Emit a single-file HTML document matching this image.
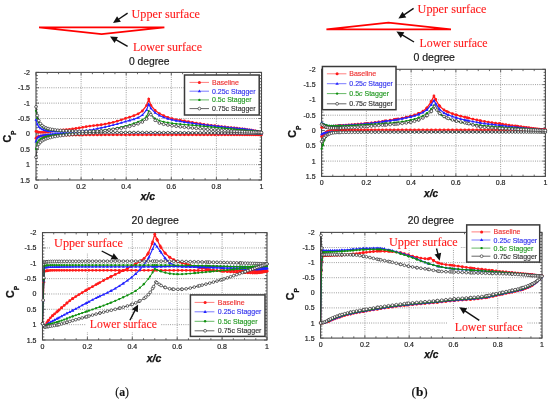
<!DOCTYPE html><html><head><meta charset="utf-8"><title>Cp distributions</title><style>
*{margin:0;padding:0}
html,body{width:550px;height:401px;background:#fff;overflow:hidden}
svg{display:block}
.tl{font-family:"Liberation Sans",Arial,sans-serif;font-size:7px;fill:#222;stroke:#222;stroke-width:0.18px}
.lg{font-family:"Liberation Sans",Arial,sans-serif;font-size:7px;stroke-width:0.15px}
.an{font-family:"Liberation Serif","Times New Roman",serif;font-size:12.6px;fill:#ff1a1a;stroke:#ff1a1a;stroke-width:0.1px}
.ti{font-family:"Liberation Sans",Arial,sans-serif;font-size:10.3px;fill:#1a1a1a;stroke:#1a1a1a;stroke-width:0.2px}
.xl{font-family:"Liberation Sans",Arial,sans-serif;font-size:10px;font-weight:bold;font-style:italic;fill:#111;stroke:#111;stroke-width:0.25px}
.cp{font-family:"Liberation Sans",Arial,sans-serif;font-size:10.6px;font-weight:bold;fill:#111;stroke:#111;stroke-width:0.3px}
.cap{font-family:"Liberation Serif","Times New Roman",serif;font-size:12.2px;fill:#111;stroke:#111;stroke-width:0.15px}
</style></head><body><svg width="550" height="401" viewBox="0 0 550 401"><path d="M39 27.4H164.4M39 27.4L101.6 34.1L164.4 27.4" stroke="#ff0000" stroke-width="1.6" fill="none" stroke-linejoin="miter"/>
<path d="M326.4 29.4H451M326.4 29.4L388.4 22.6L451 29.4" stroke="#ff0000" stroke-width="1.6" fill="none"/>
<path d="M127.6 13.2L118.56 19.27" stroke="#111" stroke-width="1.4"/><path d="M113 23L117.08 16.16L120.87 21.81z" fill="#111"/>
<path d="M127.6 46.4L115.83 39.71" stroke="#111" stroke-width="1.4"/><path d="M110 36.4L117.94 37L114.58 42.91z" fill="#111"/>
<path d="M413.6 8.4L403.96 14.87" stroke="#111" stroke-width="1.4"/><path d="M398.4 18.6L402.48 11.76L406.27 17.41z" fill="#111"/>
<path d="M414 42L402.14 34.86" stroke="#111" stroke-width="1.4"/><path d="M396.4 31.4L404.32 32.2L400.81 38.03z" fill="#111"/>
<text x="131.6" y="17.5" class="an" textLength="68.4" lengthAdjust="spacingAndGlyphs">Upper surface</text>
<text x="133" y="50.5" class="an" textLength="69" lengthAdjust="spacingAndGlyphs">Lower surface</text>
<text x="417.6" y="12.9" class="an" textLength="68.8" lengthAdjust="spacingAndGlyphs">Upper surface</text>
<text x="419.6" y="46.9" class="an" textLength="68" lengthAdjust="spacingAndGlyphs">Lower surface</text>
<text x="128.9" y="64.9" class="ti" textLength="40.7" lengthAdjust="spacingAndGlyphs">0 degree</text>
<text x="413.4" y="61.2" class="ti" textLength="41.6" lengthAdjust="spacingAndGlyphs">0 degree</text>
<text x="131.6" y="224.2" class="ti" textLength="47.3" lengthAdjust="spacingAndGlyphs">20 degree</text>
<text x="407.7" y="223.9" class="ti" textLength="46.3" lengthAdjust="spacingAndGlyphs">20 degree</text>
<text x="140.5" y="200.2" class="xl" textLength="14.6" lengthAdjust="spacingAndGlyphs">x/c</text>
<text x="424" y="197" class="xl" textLength="14.1" lengthAdjust="spacingAndGlyphs">x/c</text>
<text x="146.7" y="361.7" class="xl" textLength="14.7" lengthAdjust="spacingAndGlyphs">x/c</text>
<text x="424.2" y="357.9" class="xl" textLength="14.2" lengthAdjust="spacingAndGlyphs">x/c</text>
<text transform="translate(11.2 142.6) rotate(-90)" class="cp">C<tspan font-size="6.6" dy="5.2">P</tspan></text>
<text transform="translate(295.5 137.7) rotate(-90)" class="cp">C<tspan font-size="6.6" dy="5.2">P</tspan></text>
<text transform="translate(14 298) rotate(-90)" class="cp">C<tspan font-size="6.6" dy="5.2">P</tspan></text>
<text transform="translate(294.2 300.2) rotate(-90)" class="cp">C<tspan font-size="6.6" dy="5.2">P</tspan></text>
<path d="M81.1 72.4V180M126.2 72.4V180M171.3 72.4V180M216.4 72.4V180M36 87.77H261.5M36 103.14H261.5M36 118.51H261.5M36 133.89H261.5M36 149.26H261.5M36 164.63H261.5" stroke="#7a7a7a" stroke-width="0.8" stroke-dasharray="0.9 1.3" fill="none"/>
<path d="M36 180v-3M36 72.4v3M47.27 180v-1.8M47.27 72.4v1.8M58.55 180v-1.8M58.55 72.4v1.8M69.83 180v-1.8M69.83 72.4v1.8M81.1 180v-3M81.1 72.4v3M92.38 180v-1.8M92.38 72.4v1.8M103.65 180v-1.8M103.65 72.4v1.8M114.93 180v-1.8M114.93 72.4v1.8M126.2 180v-3M126.2 72.4v3M137.48 180v-1.8M137.48 72.4v1.8M148.75 180v-1.8M148.75 72.4v1.8M160.03 180v-1.8M160.03 72.4v1.8M171.3 180v-3M171.3 72.4v3M182.58 180v-1.8M182.58 72.4v1.8M193.85 180v-1.8M193.85 72.4v1.8M205.12 180v-1.8M205.12 72.4v1.8M216.4 180v-3M216.4 72.4v3M227.68 180v-1.8M227.68 72.4v1.8M238.95 180v-1.8M238.95 72.4v1.8M250.23 180v-1.8M250.23 72.4v1.8M261.5 180v-3M261.5 72.4v3M36 72.4h3M261.5 72.4h-3M36 75.47h1.8M261.5 75.47h-1.8M36 78.55h1.8M261.5 78.55h-1.8M36 81.62h1.8M261.5 81.62h-1.8M36 84.7h1.8M261.5 84.7h-1.8M36 87.77h3M261.5 87.77h-3M36 90.85h1.8M261.5 90.85h-1.8M36 93.92h1.8M261.5 93.92h-1.8M36 96.99h1.8M261.5 96.99h-1.8M36 100.07h1.8M261.5 100.07h-1.8M36 103.14h3M261.5 103.14h-3M36 106.22h1.8M261.5 106.22h-1.8M36 109.29h1.8M261.5 109.29h-1.8M36 112.37h1.8M261.5 112.37h-1.8M36 115.44h1.8M261.5 115.44h-1.8M36 118.51h3M261.5 118.51h-3M36 121.59h1.8M261.5 121.59h-1.8M36 124.66h1.8M261.5 124.66h-1.8M36 127.74h1.8M261.5 127.74h-1.8M36 130.81h1.8M261.5 130.81h-1.8M36 133.89h3M261.5 133.89h-3M36 136.96h1.8M261.5 136.96h-1.8M36 140.03h1.8M261.5 140.03h-1.8M36 143.11h1.8M261.5 143.11h-1.8M36 146.18h1.8M261.5 146.18h-1.8M36 149.26h3M261.5 149.26h-3M36 152.33h1.8M261.5 152.33h-1.8M36 155.41h1.8M261.5 155.41h-1.8M36 158.48h1.8M261.5 158.48h-1.8M36 161.55h1.8M261.5 161.55h-1.8M36 164.63h3M261.5 164.63h-3M36 167.7h1.8M261.5 167.7h-1.8M36 170.78h1.8M261.5 170.78h-1.8M36 173.85h1.8M261.5 173.85h-1.8M36 176.93h1.8M261.5 176.93h-1.8M36 180h3M261.5 180h-3" stroke="#444" stroke-width="0.8" fill="none"/>
<rect x="36" y="72.4" width="225.5" height="107.6" fill="none" stroke="#4a4a4a" stroke-width="1.1"/>
<text x="30" y="74.9" class="tl" text-anchor="end">-2</text>
<text x="30" y="90.27" class="tl" text-anchor="end">-1.5</text>
<text x="30" y="105.64" class="tl" text-anchor="end">-1</text>
<text x="30" y="121.01" class="tl" text-anchor="end">-0.5</text>
<text x="30" y="136.39" class="tl" text-anchor="end">0</text>
<text x="30" y="151.76" class="tl" text-anchor="end">0.5</text>
<text x="30" y="167.13" class="tl" text-anchor="end">1</text>
<text x="30" y="182.5" class="tl" text-anchor="end">1.5</text>
<text x="36" y="188.8" class="tl" text-anchor="middle">0</text>
<text x="81.1" y="188.8" class="tl" text-anchor="middle">0.2</text>
<text x="126.2" y="188.8" class="tl" text-anchor="middle">0.4</text>
<text x="171.3" y="188.8" class="tl" text-anchor="middle">0.6</text>
<text x="216.4" y="188.8" class="tl" text-anchor="middle">0.8</text>
<text x="261.5" y="188.8" class="tl" text-anchor="middle">1</text>
<g>
<path d="M36 138.19 L37.34 136.86 L38.81 136.42 L40.41 136.16 L42.14 135.97 L44 135.82 L45.99 135.71 L48.11 135.61 L50.36 135.53 L52.73 135.45 L55.22 135.39 L57.83 135.33 L60.56 135.28 L63.4 135.23 L66.36 135.18 L69.42 135.14 L72.58 135.1 L75.85 135.06 L79.21 135.03 L82.67 135 L86.21 134.97 L89.84 134.95 L93.55 134.93 L97.33 134.91 L101.18 134.89 L105.1 134.87 L109.07 134.86 L113.1 134.85 L117.18 134.84 L121.3 134.83 L125.46 134.83 L129.65 134.82 L133.87 134.82 L138.11 134.82 L142.36 134.81 L146.62 134.81 L150.88 134.81 L155.14 134.81 L159.39 134.81 L163.63 134.81 L167.85 134.81 L172.04 134.81 L176.2 134.81 L180.32 134.81 L184.4 134.81 L188.43 134.81 L192.4 134.81 L196.32 134.81 L200.17 134.81 L203.95 134.81 L207.66 134.81 L211.29 134.81 L214.83 134.81 L218.29 134.81 L221.65 134.81 L224.92 134.81 L228.08 134.81 L231.14 134.81 L234.1 134.81 L236.94 134.81 L239.67 134.81 L242.28 134.81 L244.77 134.81 L247.14 134.81 L249.39 134.81 L251.51 134.81 L253.5 134.81 L255.36 134.81 L257.09 134.81 L258.69 134.81 L260.16 134.81 L261.5 134.81" stroke="#ff1a1a" stroke-width="1.3" fill="none"/>
<g fill="#ff1a1a"><circle cx="36" cy="138.19" r="1.4"/><circle cx="37.34" cy="136.86" r="1.4"/><circle cx="38.81" cy="136.42" r="1.4"/><circle cx="40.41" cy="136.16" r="1.4"/><circle cx="42.14" cy="135.97" r="1.4"/><circle cx="44" cy="135.82" r="1.4"/><circle cx="45.99" cy="135.71" r="1.4"/><circle cx="48.11" cy="135.61" r="1.4"/><circle cx="50.36" cy="135.53" r="1.4"/><circle cx="52.73" cy="135.45" r="1.4"/><circle cx="55.22" cy="135.39" r="1.4"/><circle cx="57.83" cy="135.33" r="1.4"/><circle cx="60.56" cy="135.28" r="1.4"/><circle cx="63.4" cy="135.23" r="1.4"/><circle cx="66.36" cy="135.18" r="1.4"/><circle cx="69.42" cy="135.14" r="1.4"/><circle cx="72.58" cy="135.1" r="1.4"/><circle cx="75.85" cy="135.06" r="1.4"/><circle cx="79.21" cy="135.03" r="1.4"/><circle cx="82.67" cy="135" r="1.4"/><circle cx="86.21" cy="134.97" r="1.4"/><circle cx="89.84" cy="134.95" r="1.4"/><circle cx="93.55" cy="134.93" r="1.4"/><circle cx="97.33" cy="134.91" r="1.4"/><circle cx="101.18" cy="134.89" r="1.4"/><circle cx="105.1" cy="134.87" r="1.4"/><circle cx="109.07" cy="134.86" r="1.4"/><circle cx="113.1" cy="134.85" r="1.4"/><circle cx="117.18" cy="134.84" r="1.4"/><circle cx="121.3" cy="134.83" r="1.4"/><circle cx="125.46" cy="134.83" r="1.4"/><circle cx="129.65" cy="134.82" r="1.4"/><circle cx="133.87" cy="134.82" r="1.4"/><circle cx="138.11" cy="134.82" r="1.4"/><circle cx="142.36" cy="134.81" r="1.4"/><circle cx="146.62" cy="134.81" r="1.4"/><circle cx="150.88" cy="134.81" r="1.4"/><circle cx="155.14" cy="134.81" r="1.4"/><circle cx="159.39" cy="134.81" r="1.4"/><circle cx="163.63" cy="134.81" r="1.4"/><circle cx="167.85" cy="134.81" r="1.4"/><circle cx="172.04" cy="134.81" r="1.4"/><circle cx="176.2" cy="134.81" r="1.4"/><circle cx="180.32" cy="134.81" r="1.4"/><circle cx="184.4" cy="134.81" r="1.4"/><circle cx="188.43" cy="134.81" r="1.4"/><circle cx="192.4" cy="134.81" r="1.4"/><circle cx="196.32" cy="134.81" r="1.4"/><circle cx="200.17" cy="134.81" r="1.4"/><circle cx="203.95" cy="134.81" r="1.4"/><circle cx="207.66" cy="134.81" r="1.4"/><circle cx="211.29" cy="134.81" r="1.4"/><circle cx="214.83" cy="134.81" r="1.4"/><circle cx="218.29" cy="134.81" r="1.4"/><circle cx="221.65" cy="134.81" r="1.4"/><circle cx="224.92" cy="134.81" r="1.4"/><circle cx="228.08" cy="134.81" r="1.4"/><circle cx="231.14" cy="134.81" r="1.4"/><circle cx="234.1" cy="134.81" r="1.4"/><circle cx="236.94" cy="134.81" r="1.4"/><circle cx="239.67" cy="134.81" r="1.4"/><circle cx="242.28" cy="134.81" r="1.4"/><circle cx="244.77" cy="134.81" r="1.4"/><circle cx="247.14" cy="134.81" r="1.4"/><circle cx="249.39" cy="134.81" r="1.4"/><circle cx="251.51" cy="134.81" r="1.4"/><circle cx="253.5" cy="134.81" r="1.4"/><circle cx="255.36" cy="134.81" r="1.4"/><circle cx="257.09" cy="134.81" r="1.4"/><circle cx="258.69" cy="134.81" r="1.4"/><circle cx="260.16" cy="134.81" r="1.4"/><circle cx="261.5" cy="134.81" r="1.4"/></g>
<path d="M36 131.43 L37.34 131.93 L38.81 132.2 L40.41 132.31 L42.14 132.34 L44 132.29 L45.99 132.19 L48.11 132.02 L50.36 131.61 L52.73 131.06 L55.22 130.63 L57.83 130.35 L60.56 130.11 L63.4 129.86 L66.36 129.59 L69.42 129.31 L72.58 128.97 L75.85 128.49 L79.21 127.89 L82.67 127.29 L86.21 126.66 L89.84 126.07 L93.55 125.61 L97.33 125.24 L101.18 124.76 L105.1 124.08 L109.07 123.25 L113.1 122.28 L117.18 121.13 L121.3 119.82 L125.46 118.43 L129.65 117.09 L133.87 115.71 L138.11 113.9 L142.36 111.01 L146.62 105.4 L148.75 99.12 L150.88 105.36 L155.14 110.49 L159.39 113.54 L163.63 115.68 L167.85 117.42 L172.04 118.68 L176.2 119.55 L180.32 120.25 L184.4 120.99 L188.43 121.74 L192.4 122.47 L196.32 123.15 L200.17 123.76 L203.95 124.31 L207.66 124.81 L211.29 125.28 L214.83 125.73 L218.29 126.15 L221.65 126.56 L224.92 126.96 L228.08 127.32 L231.14 127.65 L234.1 127.96 L236.94 128.27 L239.67 128.58 L242.28 128.89 L244.77 129.21 L247.14 129.55 L249.39 129.9 L251.51 130.27 L253.5 130.64 L255.36 131.02 L257.09 131.38 L258.69 131.72 L260.16 132.04 L261.5 132.34" stroke="#ff1a1a" stroke-width="1.3" fill="none"/>
<g fill="#ff1a1a"><circle cx="36" cy="131.43" r="1.4"/><circle cx="37.34" cy="131.93" r="1.4"/><circle cx="38.81" cy="132.2" r="1.4"/><circle cx="40.41" cy="132.31" r="1.4"/><circle cx="42.14" cy="132.34" r="1.4"/><circle cx="44" cy="132.29" r="1.4"/><circle cx="45.99" cy="132.19" r="1.4"/><circle cx="48.11" cy="132.02" r="1.4"/><circle cx="50.36" cy="131.61" r="1.4"/><circle cx="52.73" cy="131.06" r="1.4"/><circle cx="55.22" cy="130.63" r="1.4"/><circle cx="57.83" cy="130.35" r="1.4"/><circle cx="60.56" cy="130.11" r="1.4"/><circle cx="63.4" cy="129.86" r="1.4"/><circle cx="66.36" cy="129.59" r="1.4"/><circle cx="69.42" cy="129.31" r="1.4"/><circle cx="72.58" cy="128.97" r="1.4"/><circle cx="75.85" cy="128.49" r="1.4"/><circle cx="79.21" cy="127.89" r="1.4"/><circle cx="82.67" cy="127.29" r="1.4"/><circle cx="86.21" cy="126.66" r="1.4"/><circle cx="89.84" cy="126.07" r="1.4"/><circle cx="93.55" cy="125.61" r="1.4"/><circle cx="97.33" cy="125.24" r="1.4"/><circle cx="101.18" cy="124.76" r="1.4"/><circle cx="105.1" cy="124.08" r="1.4"/><circle cx="109.07" cy="123.25" r="1.4"/><circle cx="113.1" cy="122.28" r="1.4"/><circle cx="117.18" cy="121.13" r="1.4"/><circle cx="121.3" cy="119.82" r="1.4"/><circle cx="125.46" cy="118.43" r="1.4"/><circle cx="129.65" cy="117.09" r="1.4"/><circle cx="133.87" cy="115.71" r="1.4"/><circle cx="138.11" cy="113.9" r="1.4"/><circle cx="142.36" cy="111.01" r="1.4"/><circle cx="146.62" cy="105.4" r="1.4"/><circle cx="148.75" cy="99.12" r="1.4"/><circle cx="150.88" cy="105.36" r="1.4"/><circle cx="155.14" cy="110.49" r="1.4"/><circle cx="159.39" cy="113.54" r="1.4"/><circle cx="163.63" cy="115.68" r="1.4"/><circle cx="167.85" cy="117.42" r="1.4"/><circle cx="172.04" cy="118.68" r="1.4"/><circle cx="176.2" cy="119.55" r="1.4"/><circle cx="180.32" cy="120.25" r="1.4"/><circle cx="184.4" cy="120.99" r="1.4"/><circle cx="188.43" cy="121.74" r="1.4"/><circle cx="192.4" cy="122.47" r="1.4"/><circle cx="196.32" cy="123.15" r="1.4"/><circle cx="200.17" cy="123.76" r="1.4"/><circle cx="203.95" cy="124.31" r="1.4"/><circle cx="207.66" cy="124.81" r="1.4"/><circle cx="211.29" cy="125.28" r="1.4"/><circle cx="214.83" cy="125.73" r="1.4"/><circle cx="218.29" cy="126.15" r="1.4"/><circle cx="221.65" cy="126.56" r="1.4"/><circle cx="224.92" cy="126.96" r="1.4"/><circle cx="228.08" cy="127.32" r="1.4"/><circle cx="231.14" cy="127.65" r="1.4"/><circle cx="234.1" cy="127.96" r="1.4"/><circle cx="236.94" cy="128.27" r="1.4"/><circle cx="239.67" cy="128.58" r="1.4"/><circle cx="242.28" cy="128.89" r="1.4"/><circle cx="244.77" cy="129.21" r="1.4"/><circle cx="247.14" cy="129.55" r="1.4"/><circle cx="249.39" cy="129.9" r="1.4"/><circle cx="251.51" cy="130.27" r="1.4"/><circle cx="253.5" cy="130.64" r="1.4"/><circle cx="255.36" cy="131.02" r="1.4"/><circle cx="257.09" cy="131.38" r="1.4"/><circle cx="258.69" cy="131.72" r="1.4"/><circle cx="260.16" cy="132.04" r="1.4"/><circle cx="261.5" cy="132.34" r="1.4"/></g>
<path d="M36 141.42 L37.34 137.85 L38.81 136.68 L40.41 135.96 L42.14 135.45 L44 135.07 L45.99 134.75 L48.11 134.5 L50.36 134.27 L52.73 134.08 L55.22 133.9 L57.83 133.75 L60.56 133.6 L63.4 133.47 L66.36 133.35 L69.42 133.24 L72.58 133.13 L75.85 133.04 L79.21 132.95 L82.67 132.87 L86.21 132.79 L89.84 132.73 L93.55 132.67 L97.33 132.61 L101.18 132.57 L105.1 132.54 L109.07 132.53 L113.1 132.53 L117.18 132.53 L121.3 132.54 L125.46 132.55 L129.65 132.57 L133.87 132.59 L138.11 132.61 L142.36 132.63 L146.62 132.65 L150.88 132.68 L155.14 132.71 L159.39 132.73 L163.63 132.76 L167.85 132.79 L172.04 132.82 L176.2 132.84 L180.32 132.87 L184.4 132.9 L188.43 132.93 L192.4 132.95 L196.32 132.98 L200.17 133.01 L203.95 133.03 L207.66 133.06 L211.29 133.08 L214.83 133.11 L218.29 133.13 L221.65 133.15 L224.92 133.18 L228.08 133.2 L231.14 133.22 L234.1 133.24 L236.94 133.26 L239.67 133.28 L242.28 133.29 L244.77 133.31 L247.14 133.33 L249.39 133.34 L251.51 133.36 L253.5 133.37 L255.36 133.38 L257.09 133.39 L258.69 133.41 L260.16 133.42 L261.5 133.42" stroke="#2323ff" stroke-width="1.1" fill="none"/>
<g fill="#2323ff"><path d="M36 139.82l1.55 2.6h-3.1z"/><path d="M37.34 136.25l1.55 2.6h-3.1z"/><path d="M38.81 135.08l1.55 2.6h-3.1z"/><path d="M40.41 134.36l1.55 2.6h-3.1z"/><path d="M42.14 133.85l1.55 2.6h-3.1z"/><path d="M44 133.47l1.55 2.6h-3.1z"/><path d="M45.99 133.15l1.55 2.6h-3.1z"/><path d="M48.11 132.9l1.55 2.6h-3.1z"/><path d="M50.36 132.67l1.55 2.6h-3.1z"/><path d="M52.73 132.48l1.55 2.6h-3.1z"/><path d="M55.22 132.3l1.55 2.6h-3.1z"/><path d="M57.83 132.15l1.55 2.6h-3.1z"/><path d="M60.56 132l1.55 2.6h-3.1z"/><path d="M63.4 131.87l1.55 2.6h-3.1z"/><path d="M66.36 131.75l1.55 2.6h-3.1z"/><path d="M69.42 131.64l1.55 2.6h-3.1z"/><path d="M72.58 131.53l1.55 2.6h-3.1z"/><path d="M75.85 131.44l1.55 2.6h-3.1z"/><path d="M79.21 131.35l1.55 2.6h-3.1z"/><path d="M82.67 131.27l1.55 2.6h-3.1z"/><path d="M86.21 131.19l1.55 2.6h-3.1z"/><path d="M89.84 131.13l1.55 2.6h-3.1z"/><path d="M93.55 131.07l1.55 2.6h-3.1z"/><path d="M97.33 131.01l1.55 2.6h-3.1z"/><path d="M101.18 130.97l1.55 2.6h-3.1z"/><path d="M105.1 130.94l1.55 2.6h-3.1z"/><path d="M109.07 130.93l1.55 2.6h-3.1z"/><path d="M113.1 130.93l1.55 2.6h-3.1z"/><path d="M117.18 130.93l1.55 2.6h-3.1z"/><path d="M121.3 130.94l1.55 2.6h-3.1z"/><path d="M125.46 130.95l1.55 2.6h-3.1z"/><path d="M129.65 130.97l1.55 2.6h-3.1z"/><path d="M133.87 130.99l1.55 2.6h-3.1z"/><path d="M138.11 131.01l1.55 2.6h-3.1z"/><path d="M142.36 131.03l1.55 2.6h-3.1z"/><path d="M146.62 131.05l1.55 2.6h-3.1z"/><path d="M150.88 131.08l1.55 2.6h-3.1z"/><path d="M155.14 131.11l1.55 2.6h-3.1z"/><path d="M159.39 131.13l1.55 2.6h-3.1z"/><path d="M163.63 131.16l1.55 2.6h-3.1z"/><path d="M167.85 131.19l1.55 2.6h-3.1z"/><path d="M172.04 131.22l1.55 2.6h-3.1z"/><path d="M176.2 131.24l1.55 2.6h-3.1z"/><path d="M180.32 131.27l1.55 2.6h-3.1z"/><path d="M184.4 131.3l1.55 2.6h-3.1z"/><path d="M188.43 131.33l1.55 2.6h-3.1z"/><path d="M192.4 131.35l1.55 2.6h-3.1z"/><path d="M196.32 131.38l1.55 2.6h-3.1z"/><path d="M200.17 131.41l1.55 2.6h-3.1z"/><path d="M203.95 131.43l1.55 2.6h-3.1z"/><path d="M207.66 131.46l1.55 2.6h-3.1z"/><path d="M211.29 131.48l1.55 2.6h-3.1z"/><path d="M214.83 131.51l1.55 2.6h-3.1z"/><path d="M218.29 131.53l1.55 2.6h-3.1z"/><path d="M221.65 131.55l1.55 2.6h-3.1z"/><path d="M224.92 131.58l1.55 2.6h-3.1z"/><path d="M228.08 131.6l1.55 2.6h-3.1z"/><path d="M231.14 131.62l1.55 2.6h-3.1z"/><path d="M234.1 131.64l1.55 2.6h-3.1z"/><path d="M236.94 131.66l1.55 2.6h-3.1z"/><path d="M239.67 131.68l1.55 2.6h-3.1z"/><path d="M242.28 131.69l1.55 2.6h-3.1z"/><path d="M244.77 131.71l1.55 2.6h-3.1z"/><path d="M247.14 131.73l1.55 2.6h-3.1z"/><path d="M249.39 131.74l1.55 2.6h-3.1z"/><path d="M251.51 131.76l1.55 2.6h-3.1z"/><path d="M253.5 131.77l1.55 2.6h-3.1z"/><path d="M255.36 131.78l1.55 2.6h-3.1z"/><path d="M257.09 131.79l1.55 2.6h-3.1z"/><path d="M258.69 131.81l1.55 2.6h-3.1z"/><path d="M260.16 131.82l1.55 2.6h-3.1z"/><path d="M261.5 131.82l1.55 2.6h-3.1z"/></g>
<path d="M36 119.74 L37.34 124.19 L38.81 126.79 L40.41 128.36 L42.14 129.37 L44 130.06 L45.99 130.54 L48.11 130.89 L50.36 131.15 L52.73 131.33 L55.22 131.47 L57.83 131.56 L60.56 131.62 L63.4 131.63 L66.36 131.6 L69.42 131.53 L72.58 131.42 L75.85 131.27 L79.21 131.05 L82.67 130.77 L86.21 130.43 L89.84 130 L93.55 129.42 L97.33 128.6 L101.18 127.75 L105.1 126.93 L109.07 126.07 L113.1 125.08 L117.18 123.99 L121.3 122.81 L125.46 121.56 L129.65 120.38 L133.87 119.2 L138.11 117.63 L142.36 115.04 L146.62 109.93 L148.75 104.18 L150.88 108.32 L155.14 112.86 L159.39 115.49 L163.63 117.3 L167.85 118.68 L172.04 119.76 L176.2 120.63 L180.32 121.34 L184.4 121.99 L188.43 122.62 L192.4 123.2 L196.32 123.75 L200.17 124.26 L203.95 124.74 L207.66 125.19 L211.29 125.62 L214.83 126.03 L218.29 126.42 L221.65 126.79 L224.92 127.15 L228.08 127.47 L231.14 127.76 L234.1 128.03 L236.94 128.3 L239.67 128.57 L242.28 128.86 L244.77 129.15 L247.14 129.46 L249.39 129.8 L251.51 130.16 L253.5 130.53 L255.36 130.91 L257.09 131.27 L258.69 131.62 L260.16 131.95 L261.5 132.26" stroke="#2323ff" stroke-width="1.1" fill="none"/>
<g fill="#2323ff"><path d="M36 118.14l1.55 2.6h-3.1z"/><path d="M37.34 122.59l1.55 2.6h-3.1z"/><path d="M38.81 125.19l1.55 2.6h-3.1z"/><path d="M40.41 126.76l1.55 2.6h-3.1z"/><path d="M42.14 127.77l1.55 2.6h-3.1z"/><path d="M44 128.46l1.55 2.6h-3.1z"/><path d="M45.99 128.94l1.55 2.6h-3.1z"/><path d="M48.11 129.29l1.55 2.6h-3.1z"/><path d="M50.36 129.55l1.55 2.6h-3.1z"/><path d="M52.73 129.73l1.55 2.6h-3.1z"/><path d="M55.22 129.87l1.55 2.6h-3.1z"/><path d="M57.83 129.96l1.55 2.6h-3.1z"/><path d="M60.56 130.02l1.55 2.6h-3.1z"/><path d="M63.4 130.03l1.55 2.6h-3.1z"/><path d="M66.36 130l1.55 2.6h-3.1z"/><path d="M69.42 129.93l1.55 2.6h-3.1z"/><path d="M72.58 129.82l1.55 2.6h-3.1z"/><path d="M75.85 129.67l1.55 2.6h-3.1z"/><path d="M79.21 129.45l1.55 2.6h-3.1z"/><path d="M82.67 129.17l1.55 2.6h-3.1z"/><path d="M86.21 128.83l1.55 2.6h-3.1z"/><path d="M89.84 128.4l1.55 2.6h-3.1z"/><path d="M93.55 127.82l1.55 2.6h-3.1z"/><path d="M97.33 127l1.55 2.6h-3.1z"/><path d="M101.18 126.15l1.55 2.6h-3.1z"/><path d="M105.1 125.33l1.55 2.6h-3.1z"/><path d="M109.07 124.47l1.55 2.6h-3.1z"/><path d="M113.1 123.48l1.55 2.6h-3.1z"/><path d="M117.18 122.39l1.55 2.6h-3.1z"/><path d="M121.3 121.21l1.55 2.6h-3.1z"/><path d="M125.46 119.96l1.55 2.6h-3.1z"/><path d="M129.65 118.78l1.55 2.6h-3.1z"/><path d="M133.87 117.6l1.55 2.6h-3.1z"/><path d="M138.11 116.03l1.55 2.6h-3.1z"/><path d="M142.36 113.44l1.55 2.6h-3.1z"/><path d="M146.62 108.33l1.55 2.6h-3.1z"/><path d="M148.75 102.58l1.55 2.6h-3.1z"/><path d="M150.88 106.72l1.55 2.6h-3.1z"/><path d="M155.14 111.26l1.55 2.6h-3.1z"/><path d="M159.39 113.89l1.55 2.6h-3.1z"/><path d="M163.63 115.7l1.55 2.6h-3.1z"/><path d="M167.85 117.08l1.55 2.6h-3.1z"/><path d="M172.04 118.16l1.55 2.6h-3.1z"/><path d="M176.2 119.03l1.55 2.6h-3.1z"/><path d="M180.32 119.74l1.55 2.6h-3.1z"/><path d="M184.4 120.39l1.55 2.6h-3.1z"/><path d="M188.43 121.02l1.55 2.6h-3.1z"/><path d="M192.4 121.6l1.55 2.6h-3.1z"/><path d="M196.32 122.15l1.55 2.6h-3.1z"/><path d="M200.17 122.66l1.55 2.6h-3.1z"/><path d="M203.95 123.14l1.55 2.6h-3.1z"/><path d="M207.66 123.59l1.55 2.6h-3.1z"/><path d="M211.29 124.02l1.55 2.6h-3.1z"/><path d="M214.83 124.43l1.55 2.6h-3.1z"/><path d="M218.29 124.82l1.55 2.6h-3.1z"/><path d="M221.65 125.19l1.55 2.6h-3.1z"/><path d="M224.92 125.55l1.55 2.6h-3.1z"/><path d="M228.08 125.87l1.55 2.6h-3.1z"/><path d="M231.14 126.16l1.55 2.6h-3.1z"/><path d="M234.1 126.43l1.55 2.6h-3.1z"/><path d="M236.94 126.7l1.55 2.6h-3.1z"/><path d="M239.67 126.97l1.55 2.6h-3.1z"/><path d="M242.28 127.26l1.55 2.6h-3.1z"/><path d="M244.77 127.55l1.55 2.6h-3.1z"/><path d="M247.14 127.86l1.55 2.6h-3.1z"/><path d="M249.39 128.2l1.55 2.6h-3.1z"/><path d="M251.51 128.56l1.55 2.6h-3.1z"/><path d="M253.5 128.93l1.55 2.6h-3.1z"/><path d="M255.36 129.31l1.55 2.6h-3.1z"/><path d="M257.09 129.67l1.55 2.6h-3.1z"/><path d="M258.69 130.02l1.55 2.6h-3.1z"/><path d="M260.16 130.35l1.55 2.6h-3.1z"/><path d="M261.5 130.66l1.55 2.6h-3.1z"/></g>
<path d="M36 149.1 L37.34 142.44 L38.81 140.26 L40.41 138.93 L42.14 137.99 L44 137.26 L45.99 136.68 L48.11 136.2 L50.36 135.78 L52.73 135.42 L55.22 135.09 L57.83 134.8 L60.56 134.53 L63.4 134.29 L66.36 134.06 L69.42 133.85 L72.58 133.66 L75.85 133.48 L79.21 133.31 L82.67 133.16 L86.21 133.03 L89.84 132.9 L93.55 132.79 L97.33 132.69 L101.18 132.6 L105.1 132.54 L109.07 132.5 L113.1 132.47 L117.18 132.46 L121.3 132.45 L125.46 132.45 L129.65 132.45 L133.87 132.46 L138.11 132.47 L142.36 132.49 L146.62 132.51 L150.88 132.53 L155.14 132.56 L159.39 132.58 L163.63 132.61 L167.85 132.64 L172.04 132.66 L176.2 132.69 L180.32 132.72 L184.4 132.75 L188.43 132.77 L192.4 132.8 L196.32 132.83 L200.17 132.85 L203.95 132.88 L207.66 132.9 L211.29 132.93 L214.83 132.95 L218.29 132.98 L221.65 133 L224.92 133.02 L228.08 133.04 L231.14 133.06 L234.1 133.08 L236.94 133.1 L239.67 133.12 L242.28 133.14 L244.77 133.16 L247.14 133.17 L249.39 133.19 L251.51 133.2 L253.5 133.22 L255.36 133.23 L257.09 133.24 L258.69 133.25 L260.16 133.26 L261.5 133.27" stroke="#109010" stroke-width="1.0" fill="none"/>
<g fill="#109010"><circle cx="36" cy="149.1" r="1.1"/><circle cx="37.34" cy="142.44" r="1.1"/><circle cx="38.81" cy="140.26" r="1.1"/><circle cx="40.41" cy="138.93" r="1.1"/><circle cx="42.14" cy="137.99" r="1.1"/><circle cx="44" cy="137.26" r="1.1"/><circle cx="45.99" cy="136.68" r="1.1"/><circle cx="48.11" cy="136.2" r="1.1"/><circle cx="50.36" cy="135.78" r="1.1"/><circle cx="52.73" cy="135.42" r="1.1"/><circle cx="55.22" cy="135.09" r="1.1"/><circle cx="57.83" cy="134.8" r="1.1"/><circle cx="60.56" cy="134.53" r="1.1"/><circle cx="63.4" cy="134.29" r="1.1"/><circle cx="66.36" cy="134.06" r="1.1"/><circle cx="69.42" cy="133.85" r="1.1"/><circle cx="72.58" cy="133.66" r="1.1"/><circle cx="75.85" cy="133.48" r="1.1"/><circle cx="79.21" cy="133.31" r="1.1"/><circle cx="82.67" cy="133.16" r="1.1"/><circle cx="86.21" cy="133.03" r="1.1"/><circle cx="89.84" cy="132.9" r="1.1"/><circle cx="93.55" cy="132.79" r="1.1"/><circle cx="97.33" cy="132.69" r="1.1"/><circle cx="101.18" cy="132.6" r="1.1"/><circle cx="105.1" cy="132.54" r="1.1"/><circle cx="109.07" cy="132.5" r="1.1"/><circle cx="113.1" cy="132.47" r="1.1"/><circle cx="117.18" cy="132.46" r="1.1"/><circle cx="121.3" cy="132.45" r="1.1"/><circle cx="125.46" cy="132.45" r="1.1"/><circle cx="129.65" cy="132.45" r="1.1"/><circle cx="133.87" cy="132.46" r="1.1"/><circle cx="138.11" cy="132.47" r="1.1"/><circle cx="142.36" cy="132.49" r="1.1"/><circle cx="146.62" cy="132.51" r="1.1"/><circle cx="150.88" cy="132.53" r="1.1"/><circle cx="155.14" cy="132.56" r="1.1"/><circle cx="159.39" cy="132.58" r="1.1"/><circle cx="163.63" cy="132.61" r="1.1"/><circle cx="167.85" cy="132.64" r="1.1"/><circle cx="172.04" cy="132.66" r="1.1"/><circle cx="176.2" cy="132.69" r="1.1"/><circle cx="180.32" cy="132.72" r="1.1"/><circle cx="184.4" cy="132.75" r="1.1"/><circle cx="188.43" cy="132.77" r="1.1"/><circle cx="192.4" cy="132.8" r="1.1"/><circle cx="196.32" cy="132.83" r="1.1"/><circle cx="200.17" cy="132.85" r="1.1"/><circle cx="203.95" cy="132.88" r="1.1"/><circle cx="207.66" cy="132.9" r="1.1"/><circle cx="211.29" cy="132.93" r="1.1"/><circle cx="214.83" cy="132.95" r="1.1"/><circle cx="218.29" cy="132.98" r="1.1"/><circle cx="221.65" cy="133" r="1.1"/><circle cx="224.92" cy="133.02" r="1.1"/><circle cx="228.08" cy="133.04" r="1.1"/><circle cx="231.14" cy="133.06" r="1.1"/><circle cx="234.1" cy="133.08" r="1.1"/><circle cx="236.94" cy="133.1" r="1.1"/><circle cx="239.67" cy="133.12" r="1.1"/><circle cx="242.28" cy="133.14" r="1.1"/><circle cx="244.77" cy="133.16" r="1.1"/><circle cx="247.14" cy="133.17" r="1.1"/><circle cx="249.39" cy="133.19" r="1.1"/><circle cx="251.51" cy="133.2" r="1.1"/><circle cx="253.5" cy="133.22" r="1.1"/><circle cx="255.36" cy="133.23" r="1.1"/><circle cx="257.09" cy="133.24" r="1.1"/><circle cx="258.69" cy="133.25" r="1.1"/><circle cx="260.16" cy="133.26" r="1.1"/><circle cx="261.5" cy="133.27" r="1.1"/></g>
<path d="M36 110.83 L37.34 118.17 L38.81 122.48 L40.41 125.08 L42.14 126.77 L44 127.94 L45.99 128.78 L48.11 129.41 L50.36 129.89 L52.73 130.27 L55.22 130.58 L57.83 130.83 L60.56 131.03 L63.4 131.19 L66.36 131.31 L69.42 131.39 L72.58 131.45 L75.85 131.48 L79.21 131.49 L82.67 131.47 L86.21 131.39 L89.84 131.23 L93.55 131.01 L97.33 130.74 L101.18 130.42 L105.1 129.98 L109.07 129.4 L113.1 128.74 L117.18 127.95 L121.3 127.03 L125.46 125.99 L129.65 124.8 L133.87 123.41 L138.11 121.75 L142.36 119.88 L146.62 116.45 L148.75 111.12 L150.88 114.37 L155.14 118.52 L159.39 120.64 L163.63 121.82 L167.85 122.64 L172.04 123.27 L176.2 123.78 L180.32 124.19 L184.4 124.54 L188.43 124.88 L192.4 125.22 L196.32 125.6 L200.17 125.97 L203.95 126.34 L207.66 126.7 L211.29 127.05 L214.83 127.39 L218.29 127.73 L221.65 128.05 L224.92 128.37 L228.08 128.67 L231.14 128.97 L234.1 129.25 L236.94 129.53 L239.67 129.79 L242.28 130.04 L244.77 130.28 L247.14 130.51 L249.39 130.72 L251.51 130.93 L253.5 131.12 L255.36 131.3 L257.09 131.47 L258.69 131.62 L260.16 131.76 L261.5 131.89" stroke="#109010" stroke-width="1.0" fill="none"/>
<g fill="#109010"><circle cx="36" cy="110.83" r="1.1"/><circle cx="37.34" cy="118.17" r="1.1"/><circle cx="38.81" cy="122.48" r="1.1"/><circle cx="40.41" cy="125.08" r="1.1"/><circle cx="42.14" cy="126.77" r="1.1"/><circle cx="44" cy="127.94" r="1.1"/><circle cx="45.99" cy="128.78" r="1.1"/><circle cx="48.11" cy="129.41" r="1.1"/><circle cx="50.36" cy="129.89" r="1.1"/><circle cx="52.73" cy="130.27" r="1.1"/><circle cx="55.22" cy="130.58" r="1.1"/><circle cx="57.83" cy="130.83" r="1.1"/><circle cx="60.56" cy="131.03" r="1.1"/><circle cx="63.4" cy="131.19" r="1.1"/><circle cx="66.36" cy="131.31" r="1.1"/><circle cx="69.42" cy="131.39" r="1.1"/><circle cx="72.58" cy="131.45" r="1.1"/><circle cx="75.85" cy="131.48" r="1.1"/><circle cx="79.21" cy="131.49" r="1.1"/><circle cx="82.67" cy="131.47" r="1.1"/><circle cx="86.21" cy="131.39" r="1.1"/><circle cx="89.84" cy="131.23" r="1.1"/><circle cx="93.55" cy="131.01" r="1.1"/><circle cx="97.33" cy="130.74" r="1.1"/><circle cx="101.18" cy="130.42" r="1.1"/><circle cx="105.1" cy="129.98" r="1.1"/><circle cx="109.07" cy="129.4" r="1.1"/><circle cx="113.1" cy="128.74" r="1.1"/><circle cx="117.18" cy="127.95" r="1.1"/><circle cx="121.3" cy="127.03" r="1.1"/><circle cx="125.46" cy="125.99" r="1.1"/><circle cx="129.65" cy="124.8" r="1.1"/><circle cx="133.87" cy="123.41" r="1.1"/><circle cx="138.11" cy="121.75" r="1.1"/><circle cx="142.36" cy="119.88" r="1.1"/><circle cx="146.62" cy="116.45" r="1.1"/><circle cx="148.75" cy="111.12" r="1.1"/><circle cx="150.88" cy="114.37" r="1.1"/><circle cx="155.14" cy="118.52" r="1.1"/><circle cx="159.39" cy="120.64" r="1.1"/><circle cx="163.63" cy="121.82" r="1.1"/><circle cx="167.85" cy="122.64" r="1.1"/><circle cx="172.04" cy="123.27" r="1.1"/><circle cx="176.2" cy="123.78" r="1.1"/><circle cx="180.32" cy="124.19" r="1.1"/><circle cx="184.4" cy="124.54" r="1.1"/><circle cx="188.43" cy="124.88" r="1.1"/><circle cx="192.4" cy="125.22" r="1.1"/><circle cx="196.32" cy="125.6" r="1.1"/><circle cx="200.17" cy="125.97" r="1.1"/><circle cx="203.95" cy="126.34" r="1.1"/><circle cx="207.66" cy="126.7" r="1.1"/><circle cx="211.29" cy="127.05" r="1.1"/><circle cx="214.83" cy="127.39" r="1.1"/><circle cx="218.29" cy="127.73" r="1.1"/><circle cx="221.65" cy="128.05" r="1.1"/><circle cx="224.92" cy="128.37" r="1.1"/><circle cx="228.08" cy="128.67" r="1.1"/><circle cx="231.14" cy="128.97" r="1.1"/><circle cx="234.1" cy="129.25" r="1.1"/><circle cx="236.94" cy="129.53" r="1.1"/><circle cx="239.67" cy="129.79" r="1.1"/><circle cx="242.28" cy="130.04" r="1.1"/><circle cx="244.77" cy="130.28" r="1.1"/><circle cx="247.14" cy="130.51" r="1.1"/><circle cx="249.39" cy="130.72" r="1.1"/><circle cx="251.51" cy="130.93" r="1.1"/><circle cx="253.5" cy="131.12" r="1.1"/><circle cx="255.36" cy="131.3" r="1.1"/><circle cx="257.09" cy="131.47" r="1.1"/><circle cx="258.69" cy="131.62" r="1.1"/><circle cx="260.16" cy="131.76" r="1.1"/><circle cx="261.5" cy="131.89" r="1.1"/></g>
<path d="M36 157.25 L37.34 147.38 L38.81 144.15 L40.41 142.18 L42.14 140.78 L44 139.7 L45.99 138.84 L48.11 138.13 L50.36 137.51 L52.73 136.97 L55.22 136.49 L57.83 136.06 L60.56 135.66 L63.4 135.3 L66.36 134.96 L69.42 134.65 L72.58 134.36 L75.85 134.1 L79.21 133.85 L82.67 133.63 L86.21 133.43 L89.84 133.24 L93.55 133.08 L97.33 132.93 L101.18 132.8 L105.1 132.7 L109.07 132.63 L113.1 132.58 L117.18 132.54 L121.3 132.51 L125.46 132.5 L129.65 132.49 L133.87 132.49 L138.11 132.49 L142.36 132.51 L146.62 132.52 L150.88 132.54 L155.14 132.56 L159.39 132.59 L163.63 132.61 L167.85 132.64 L172.04 132.67 L176.2 132.69 L180.32 132.72 L184.4 132.75 L188.43 132.77 L192.4 132.8 L196.32 132.83 L200.17 132.85 L203.95 132.88 L207.66 132.9 L211.29 132.93 L214.83 132.95 L218.29 132.98 L221.65 133 L224.92 133.02 L228.08 133.04 L231.14 133.06 L234.1 133.08 L236.94 133.1 L239.67 133.12 L242.28 133.14 L244.77 133.16 L247.14 133.17 L249.39 133.19 L251.51 133.2 L253.5 133.22 L255.36 133.23 L257.09 133.24 L258.69 133.25 L260.16 133.26 L261.5 133.27" stroke="#333333" stroke-width="0.8" fill="none"/>
<g fill="#fff" stroke="#2a2a2a" stroke-width="0.7"><circle cx="36" cy="157.25" r="1.35"/><circle cx="37.34" cy="147.38" r="1.35"/><circle cx="38.81" cy="144.15" r="1.35"/><circle cx="40.41" cy="142.18" r="1.35"/><circle cx="42.14" cy="140.78" r="1.35"/><circle cx="44" cy="139.7" r="1.35"/><circle cx="45.99" cy="138.84" r="1.35"/><circle cx="48.11" cy="138.13" r="1.35"/><circle cx="50.36" cy="137.51" r="1.35"/><circle cx="52.73" cy="136.97" r="1.35"/><circle cx="55.22" cy="136.49" r="1.35"/><circle cx="57.83" cy="136.06" r="1.35"/><circle cx="60.56" cy="135.66" r="1.35"/><circle cx="63.4" cy="135.3" r="1.35"/><circle cx="66.36" cy="134.96" r="1.35"/><circle cx="69.42" cy="134.65" r="1.35"/><circle cx="72.58" cy="134.36" r="1.35"/><circle cx="75.85" cy="134.1" r="1.35"/><circle cx="79.21" cy="133.85" r="1.35"/><circle cx="82.67" cy="133.63" r="1.35"/><circle cx="86.21" cy="133.43" r="1.35"/><circle cx="89.84" cy="133.24" r="1.35"/><circle cx="93.55" cy="133.08" r="1.35"/><circle cx="97.33" cy="132.93" r="1.35"/><circle cx="101.18" cy="132.8" r="1.35"/><circle cx="105.1" cy="132.7" r="1.35"/><circle cx="109.07" cy="132.63" r="1.35"/><circle cx="113.1" cy="132.58" r="1.35"/><circle cx="117.18" cy="132.54" r="1.35"/><circle cx="121.3" cy="132.51" r="1.35"/><circle cx="125.46" cy="132.5" r="1.35"/><circle cx="129.65" cy="132.49" r="1.35"/><circle cx="133.87" cy="132.49" r="1.35"/><circle cx="138.11" cy="132.49" r="1.35"/><circle cx="142.36" cy="132.51" r="1.35"/><circle cx="146.62" cy="132.52" r="1.35"/><circle cx="150.88" cy="132.54" r="1.35"/><circle cx="155.14" cy="132.56" r="1.35"/><circle cx="159.39" cy="132.59" r="1.35"/><circle cx="163.63" cy="132.61" r="1.35"/><circle cx="167.85" cy="132.64" r="1.35"/><circle cx="172.04" cy="132.67" r="1.35"/><circle cx="176.2" cy="132.69" r="1.35"/><circle cx="180.32" cy="132.72" r="1.35"/><circle cx="184.4" cy="132.75" r="1.35"/><circle cx="188.43" cy="132.77" r="1.35"/><circle cx="192.4" cy="132.8" r="1.35"/><circle cx="196.32" cy="132.83" r="1.35"/><circle cx="200.17" cy="132.85" r="1.35"/><circle cx="203.95" cy="132.88" r="1.35"/><circle cx="207.66" cy="132.9" r="1.35"/><circle cx="211.29" cy="132.93" r="1.35"/><circle cx="214.83" cy="132.95" r="1.35"/><circle cx="218.29" cy="132.98" r="1.35"/><circle cx="221.65" cy="133" r="1.35"/><circle cx="224.92" cy="133.02" r="1.35"/><circle cx="228.08" cy="133.04" r="1.35"/><circle cx="231.14" cy="133.06" r="1.35"/><circle cx="234.1" cy="133.08" r="1.35"/><circle cx="236.94" cy="133.1" r="1.35"/><circle cx="239.67" cy="133.12" r="1.35"/><circle cx="242.28" cy="133.14" r="1.35"/><circle cx="244.77" cy="133.16" r="1.35"/><circle cx="247.14" cy="133.17" r="1.35"/><circle cx="249.39" cy="133.19" r="1.35"/><circle cx="251.51" cy="133.2" r="1.35"/><circle cx="253.5" cy="133.22" r="1.35"/><circle cx="255.36" cy="133.23" r="1.35"/><circle cx="257.09" cy="133.24" r="1.35"/><circle cx="258.69" cy="133.25" r="1.35"/><circle cx="260.16" cy="133.26" r="1.35"/><circle cx="261.5" cy="133.27" r="1.35"/></g>
<path d="M36 106.83 L37.34 115.49 L38.81 120.56 L40.41 123.6 L42.14 125.57 L44 126.92 L45.99 127.88 L48.11 128.59 L50.36 129.13 L52.73 129.56 L55.22 129.9 L57.83 130.19 L60.56 130.43 L63.4 130.63 L66.36 130.8 L69.42 130.95 L72.58 131.08 L75.85 131.19 L79.21 131.28 L82.67 131.36 L86.21 131.38 L89.84 131.35 L93.55 131.27 L97.33 131.14 L101.18 130.96 L105.1 130.52 L109.07 129.91 L113.1 129.33 L117.18 128.76 L121.3 128.15 L125.46 127.4 L129.65 126.45 L133.87 125.25 L138.11 123.78 L142.36 122.04 L146.62 119.05 L149.88 112.91 L150.88 114.66 L155.14 120.35 L159.39 123.08 L163.63 124.27 L167.85 125.05 L172.04 125.69 L176.2 126.28 L180.32 126.79 L184.4 127.25 L188.43 127.65 L192.4 128.03 L196.32 128.38 L200.17 128.73 L203.95 129.07 L207.66 129.39 L211.29 129.7 L214.83 129.97 L218.29 130.23 L221.65 130.46 L224.92 130.67 L228.08 130.86 L231.14 131.04 L234.1 131.2 L236.94 131.34 L239.67 131.48 L242.28 131.61 L244.77 131.73 L247.14 131.84 L249.39 131.95 L251.51 132.05 L253.5 132.13 L255.36 132.22 L257.09 132.29 L258.69 132.36 L260.16 132.42 L261.5 132.48" stroke="#333333" stroke-width="0.8" fill="none"/>
<g fill="#fff" stroke="#2a2a2a" stroke-width="0.7"><circle cx="36" cy="106.83" r="1.35"/><circle cx="37.34" cy="115.49" r="1.35"/><circle cx="38.81" cy="120.56" r="1.35"/><circle cx="40.41" cy="123.6" r="1.35"/><circle cx="42.14" cy="125.57" r="1.35"/><circle cx="44" cy="126.92" r="1.35"/><circle cx="45.99" cy="127.88" r="1.35"/><circle cx="48.11" cy="128.59" r="1.35"/><circle cx="50.36" cy="129.13" r="1.35"/><circle cx="52.73" cy="129.56" r="1.35"/><circle cx="55.22" cy="129.9" r="1.35"/><circle cx="57.83" cy="130.19" r="1.35"/><circle cx="60.56" cy="130.43" r="1.35"/><circle cx="63.4" cy="130.63" r="1.35"/><circle cx="66.36" cy="130.8" r="1.35"/><circle cx="69.42" cy="130.95" r="1.35"/><circle cx="72.58" cy="131.08" r="1.35"/><circle cx="75.85" cy="131.19" r="1.35"/><circle cx="79.21" cy="131.28" r="1.35"/><circle cx="82.67" cy="131.36" r="1.35"/><circle cx="86.21" cy="131.38" r="1.35"/><circle cx="89.84" cy="131.35" r="1.35"/><circle cx="93.55" cy="131.27" r="1.35"/><circle cx="97.33" cy="131.14" r="1.35"/><circle cx="101.18" cy="130.96" r="1.35"/><circle cx="105.1" cy="130.52" r="1.35"/><circle cx="109.07" cy="129.91" r="1.35"/><circle cx="113.1" cy="129.33" r="1.35"/><circle cx="117.18" cy="128.76" r="1.35"/><circle cx="121.3" cy="128.15" r="1.35"/><circle cx="125.46" cy="127.4" r="1.35"/><circle cx="129.65" cy="126.45" r="1.35"/><circle cx="133.87" cy="125.25" r="1.35"/><circle cx="138.11" cy="123.78" r="1.35"/><circle cx="142.36" cy="122.04" r="1.35"/><circle cx="146.62" cy="119.05" r="1.35"/><circle cx="149.88" cy="112.91" r="1.35"/><circle cx="150.88" cy="114.66" r="1.35"/><circle cx="155.14" cy="120.35" r="1.35"/><circle cx="159.39" cy="123.08" r="1.35"/><circle cx="163.63" cy="124.27" r="1.35"/><circle cx="167.85" cy="125.05" r="1.35"/><circle cx="172.04" cy="125.69" r="1.35"/><circle cx="176.2" cy="126.28" r="1.35"/><circle cx="180.32" cy="126.79" r="1.35"/><circle cx="184.4" cy="127.25" r="1.35"/><circle cx="188.43" cy="127.65" r="1.35"/><circle cx="192.4" cy="128.03" r="1.35"/><circle cx="196.32" cy="128.38" r="1.35"/><circle cx="200.17" cy="128.73" r="1.35"/><circle cx="203.95" cy="129.07" r="1.35"/><circle cx="207.66" cy="129.39" r="1.35"/><circle cx="211.29" cy="129.7" r="1.35"/><circle cx="214.83" cy="129.97" r="1.35"/><circle cx="218.29" cy="130.23" r="1.35"/><circle cx="221.65" cy="130.46" r="1.35"/><circle cx="224.92" cy="130.67" r="1.35"/><circle cx="228.08" cy="130.86" r="1.35"/><circle cx="231.14" cy="131.04" r="1.35"/><circle cx="234.1" cy="131.2" r="1.35"/><circle cx="236.94" cy="131.34" r="1.35"/><circle cx="239.67" cy="131.48" r="1.35"/><circle cx="242.28" cy="131.61" r="1.35"/><circle cx="244.77" cy="131.73" r="1.35"/><circle cx="247.14" cy="131.84" r="1.35"/><circle cx="249.39" cy="131.95" r="1.35"/><circle cx="251.51" cy="132.05" r="1.35"/><circle cx="253.5" cy="132.13" r="1.35"/><circle cx="255.36" cy="132.22" r="1.35"/><circle cx="257.09" cy="132.29" r="1.35"/><circle cx="258.69" cy="132.36" r="1.35"/><circle cx="260.16" cy="132.42" r="1.35"/><circle cx="261.5" cy="132.48" r="1.35"/></g>
</g>
<path d="M366.36 69.3V176.4M411.12 69.3V176.4M455.88 69.3V176.4M500.64 69.3V176.4M321.6 84.6H545.4M321.6 99.9H545.4M321.6 115.2H545.4M321.6 130.5H545.4M321.6 145.8H545.4M321.6 161.1H545.4" stroke="#7a7a7a" stroke-width="0.8" stroke-dasharray="0.9 1.3" fill="none"/>
<path d="M321.6 176.4v-3M321.6 69.3v3M332.79 176.4v-1.8M332.79 69.3v1.8M343.98 176.4v-1.8M343.98 69.3v1.8M355.17 176.4v-1.8M355.17 69.3v1.8M366.36 176.4v-3M366.36 69.3v3M377.55 176.4v-1.8M377.55 69.3v1.8M388.74 176.4v-1.8M388.74 69.3v1.8M399.93 176.4v-1.8M399.93 69.3v1.8M411.12 176.4v-3M411.12 69.3v3M422.31 176.4v-1.8M422.31 69.3v1.8M433.5 176.4v-1.8M433.5 69.3v1.8M444.69 176.4v-1.8M444.69 69.3v1.8M455.88 176.4v-3M455.88 69.3v3M467.07 176.4v-1.8M467.07 69.3v1.8M478.26 176.4v-1.8M478.26 69.3v1.8M489.45 176.4v-1.8M489.45 69.3v1.8M500.64 176.4v-3M500.64 69.3v3M511.83 176.4v-1.8M511.83 69.3v1.8M523.02 176.4v-1.8M523.02 69.3v1.8M534.21 176.4v-1.8M534.21 69.3v1.8M545.4 176.4v-3M545.4 69.3v3M321.6 69.3h3M545.4 69.3h-3M321.6 72.36h1.8M545.4 72.36h-1.8M321.6 75.42h1.8M545.4 75.42h-1.8M321.6 78.48h1.8M545.4 78.48h-1.8M321.6 81.54h1.8M545.4 81.54h-1.8M321.6 84.6h3M545.4 84.6h-3M321.6 87.66h1.8M545.4 87.66h-1.8M321.6 90.72h1.8M545.4 90.72h-1.8M321.6 93.78h1.8M545.4 93.78h-1.8M321.6 96.84h1.8M545.4 96.84h-1.8M321.6 99.9h3M545.4 99.9h-3M321.6 102.96h1.8M545.4 102.96h-1.8M321.6 106.02h1.8M545.4 106.02h-1.8M321.6 109.08h1.8M545.4 109.08h-1.8M321.6 112.14h1.8M545.4 112.14h-1.8M321.6 115.2h3M545.4 115.2h-3M321.6 118.26h1.8M545.4 118.26h-1.8M321.6 121.32h1.8M545.4 121.32h-1.8M321.6 124.38h1.8M545.4 124.38h-1.8M321.6 127.44h1.8M545.4 127.44h-1.8M321.6 130.5h3M545.4 130.5h-3M321.6 133.56h1.8M545.4 133.56h-1.8M321.6 136.62h1.8M545.4 136.62h-1.8M321.6 139.68h1.8M545.4 139.68h-1.8M321.6 142.74h1.8M545.4 142.74h-1.8M321.6 145.8h3M545.4 145.8h-3M321.6 148.86h1.8M545.4 148.86h-1.8M321.6 151.92h1.8M545.4 151.92h-1.8M321.6 154.98h1.8M545.4 154.98h-1.8M321.6 158.04h1.8M545.4 158.04h-1.8M321.6 161.1h3M545.4 161.1h-3M321.6 164.16h1.8M545.4 164.16h-1.8M321.6 167.22h1.8M545.4 167.22h-1.8M321.6 170.28h1.8M545.4 170.28h-1.8M321.6 173.34h1.8M545.4 173.34h-1.8M321.6 176.4h3M545.4 176.4h-3" stroke="#444" stroke-width="0.8" fill="none"/>
<rect x="321.6" y="69.3" width="223.8" height="107.1" fill="none" stroke="#4a4a4a" stroke-width="1.1"/>
<text x="315.6" y="71.8" class="tl" text-anchor="end">-2</text>
<text x="315.6" y="87.1" class="tl" text-anchor="end">-1.5</text>
<text x="315.6" y="102.4" class="tl" text-anchor="end">-1</text>
<text x="315.6" y="117.7" class="tl" text-anchor="end">-0.5</text>
<text x="315.6" y="133" class="tl" text-anchor="end">0</text>
<text x="315.6" y="148.3" class="tl" text-anchor="end">0.5</text>
<text x="315.6" y="163.6" class="tl" text-anchor="end">1</text>
<text x="315.6" y="178.9" class="tl" text-anchor="end">1.5</text>
<text x="321.6" y="185.2" class="tl" text-anchor="middle">0</text>
<text x="366.36" y="185.2" class="tl" text-anchor="middle">0.2</text>
<text x="411.12" y="185.2" class="tl" text-anchor="middle">0.4</text>
<text x="455.88" y="185.2" class="tl" text-anchor="middle">0.6</text>
<text x="500.64" y="185.2" class="tl" text-anchor="middle">0.8</text>
<text x="545.4" y="185.2" class="tl" text-anchor="middle">1</text>
<g>
<path d="M321.6 136.62 L322.93 135.06 L323.84 134.07 L324.38 133.53 L325.97 132.23 L327.69 131.28 L328.31 131.05 L329.54 130.7 L331.52 130.37 L333.62 130.19 L335.85 130.07 L338.2 129.99 L340.67 129.94 L343.27 129.91 L343.98 129.9 L345.97 129.89 L348.8 129.89 L351.73 129.89 L354.77 129.89 L357.91 129.89 L361.15 129.89 L364.49 129.89 L367.92 129.89 L371.44 129.89 L375.04 129.89 L378.72 129.89 L382.47 129.89 L386.29 129.89 L390.18 129.89 L394.12 129.89 L398.12 129.89 L402.17 129.89 L406.26 129.89 L410.39 129.89 L414.55 129.89 L418.73 129.89 L422.94 129.89 L427.16 129.89 L431.38 129.89 L435.62 129.89 L439.84 129.89 L444.06 129.89 L448.27 129.89 L452.45 129.89 L456.61 129.89 L460.74 129.89 L464.83 129.89 L468.88 129.89 L472.88 129.89 L476.82 129.89 L480.71 129.89 L484.53 129.89 L488.28 129.89 L491.96 129.89 L495.56 129.89 L499.08 129.89 L502.51 129.89 L505.85 129.89 L509.09 129.89 L512.23 129.89 L515.27 129.89 L518.2 129.89 L521.03 129.89 L523.73 129.89 L526.33 129.89 L528.8 129.89 L531.15 129.89 L533.38 129.89 L535.48 129.89 L537.46 129.89 L539.31 129.89 L541.03 129.89 L542.62 129.89 L544.07 129.89 L545.4 129.89" stroke="#ff1a1a" stroke-width="1.3" fill="none"/>
<g fill="#ff1a1a"><circle cx="321.6" cy="136.62" r="1.4"/><circle cx="322.93" cy="135.06" r="1.4"/><circle cx="323.84" cy="134.07" r="1.4"/><circle cx="324.38" cy="133.53" r="1.4"/><circle cx="325.97" cy="132.23" r="1.4"/><circle cx="327.69" cy="131.28" r="1.4"/><circle cx="328.31" cy="131.05" r="1.4"/><circle cx="329.54" cy="130.7" r="1.4"/><circle cx="331.52" cy="130.37" r="1.4"/><circle cx="333.62" cy="130.19" r="1.4"/><circle cx="335.85" cy="130.07" r="1.4"/><circle cx="338.2" cy="129.99" r="1.4"/><circle cx="340.67" cy="129.94" r="1.4"/><circle cx="343.27" cy="129.91" r="1.4"/><circle cx="343.98" cy="129.9" r="1.4"/><circle cx="345.97" cy="129.89" r="1.4"/><circle cx="348.8" cy="129.89" r="1.4"/><circle cx="351.73" cy="129.89" r="1.4"/><circle cx="354.77" cy="129.89" r="1.4"/><circle cx="357.91" cy="129.89" r="1.4"/><circle cx="361.15" cy="129.89" r="1.4"/><circle cx="364.49" cy="129.89" r="1.4"/><circle cx="367.92" cy="129.89" r="1.4"/><circle cx="371.44" cy="129.89" r="1.4"/><circle cx="375.04" cy="129.89" r="1.4"/><circle cx="378.72" cy="129.89" r="1.4"/><circle cx="382.47" cy="129.89" r="1.4"/><circle cx="386.29" cy="129.89" r="1.4"/><circle cx="390.18" cy="129.89" r="1.4"/><circle cx="394.12" cy="129.89" r="1.4"/><circle cx="398.12" cy="129.89" r="1.4"/><circle cx="402.17" cy="129.89" r="1.4"/><circle cx="406.26" cy="129.89" r="1.4"/><circle cx="410.39" cy="129.89" r="1.4"/><circle cx="414.55" cy="129.89" r="1.4"/><circle cx="418.73" cy="129.89" r="1.4"/><circle cx="422.94" cy="129.89" r="1.4"/><circle cx="427.16" cy="129.89" r="1.4"/><circle cx="431.38" cy="129.89" r="1.4"/><circle cx="435.62" cy="129.89" r="1.4"/><circle cx="439.84" cy="129.89" r="1.4"/><circle cx="444.06" cy="129.89" r="1.4"/><circle cx="448.27" cy="129.89" r="1.4"/><circle cx="452.45" cy="129.89" r="1.4"/><circle cx="456.61" cy="129.89" r="1.4"/><circle cx="460.74" cy="129.89" r="1.4"/><circle cx="464.83" cy="129.89" r="1.4"/><circle cx="468.88" cy="129.89" r="1.4"/><circle cx="472.88" cy="129.89" r="1.4"/><circle cx="476.82" cy="129.89" r="1.4"/><circle cx="480.71" cy="129.89" r="1.4"/><circle cx="484.53" cy="129.89" r="1.4"/><circle cx="488.28" cy="129.89" r="1.4"/><circle cx="491.96" cy="129.89" r="1.4"/><circle cx="495.56" cy="129.89" r="1.4"/><circle cx="499.08" cy="129.89" r="1.4"/><circle cx="502.51" cy="129.89" r="1.4"/><circle cx="505.85" cy="129.89" r="1.4"/><circle cx="509.09" cy="129.89" r="1.4"/><circle cx="512.23" cy="129.89" r="1.4"/><circle cx="515.27" cy="129.89" r="1.4"/><circle cx="518.2" cy="129.89" r="1.4"/><circle cx="521.03" cy="129.89" r="1.4"/><circle cx="523.73" cy="129.89" r="1.4"/><circle cx="526.33" cy="129.89" r="1.4"/><circle cx="528.8" cy="129.89" r="1.4"/><circle cx="531.15" cy="129.89" r="1.4"/><circle cx="533.38" cy="129.89" r="1.4"/><circle cx="535.48" cy="129.89" r="1.4"/><circle cx="537.46" cy="129.89" r="1.4"/><circle cx="539.31" cy="129.89" r="1.4"/><circle cx="541.03" cy="129.89" r="1.4"/><circle cx="542.62" cy="129.89" r="1.4"/><circle cx="544.07" cy="129.89" r="1.4"/><circle cx="545.4" cy="129.89" r="1.4"/></g>
<path d="M321.6 127.44 L322.93 127.26 L324.38 127.08 L325.97 126.88 L326.08 126.87 L327.69 126.68 L329.54 126.49 L331.52 126.3 L333.62 126.11 L335.85 125.91 L338.2 125.72 L339.5 125.61 L340.67 125.51 L343.27 125.3 L345.97 125.1 L348.8 124.89 L351.73 124.67 L354.77 124.44 L357.91 124.2 L361.15 123.93 L364.49 123.63 L366.36 123.44 L367.92 123.28 L371.44 122.87 L375.04 122.41 L378.72 121.91 L382.47 121.37 L384.94 121 L386.29 120.8 L390.18 120.19 L394.12 119.52 L396.13 119.17 L398.12 118.8 L402.17 118.03 L406.26 117.17 L410.39 116.19 L410.9 116.05 L414.55 114.98 L418.51 113.51 L418.73 113.41 L422.94 111.21 L426.56 108.3 L427.16 107.66 L431.04 101.89 L431.38 101.24 L433.95 95.92 L435.62 99.48 L435.74 99.73 L439.1 105.47 L439.84 106.41 L444.06 109.99 L446.7 111.4 L448.27 112.1 L452.45 113.72 L455.88 114.82 L456.61 115.03 L460.74 116.14 L464.83 117.13 L467.07 117.67 L468.88 118.1 L472.88 119.08 L476.82 119.99 L480.05 120.66 L480.71 120.79 L484.53 121.48 L488.28 122.08 L491.96 122.64 L495.56 123.16 L499.08 123.67 L499.74 123.77 L502.51 124.17 L505.85 124.64 L509.09 125.1 L512.23 125.54 L515.27 125.95 L517.2 126.21 L518.2 126.35 L521.03 126.73 L523.73 127.09 L526.33 127.44 L528.8 127.76 L531.15 128.07 L533.38 128.36 L535.48 128.63 L537.46 128.89 L539.31 129.12 L541.03 129.34 L542.62 129.54 L544.07 129.72 L545.4 129.89" stroke="#ff1a1a" stroke-width="1.3" fill="none"/>
<g fill="#ff1a1a"><circle cx="321.6" cy="127.44" r="1.4"/><circle cx="322.93" cy="127.26" r="1.4"/><circle cx="324.38" cy="127.08" r="1.4"/><circle cx="325.97" cy="126.88" r="1.4"/><circle cx="326.08" cy="126.87" r="1.4"/><circle cx="327.69" cy="126.68" r="1.4"/><circle cx="329.54" cy="126.49" r="1.4"/><circle cx="331.52" cy="126.3" r="1.4"/><circle cx="333.62" cy="126.11" r="1.4"/><circle cx="335.85" cy="125.91" r="1.4"/><circle cx="338.2" cy="125.72" r="1.4"/><circle cx="339.5" cy="125.61" r="1.4"/><circle cx="340.67" cy="125.51" r="1.4"/><circle cx="343.27" cy="125.3" r="1.4"/><circle cx="345.97" cy="125.1" r="1.4"/><circle cx="348.8" cy="124.89" r="1.4"/><circle cx="351.73" cy="124.67" r="1.4"/><circle cx="354.77" cy="124.44" r="1.4"/><circle cx="357.91" cy="124.2" r="1.4"/><circle cx="361.15" cy="123.93" r="1.4"/><circle cx="364.49" cy="123.63" r="1.4"/><circle cx="366.36" cy="123.44" r="1.4"/><circle cx="367.92" cy="123.28" r="1.4"/><circle cx="371.44" cy="122.87" r="1.4"/><circle cx="375.04" cy="122.41" r="1.4"/><circle cx="378.72" cy="121.91" r="1.4"/><circle cx="382.47" cy="121.37" r="1.4"/><circle cx="384.94" cy="121" r="1.4"/><circle cx="386.29" cy="120.8" r="1.4"/><circle cx="390.18" cy="120.19" r="1.4"/><circle cx="394.12" cy="119.52" r="1.4"/><circle cx="396.13" cy="119.17" r="1.4"/><circle cx="398.12" cy="118.8" r="1.4"/><circle cx="402.17" cy="118.03" r="1.4"/><circle cx="406.26" cy="117.17" r="1.4"/><circle cx="410.39" cy="116.19" r="1.4"/><circle cx="410.9" cy="116.05" r="1.4"/><circle cx="414.55" cy="114.98" r="1.4"/><circle cx="418.51" cy="113.51" r="1.4"/><circle cx="418.73" cy="113.41" r="1.4"/><circle cx="422.94" cy="111.21" r="1.4"/><circle cx="426.56" cy="108.3" r="1.4"/><circle cx="427.16" cy="107.66" r="1.4"/><circle cx="431.04" cy="101.89" r="1.4"/><circle cx="431.38" cy="101.24" r="1.4"/><circle cx="433.95" cy="95.92" r="1.4"/><circle cx="435.62" cy="99.48" r="1.4"/><circle cx="435.74" cy="99.73" r="1.4"/><circle cx="439.1" cy="105.47" r="1.4"/><circle cx="439.84" cy="106.41" r="1.4"/><circle cx="444.06" cy="109.99" r="1.4"/><circle cx="446.7" cy="111.4" r="1.4"/><circle cx="448.27" cy="112.1" r="1.4"/><circle cx="452.45" cy="113.72" r="1.4"/><circle cx="455.88" cy="114.82" r="1.4"/><circle cx="456.61" cy="115.03" r="1.4"/><circle cx="460.74" cy="116.14" r="1.4"/><circle cx="464.83" cy="117.13" r="1.4"/><circle cx="467.07" cy="117.67" r="1.4"/><circle cx="468.88" cy="118.1" r="1.4"/><circle cx="472.88" cy="119.08" r="1.4"/><circle cx="476.82" cy="119.99" r="1.4"/><circle cx="480.05" cy="120.66" r="1.4"/><circle cx="480.71" cy="120.79" r="1.4"/><circle cx="484.53" cy="121.48" r="1.4"/><circle cx="488.28" cy="122.08" r="1.4"/><circle cx="491.96" cy="122.64" r="1.4"/><circle cx="495.56" cy="123.16" r="1.4"/><circle cx="499.08" cy="123.67" r="1.4"/><circle cx="499.74" cy="123.77" r="1.4"/><circle cx="502.51" cy="124.17" r="1.4"/><circle cx="505.85" cy="124.64" r="1.4"/><circle cx="509.09" cy="125.1" r="1.4"/><circle cx="512.23" cy="125.54" r="1.4"/><circle cx="515.27" cy="125.95" r="1.4"/><circle cx="517.2" cy="126.21" r="1.4"/><circle cx="518.2" cy="126.35" r="1.4"/><circle cx="521.03" cy="126.73" r="1.4"/><circle cx="523.73" cy="127.09" r="1.4"/><circle cx="526.33" cy="127.44" r="1.4"/><circle cx="528.8" cy="127.76" r="1.4"/><circle cx="531.15" cy="128.07" r="1.4"/><circle cx="533.38" cy="128.36" r="1.4"/><circle cx="535.48" cy="128.63" r="1.4"/><circle cx="537.46" cy="128.89" r="1.4"/><circle cx="539.31" cy="129.12" r="1.4"/><circle cx="541.03" cy="129.34" r="1.4"/><circle cx="542.62" cy="129.54" r="1.4"/><circle cx="544.07" cy="129.72" r="1.4"/><circle cx="545.4" cy="129.89" r="1.4"/></g>
<path d="M321.6 134.17 L322.93 133.6 L323.84 133.23 L324.38 133.04 L325.97 132.6 L327.69 132.3 L329.54 132.14 L331.52 132.07 L332.79 132.05 L333.62 132.04 L335.85 132.03 L338.2 132.03 L340.67 132.03 L343.27 132.03 L345.97 132.03 L348.8 132.03 L351.73 132.03 L354.77 132.03 L357.91 132.03 L361.15 132.03 L364.49 132.03 L367.92 132.03 L371.44 132.03 L375.04 132.03 L378.72 132.03 L382.47 132.03 L386.29 132.03 L390.18 132.03 L394.12 132.03 L398.12 132.03 L402.17 132.03 L406.26 132.03 L410.39 132.03 L414.55 132.03 L418.73 132.03 L422.94 132.03 L427.16 132.03 L431.38 132.03 L435.62 132.03 L439.84 132.03 L444.06 132.03 L448.27 132.03 L452.45 132.03 L456.61 132.03 L460.74 132.03 L464.83 132.03 L468.88 132.03 L472.88 132.03 L476.82 132.03 L480.71 132.03 L484.53 132.03 L488.28 132.03 L491.96 132.03 L495.56 132.03 L499.08 132.03 L502.51 132.03 L505.85 132.03 L509.09 132.03 L512.23 132.03 L515.27 132.03 L518.2 132.03 L521.03 132.03 L523.73 132.03 L526.33 132.03 L528.8 132.03 L531.15 132.03 L533.38 132.03 L535.48 132.03 L537.46 132.03 L539.31 132.03 L541.03 132.03 L542.62 132.03 L544.07 132.03 L545.4 132.03" stroke="#2323ff" stroke-width="1.1" fill="none"/>
<g fill="#2323ff"><path d="M321.6 132.57l1.55 2.6h-3.1z"/><path d="M322.93 132l1.55 2.6h-3.1z"/><path d="M323.84 131.63l1.55 2.6h-3.1z"/><path d="M324.38 131.44l1.55 2.6h-3.1z"/><path d="M325.97 131l1.55 2.6h-3.1z"/><path d="M327.69 130.7l1.55 2.6h-3.1z"/><path d="M329.54 130.54l1.55 2.6h-3.1z"/><path d="M331.52 130.47l1.55 2.6h-3.1z"/><path d="M332.79 130.45l1.55 2.6h-3.1z"/><path d="M333.62 130.44l1.55 2.6h-3.1z"/><path d="M335.85 130.43l1.55 2.6h-3.1z"/><path d="M338.2 130.43l1.55 2.6h-3.1z"/><path d="M340.67 130.43l1.55 2.6h-3.1z"/><path d="M343.27 130.43l1.55 2.6h-3.1z"/><path d="M345.97 130.43l1.55 2.6h-3.1z"/><path d="M348.8 130.43l1.55 2.6h-3.1z"/><path d="M351.73 130.43l1.55 2.6h-3.1z"/><path d="M354.77 130.43l1.55 2.6h-3.1z"/><path d="M357.91 130.43l1.55 2.6h-3.1z"/><path d="M361.15 130.43l1.55 2.6h-3.1z"/><path d="M364.49 130.43l1.55 2.6h-3.1z"/><path d="M367.92 130.43l1.55 2.6h-3.1z"/><path d="M371.44 130.43l1.55 2.6h-3.1z"/><path d="M375.04 130.43l1.55 2.6h-3.1z"/><path d="M378.72 130.43l1.55 2.6h-3.1z"/><path d="M382.47 130.43l1.55 2.6h-3.1z"/><path d="M386.29 130.43l1.55 2.6h-3.1z"/><path d="M390.18 130.43l1.55 2.6h-3.1z"/><path d="M394.12 130.43l1.55 2.6h-3.1z"/><path d="M398.12 130.43l1.55 2.6h-3.1z"/><path d="M402.17 130.43l1.55 2.6h-3.1z"/><path d="M406.26 130.43l1.55 2.6h-3.1z"/><path d="M410.39 130.43l1.55 2.6h-3.1z"/><path d="M414.55 130.43l1.55 2.6h-3.1z"/><path d="M418.73 130.43l1.55 2.6h-3.1z"/><path d="M422.94 130.43l1.55 2.6h-3.1z"/><path d="M427.16 130.43l1.55 2.6h-3.1z"/><path d="M431.38 130.43l1.55 2.6h-3.1z"/><path d="M435.62 130.43l1.55 2.6h-3.1z"/><path d="M439.84 130.43l1.55 2.6h-3.1z"/><path d="M444.06 130.43l1.55 2.6h-3.1z"/><path d="M448.27 130.43l1.55 2.6h-3.1z"/><path d="M452.45 130.43l1.55 2.6h-3.1z"/><path d="M456.61 130.43l1.55 2.6h-3.1z"/><path d="M460.74 130.43l1.55 2.6h-3.1z"/><path d="M464.83 130.43l1.55 2.6h-3.1z"/><path d="M468.88 130.43l1.55 2.6h-3.1z"/><path d="M472.88 130.43l1.55 2.6h-3.1z"/><path d="M476.82 130.43l1.55 2.6h-3.1z"/><path d="M480.71 130.43l1.55 2.6h-3.1z"/><path d="M484.53 130.43l1.55 2.6h-3.1z"/><path d="M488.28 130.43l1.55 2.6h-3.1z"/><path d="M491.96 130.43l1.55 2.6h-3.1z"/><path d="M495.56 130.43l1.55 2.6h-3.1z"/><path d="M499.08 130.43l1.55 2.6h-3.1z"/><path d="M502.51 130.43l1.55 2.6h-3.1z"/><path d="M505.85 130.43l1.55 2.6h-3.1z"/><path d="M509.09 130.43l1.55 2.6h-3.1z"/><path d="M512.23 130.43l1.55 2.6h-3.1z"/><path d="M515.27 130.43l1.55 2.6h-3.1z"/><path d="M518.2 130.43l1.55 2.6h-3.1z"/><path d="M521.03 130.43l1.55 2.6h-3.1z"/><path d="M523.73 130.43l1.55 2.6h-3.1z"/><path d="M526.33 130.43l1.55 2.6h-3.1z"/><path d="M528.8 130.43l1.55 2.6h-3.1z"/><path d="M531.15 130.43l1.55 2.6h-3.1z"/><path d="M533.38 130.43l1.55 2.6h-3.1z"/><path d="M535.48 130.43l1.55 2.6h-3.1z"/><path d="M537.46 130.43l1.55 2.6h-3.1z"/><path d="M539.31 130.43l1.55 2.6h-3.1z"/><path d="M541.03 130.43l1.55 2.6h-3.1z"/><path d="M542.62 130.43l1.55 2.6h-3.1z"/><path d="M544.07 130.43l1.55 2.6h-3.1z"/><path d="M545.4 130.43l1.55 2.6h-3.1z"/></g>
<path d="M321.6 122.85 L322.93 123.72 L324.38 124.57 L325.97 125.28 L326.08 125.31 L327.69 125.74 L329.54 125.96 L331.52 126 L333.62 125.93 L335.85 125.82 L338.2 125.68 L339.5 125.61 L340.67 125.54 L343.27 125.4 L345.97 125.24 L348.8 125.07 L351.73 124.89 L354.77 124.68 L357.91 124.46 L361.15 124.2 L364.49 123.92 L366.36 123.74 L367.92 123.58 L371.44 123.18 L375.04 122.71 L378.72 122.2 L382.47 121.67 L384.94 121.33 L386.29 121.15 L390.18 120.63 L394.12 120.07 L396.13 119.75 L398.12 119.41 L402.17 118.65 L406.26 117.78 L410.39 116.82 L410.9 116.7 L414.55 115.73 L418.51 114.44 L418.73 114.36 L422.94 112.46 L426.56 110 L427.16 109.49 L431.04 104.98 L431.38 104.48 L433.95 100.51 L435.62 103.54 L436.19 104.53 L439.1 108.81 L439.84 109.67 L444.06 112.95 L446.7 114.23 L448.27 114.88 L452.45 116.46 L455.88 117.57 L456.61 117.79 L460.74 118.92 L464.83 119.89 L467.07 120.38 L468.88 120.77 L472.88 121.57 L476.82 122.29 L480.05 122.82 L480.71 122.92 L484.53 123.46 L488.28 123.94 L491.96 124.38 L495.56 124.8 L499.08 125.23 L499.74 125.31 L502.51 125.65 L505.85 126.07 L509.09 126.47 L512.23 126.86 L515.27 127.21 L517.2 127.43 L518.2 127.54 L521.03 127.85 L523.73 128.14 L526.33 128.41 L528.8 128.66 L531.15 128.89 L533.38 129.11 L535.48 129.31 L537.46 129.49 L539.31 129.66 L541.03 129.82 L542.62 129.95 L544.07 130.08 L545.4 130.19" stroke="#2323ff" stroke-width="1.1" fill="none"/>
<g fill="#2323ff"><path d="M321.6 121.25l1.55 2.6h-3.1z"/><path d="M322.93 122.12l1.55 2.6h-3.1z"/><path d="M324.38 122.97l1.55 2.6h-3.1z"/><path d="M325.97 123.68l1.55 2.6h-3.1z"/><path d="M326.08 123.71l1.55 2.6h-3.1z"/><path d="M327.69 124.14l1.55 2.6h-3.1z"/><path d="M329.54 124.36l1.55 2.6h-3.1z"/><path d="M331.52 124.4l1.55 2.6h-3.1z"/><path d="M333.62 124.33l1.55 2.6h-3.1z"/><path d="M335.85 124.22l1.55 2.6h-3.1z"/><path d="M338.2 124.08l1.55 2.6h-3.1z"/><path d="M339.5 124.01l1.55 2.6h-3.1z"/><path d="M340.67 123.94l1.55 2.6h-3.1z"/><path d="M343.27 123.8l1.55 2.6h-3.1z"/><path d="M345.97 123.64l1.55 2.6h-3.1z"/><path d="M348.8 123.47l1.55 2.6h-3.1z"/><path d="M351.73 123.29l1.55 2.6h-3.1z"/><path d="M354.77 123.08l1.55 2.6h-3.1z"/><path d="M357.91 122.86l1.55 2.6h-3.1z"/><path d="M361.15 122.6l1.55 2.6h-3.1z"/><path d="M364.49 122.32l1.55 2.6h-3.1z"/><path d="M366.36 122.14l1.55 2.6h-3.1z"/><path d="M367.92 121.98l1.55 2.6h-3.1z"/><path d="M371.44 121.58l1.55 2.6h-3.1z"/><path d="M375.04 121.11l1.55 2.6h-3.1z"/><path d="M378.72 120.6l1.55 2.6h-3.1z"/><path d="M382.47 120.07l1.55 2.6h-3.1z"/><path d="M384.94 119.73l1.55 2.6h-3.1z"/><path d="M386.29 119.55l1.55 2.6h-3.1z"/><path d="M390.18 119.03l1.55 2.6h-3.1z"/><path d="M394.12 118.47l1.55 2.6h-3.1z"/><path d="M396.13 118.15l1.55 2.6h-3.1z"/><path d="M398.12 117.81l1.55 2.6h-3.1z"/><path d="M402.17 117.05l1.55 2.6h-3.1z"/><path d="M406.26 116.18l1.55 2.6h-3.1z"/><path d="M410.39 115.22l1.55 2.6h-3.1z"/><path d="M410.9 115.1l1.55 2.6h-3.1z"/><path d="M414.55 114.13l1.55 2.6h-3.1z"/><path d="M418.51 112.84l1.55 2.6h-3.1z"/><path d="M418.73 112.76l1.55 2.6h-3.1z"/><path d="M422.94 110.86l1.55 2.6h-3.1z"/><path d="M426.56 108.4l1.55 2.6h-3.1z"/><path d="M427.16 107.89l1.55 2.6h-3.1z"/><path d="M431.04 103.38l1.55 2.6h-3.1z"/><path d="M431.38 102.88l1.55 2.6h-3.1z"/><path d="M433.95 98.91l1.55 2.6h-3.1z"/><path d="M435.62 101.94l1.55 2.6h-3.1z"/><path d="M436.19 102.93l1.55 2.6h-3.1z"/><path d="M439.1 107.21l1.55 2.6h-3.1z"/><path d="M439.84 108.07l1.55 2.6h-3.1z"/><path d="M444.06 111.35l1.55 2.6h-3.1z"/><path d="M446.7 112.63l1.55 2.6h-3.1z"/><path d="M448.27 113.28l1.55 2.6h-3.1z"/><path d="M452.45 114.86l1.55 2.6h-3.1z"/><path d="M455.88 115.97l1.55 2.6h-3.1z"/><path d="M456.61 116.19l1.55 2.6h-3.1z"/><path d="M460.74 117.32l1.55 2.6h-3.1z"/><path d="M464.83 118.29l1.55 2.6h-3.1z"/><path d="M467.07 118.78l1.55 2.6h-3.1z"/><path d="M468.88 119.17l1.55 2.6h-3.1z"/><path d="M472.88 119.97l1.55 2.6h-3.1z"/><path d="M476.82 120.69l1.55 2.6h-3.1z"/><path d="M480.05 121.22l1.55 2.6h-3.1z"/><path d="M480.71 121.32l1.55 2.6h-3.1z"/><path d="M484.53 121.86l1.55 2.6h-3.1z"/><path d="M488.28 122.34l1.55 2.6h-3.1z"/><path d="M491.96 122.78l1.55 2.6h-3.1z"/><path d="M495.56 123.2l1.55 2.6h-3.1z"/><path d="M499.08 123.63l1.55 2.6h-3.1z"/><path d="M499.74 123.71l1.55 2.6h-3.1z"/><path d="M502.51 124.05l1.55 2.6h-3.1z"/><path d="M505.85 124.47l1.55 2.6h-3.1z"/><path d="M509.09 124.87l1.55 2.6h-3.1z"/><path d="M512.23 125.26l1.55 2.6h-3.1z"/><path d="M515.27 125.61l1.55 2.6h-3.1z"/><path d="M517.2 125.83l1.55 2.6h-3.1z"/><path d="M518.2 125.94l1.55 2.6h-3.1z"/><path d="M521.03 126.25l1.55 2.6h-3.1z"/><path d="M523.73 126.54l1.55 2.6h-3.1z"/><path d="M526.33 126.81l1.55 2.6h-3.1z"/><path d="M528.8 127.06l1.55 2.6h-3.1z"/><path d="M531.15 127.29l1.55 2.6h-3.1z"/><path d="M533.38 127.51l1.55 2.6h-3.1z"/><path d="M535.48 127.71l1.55 2.6h-3.1z"/><path d="M537.46 127.89l1.55 2.6h-3.1z"/><path d="M539.31 128.06l1.55 2.6h-3.1z"/><path d="M541.03 128.22l1.55 2.6h-3.1z"/><path d="M542.62 128.35l1.55 2.6h-3.1z"/><path d="M544.07 128.48l1.55 2.6h-3.1z"/><path d="M545.4 128.59l1.55 2.6h-3.1z"/></g>
<path d="M321.6 148.86 L322.72 145.19 L322.93 144.53 L324.38 140.35 L325.97 136.91 L326.08 136.73 L327.69 134.56 L329.54 133.22 L331.52 132.55 L333.62 132.24 L335.03 132.14 L335.85 132.1 L338.2 132.05 L340.67 132.03 L343.27 132.03 L345.97 132.03 L348.8 132.03 L351.73 132.03 L354.77 132.03 L357.91 132.03 L361.15 132.03 L364.49 132.03 L367.92 132.03 L371.44 132.03 L375.04 132.03 L378.72 132.03 L382.47 132.03 L386.29 132.03 L390.18 132.03 L394.12 132.03 L398.12 132.03 L402.17 132.03 L406.26 132.03 L410.39 132.03 L414.55 132.03 L418.73 132.03 L422.94 132.03 L427.16 132.03 L431.38 132.03 L435.62 132.03 L439.84 132.03 L444.06 132.03 L448.27 132.03 L452.45 132.03 L456.61 132.03 L460.74 132.03 L464.83 132.03 L468.88 132.03 L472.88 132.03 L476.82 132.03 L480.71 132.03 L484.53 132.03 L488.28 132.03 L491.96 132.03 L495.56 132.03 L499.08 132.03 L502.51 132.03 L505.85 132.03 L509.09 132.03 L512.23 132.03 L515.27 132.03 L518.2 132.03 L521.03 132.03 L523.73 132.03 L526.33 132.03 L528.8 132.03 L531.15 132.03 L533.38 132.03 L535.48 132.03 L537.46 132.03 L539.31 132.03 L541.03 132.03 L542.62 132.03 L544.07 132.03 L545.4 132.03" stroke="#109010" stroke-width="1.0" fill="none"/>
<g fill="#109010"><circle cx="321.6" cy="148.86" r="1.1"/><circle cx="322.72" cy="145.19" r="1.1"/><circle cx="322.93" cy="144.53" r="1.1"/><circle cx="324.38" cy="140.35" r="1.1"/><circle cx="325.97" cy="136.91" r="1.1"/><circle cx="326.08" cy="136.73" r="1.1"/><circle cx="327.69" cy="134.56" r="1.1"/><circle cx="329.54" cy="133.22" r="1.1"/><circle cx="331.52" cy="132.55" r="1.1"/><circle cx="333.62" cy="132.24" r="1.1"/><circle cx="335.03" cy="132.14" r="1.1"/><circle cx="335.85" cy="132.1" r="1.1"/><circle cx="338.2" cy="132.05" r="1.1"/><circle cx="340.67" cy="132.03" r="1.1"/><circle cx="343.27" cy="132.03" r="1.1"/><circle cx="345.97" cy="132.03" r="1.1"/><circle cx="348.8" cy="132.03" r="1.1"/><circle cx="351.73" cy="132.03" r="1.1"/><circle cx="354.77" cy="132.03" r="1.1"/><circle cx="357.91" cy="132.03" r="1.1"/><circle cx="361.15" cy="132.03" r="1.1"/><circle cx="364.49" cy="132.03" r="1.1"/><circle cx="367.92" cy="132.03" r="1.1"/><circle cx="371.44" cy="132.03" r="1.1"/><circle cx="375.04" cy="132.03" r="1.1"/><circle cx="378.72" cy="132.03" r="1.1"/><circle cx="382.47" cy="132.03" r="1.1"/><circle cx="386.29" cy="132.03" r="1.1"/><circle cx="390.18" cy="132.03" r="1.1"/><circle cx="394.12" cy="132.03" r="1.1"/><circle cx="398.12" cy="132.03" r="1.1"/><circle cx="402.17" cy="132.03" r="1.1"/><circle cx="406.26" cy="132.03" r="1.1"/><circle cx="410.39" cy="132.03" r="1.1"/><circle cx="414.55" cy="132.03" r="1.1"/><circle cx="418.73" cy="132.03" r="1.1"/><circle cx="422.94" cy="132.03" r="1.1"/><circle cx="427.16" cy="132.03" r="1.1"/><circle cx="431.38" cy="132.03" r="1.1"/><circle cx="435.62" cy="132.03" r="1.1"/><circle cx="439.84" cy="132.03" r="1.1"/><circle cx="444.06" cy="132.03" r="1.1"/><circle cx="448.27" cy="132.03" r="1.1"/><circle cx="452.45" cy="132.03" r="1.1"/><circle cx="456.61" cy="132.03" r="1.1"/><circle cx="460.74" cy="132.03" r="1.1"/><circle cx="464.83" cy="132.03" r="1.1"/><circle cx="468.88" cy="132.03" r="1.1"/><circle cx="472.88" cy="132.03" r="1.1"/><circle cx="476.82" cy="132.03" r="1.1"/><circle cx="480.71" cy="132.03" r="1.1"/><circle cx="484.53" cy="132.03" r="1.1"/><circle cx="488.28" cy="132.03" r="1.1"/><circle cx="491.96" cy="132.03" r="1.1"/><circle cx="495.56" cy="132.03" r="1.1"/><circle cx="499.08" cy="132.03" r="1.1"/><circle cx="502.51" cy="132.03" r="1.1"/><circle cx="505.85" cy="132.03" r="1.1"/><circle cx="509.09" cy="132.03" r="1.1"/><circle cx="512.23" cy="132.03" r="1.1"/><circle cx="515.27" cy="132.03" r="1.1"/><circle cx="518.2" cy="132.03" r="1.1"/><circle cx="521.03" cy="132.03" r="1.1"/><circle cx="523.73" cy="132.03" r="1.1"/><circle cx="526.33" cy="132.03" r="1.1"/><circle cx="528.8" cy="132.03" r="1.1"/><circle cx="531.15" cy="132.03" r="1.1"/><circle cx="533.38" cy="132.03" r="1.1"/><circle cx="535.48" cy="132.03" r="1.1"/><circle cx="537.46" cy="132.03" r="1.1"/><circle cx="539.31" cy="132.03" r="1.1"/><circle cx="541.03" cy="132.03" r="1.1"/><circle cx="542.62" cy="132.03" r="1.1"/><circle cx="544.07" cy="132.03" r="1.1"/><circle cx="545.4" cy="132.03" r="1.1"/></g>
<path d="M321.6 123.46 L322.93 124.1 L324.38 124.72 L325.97 125.25 L326.08 125.27 L327.69 125.61 L329.54 125.8 L331.52 125.88 L333.62 125.91 L335.85 125.91 L338.2 125.9 L339.5 125.89 L340.67 125.88 L343.27 125.84 L345.97 125.77 L348.8 125.67 L351.73 125.53 L354.77 125.37 L357.91 125.19 L361.15 124.99 L364.49 124.8 L366.36 124.69 L367.92 124.59 L371.44 124.38 L375.04 124.15 L378.72 123.9 L382.47 123.64 L384.94 123.46 L386.29 123.36 L390.18 123.06 L394.12 122.71 L396.13 122.5 L398.12 122.27 L402.17 121.69 L406.26 120.99 L410.39 120.15 L410.9 120.03 L414.55 119.1 L418.51 117.8 L418.73 117.71 L422.94 115.83 L426.56 113.65 L427.16 113.21 L431.04 109.37 L431.38 108.94 L433.95 105.41 L435.62 108.2 L436.86 110.11 L439.84 113.76 L441.56 115.23 L444.06 116.8 L448.27 118.62 L451.63 119.76 L452.45 120.02 L456.61 121.24 L460.74 122.27 L461.7 122.48 L464.83 123.1 L468.88 123.79 L472.88 124.38 L476.82 124.9 L480.05 125.28 L480.71 125.35 L484.53 125.76 L488.28 126.11 L491.96 126.44 L495.56 126.73 L499.08 127.01 L500.64 127.13 L502.51 127.27 L505.85 127.51 L509.09 127.74 L512.23 127.95 L515.27 128.15 L518.2 128.34 L521.03 128.53 L523.02 128.67 L523.73 128.71 L526.33 128.89 L528.8 129.06 L531.15 129.22 L533.38 129.37 L535.48 129.52 L537.46 129.65 L539.31 129.78 L541.03 129.9 L542.62 130 L544.07 130.1 L545.4 130.19" stroke="#109010" stroke-width="1.0" fill="none"/>
<g fill="#109010"><circle cx="321.6" cy="123.46" r="1.1"/><circle cx="322.93" cy="124.1" r="1.1"/><circle cx="324.38" cy="124.72" r="1.1"/><circle cx="325.97" cy="125.25" r="1.1"/><circle cx="326.08" cy="125.27" r="1.1"/><circle cx="327.69" cy="125.61" r="1.1"/><circle cx="329.54" cy="125.8" r="1.1"/><circle cx="331.52" cy="125.88" r="1.1"/><circle cx="333.62" cy="125.91" r="1.1"/><circle cx="335.85" cy="125.91" r="1.1"/><circle cx="338.2" cy="125.9" r="1.1"/><circle cx="339.5" cy="125.89" r="1.1"/><circle cx="340.67" cy="125.88" r="1.1"/><circle cx="343.27" cy="125.84" r="1.1"/><circle cx="345.97" cy="125.77" r="1.1"/><circle cx="348.8" cy="125.67" r="1.1"/><circle cx="351.73" cy="125.53" r="1.1"/><circle cx="354.77" cy="125.37" r="1.1"/><circle cx="357.91" cy="125.19" r="1.1"/><circle cx="361.15" cy="124.99" r="1.1"/><circle cx="364.49" cy="124.8" r="1.1"/><circle cx="366.36" cy="124.69" r="1.1"/><circle cx="367.92" cy="124.59" r="1.1"/><circle cx="371.44" cy="124.38" r="1.1"/><circle cx="375.04" cy="124.15" r="1.1"/><circle cx="378.72" cy="123.9" r="1.1"/><circle cx="382.47" cy="123.64" r="1.1"/><circle cx="384.94" cy="123.46" r="1.1"/><circle cx="386.29" cy="123.36" r="1.1"/><circle cx="390.18" cy="123.06" r="1.1"/><circle cx="394.12" cy="122.71" r="1.1"/><circle cx="396.13" cy="122.5" r="1.1"/><circle cx="398.12" cy="122.27" r="1.1"/><circle cx="402.17" cy="121.69" r="1.1"/><circle cx="406.26" cy="120.99" r="1.1"/><circle cx="410.39" cy="120.15" r="1.1"/><circle cx="410.9" cy="120.03" r="1.1"/><circle cx="414.55" cy="119.1" r="1.1"/><circle cx="418.51" cy="117.8" r="1.1"/><circle cx="418.73" cy="117.71" r="1.1"/><circle cx="422.94" cy="115.83" r="1.1"/><circle cx="426.56" cy="113.65" r="1.1"/><circle cx="427.16" cy="113.21" r="1.1"/><circle cx="431.04" cy="109.37" r="1.1"/><circle cx="431.38" cy="108.94" r="1.1"/><circle cx="433.95" cy="105.41" r="1.1"/><circle cx="435.62" cy="108.2" r="1.1"/><circle cx="436.86" cy="110.11" r="1.1"/><circle cx="439.84" cy="113.76" r="1.1"/><circle cx="441.56" cy="115.23" r="1.1"/><circle cx="444.06" cy="116.8" r="1.1"/><circle cx="448.27" cy="118.62" r="1.1"/><circle cx="451.63" cy="119.76" r="1.1"/><circle cx="452.45" cy="120.02" r="1.1"/><circle cx="456.61" cy="121.24" r="1.1"/><circle cx="460.74" cy="122.27" r="1.1"/><circle cx="461.7" cy="122.48" r="1.1"/><circle cx="464.83" cy="123.1" r="1.1"/><circle cx="468.88" cy="123.79" r="1.1"/><circle cx="472.88" cy="124.38" r="1.1"/><circle cx="476.82" cy="124.9" r="1.1"/><circle cx="480.05" cy="125.28" r="1.1"/><circle cx="480.71" cy="125.35" r="1.1"/><circle cx="484.53" cy="125.76" r="1.1"/><circle cx="488.28" cy="126.11" r="1.1"/><circle cx="491.96" cy="126.44" r="1.1"/><circle cx="495.56" cy="126.73" r="1.1"/><circle cx="499.08" cy="127.01" r="1.1"/><circle cx="500.64" cy="127.13" r="1.1"/><circle cx="502.51" cy="127.27" r="1.1"/><circle cx="505.85" cy="127.51" r="1.1"/><circle cx="509.09" cy="127.74" r="1.1"/><circle cx="512.23" cy="127.95" r="1.1"/><circle cx="515.27" cy="128.15" r="1.1"/><circle cx="518.2" cy="128.34" r="1.1"/><circle cx="521.03" cy="128.53" r="1.1"/><circle cx="523.02" cy="128.67" r="1.1"/><circle cx="523.73" cy="128.71" r="1.1"/><circle cx="526.33" cy="128.89" r="1.1"/><circle cx="528.8" cy="129.06" r="1.1"/><circle cx="531.15" cy="129.22" r="1.1"/><circle cx="533.38" cy="129.37" r="1.1"/><circle cx="535.48" cy="129.52" r="1.1"/><circle cx="537.46" cy="129.65" r="1.1"/><circle cx="539.31" cy="129.78" r="1.1"/><circle cx="541.03" cy="129.9" r="1.1"/><circle cx="542.62" cy="130" r="1.1"/><circle cx="544.07" cy="130.1" r="1.1"/><circle cx="545.4" cy="130.19" r="1.1"/></g>
<path d="M321.6 141.52 L322.93 139.59 L323.84 138.35 L324.38 137.66 L325.97 135.97 L327.69 134.65 L328.31 134.3 L329.54 133.75 L331.52 133.18 L333.62 132.82 L335.85 132.58 L338.2 132.44 L339.5 132.39 L340.67 132.36 L343.27 132.33 L345.97 132.31 L348.8 132.3 L351.73 132.29 L354.77 132.28 L357.91 132.27 L361.15 132.26 L364.49 132.24 L367.92 132.23 L371.44 132.22 L375.04 132.21 L378.72 132.2 L382.47 132.19 L386.29 132.18 L390.18 132.17 L394.12 132.16 L398.12 132.15 L402.17 132.14 L406.26 132.13 L410.39 132.13 L414.55 132.12 L418.73 132.11 L422.94 132.1 L427.16 132.1 L431.38 132.09 L435.62 132.09 L439.84 132.08 L444.06 132.07 L448.27 132.07 L452.45 132.07 L456.61 132.06 L460.74 132.06 L464.83 132.05 L468.88 132.05 L472.88 132.05 L476.82 132.05 L480.71 132.04 L484.53 132.04 L488.28 132.04 L491.96 132.04 L495.56 132.04 L499.08 132.04 L502.51 132.04 L505.85 132.03 L509.09 132.03 L512.23 132.03 L515.27 132.03 L518.2 132.03 L521.03 132.03 L523.73 132.03 L526.33 132.03 L528.8 132.03 L531.15 132.03 L533.38 132.03 L535.48 132.03 L537.46 132.03 L539.31 132.03 L541.03 132.03 L542.62 132.03 L544.07 132.03 L545.4 132.03" stroke="#333333" stroke-width="0.8" fill="none"/>
<g fill="#fff" stroke="#2a2a2a" stroke-width="0.7"><circle cx="321.6" cy="141.52" r="1.35"/><circle cx="322.93" cy="139.59" r="1.35"/><circle cx="323.84" cy="138.35" r="1.35"/><circle cx="324.38" cy="137.66" r="1.35"/><circle cx="325.97" cy="135.97" r="1.35"/><circle cx="327.69" cy="134.65" r="1.35"/><circle cx="328.31" cy="134.3" r="1.35"/><circle cx="329.54" cy="133.75" r="1.35"/><circle cx="331.52" cy="133.18" r="1.35"/><circle cx="333.62" cy="132.82" r="1.35"/><circle cx="335.85" cy="132.58" r="1.35"/><circle cx="338.2" cy="132.44" r="1.35"/><circle cx="339.5" cy="132.39" r="1.35"/><circle cx="340.67" cy="132.36" r="1.35"/><circle cx="343.27" cy="132.33" r="1.35"/><circle cx="345.97" cy="132.31" r="1.35"/><circle cx="348.8" cy="132.3" r="1.35"/><circle cx="351.73" cy="132.29" r="1.35"/><circle cx="354.77" cy="132.28" r="1.35"/><circle cx="357.91" cy="132.27" r="1.35"/><circle cx="361.15" cy="132.26" r="1.35"/><circle cx="364.49" cy="132.24" r="1.35"/><circle cx="367.92" cy="132.23" r="1.35"/><circle cx="371.44" cy="132.22" r="1.35"/><circle cx="375.04" cy="132.21" r="1.35"/><circle cx="378.72" cy="132.2" r="1.35"/><circle cx="382.47" cy="132.19" r="1.35"/><circle cx="386.29" cy="132.18" r="1.35"/><circle cx="390.18" cy="132.17" r="1.35"/><circle cx="394.12" cy="132.16" r="1.35"/><circle cx="398.12" cy="132.15" r="1.35"/><circle cx="402.17" cy="132.14" r="1.35"/><circle cx="406.26" cy="132.13" r="1.35"/><circle cx="410.39" cy="132.13" r="1.35"/><circle cx="414.55" cy="132.12" r="1.35"/><circle cx="418.73" cy="132.11" r="1.35"/><circle cx="422.94" cy="132.1" r="1.35"/><circle cx="427.16" cy="132.1" r="1.35"/><circle cx="431.38" cy="132.09" r="1.35"/><circle cx="435.62" cy="132.09" r="1.35"/><circle cx="439.84" cy="132.08" r="1.35"/><circle cx="444.06" cy="132.07" r="1.35"/><circle cx="448.27" cy="132.07" r="1.35"/><circle cx="452.45" cy="132.07" r="1.35"/><circle cx="456.61" cy="132.06" r="1.35"/><circle cx="460.74" cy="132.06" r="1.35"/><circle cx="464.83" cy="132.05" r="1.35"/><circle cx="468.88" cy="132.05" r="1.35"/><circle cx="472.88" cy="132.05" r="1.35"/><circle cx="476.82" cy="132.05" r="1.35"/><circle cx="480.71" cy="132.04" r="1.35"/><circle cx="484.53" cy="132.04" r="1.35"/><circle cx="488.28" cy="132.04" r="1.35"/><circle cx="491.96" cy="132.04" r="1.35"/><circle cx="495.56" cy="132.04" r="1.35"/><circle cx="499.08" cy="132.04" r="1.35"/><circle cx="502.51" cy="132.04" r="1.35"/><circle cx="505.85" cy="132.03" r="1.35"/><circle cx="509.09" cy="132.03" r="1.35"/><circle cx="512.23" cy="132.03" r="1.35"/><circle cx="515.27" cy="132.03" r="1.35"/><circle cx="518.2" cy="132.03" r="1.35"/><circle cx="521.03" cy="132.03" r="1.35"/><circle cx="523.73" cy="132.03" r="1.35"/><circle cx="526.33" cy="132.03" r="1.35"/><circle cx="528.8" cy="132.03" r="1.35"/><circle cx="531.15" cy="132.03" r="1.35"/><circle cx="533.38" cy="132.03" r="1.35"/><circle cx="535.48" cy="132.03" r="1.35"/><circle cx="537.46" cy="132.03" r="1.35"/><circle cx="539.31" cy="132.03" r="1.35"/><circle cx="541.03" cy="132.03" r="1.35"/><circle cx="542.62" cy="132.03" r="1.35"/><circle cx="544.07" cy="132.03" r="1.35"/><circle cx="545.4" cy="132.03" r="1.35"/></g>
<path d="M321.6 124.38 L322.93 125.33 L324.38 126.27 L325.97 127.06 L326.08 127.1 L327.69 127.6 L329.54 127.89 L331.52 128.01 L333.62 128.04 L335.85 128.05 L338.2 128.04 L339.5 128.03 L340.67 128.02 L343.27 127.97 L345.97 127.88 L348.8 127.75 L351.73 127.58 L354.77 127.38 L357.91 127.15 L361.15 126.91 L364.49 126.66 L366.36 126.52 L367.92 126.4 L371.44 126.13 L375.04 125.84 L378.72 125.52 L382.47 125.2 L384.94 125 L386.29 124.89 L390.18 124.58 L394.12 124.24 L396.13 124.06 L398.12 123.87 L402.17 123.43 L406.26 122.92 L410.39 122.23 L410.9 122.13 L414.55 121.25 L418.51 119.95 L418.73 119.86 L422.94 117.98 L426.56 115.81 L427.16 115.37 L431.04 111.61 L431.38 111.19 L434.62 106.63 L435.62 108.15 L436.86 109.96 L439.1 112.71 L439.84 113.46 L444.06 116.5 L446.7 117.8 L448.27 118.46 L452.45 119.95 L455.88 120.91 L456.61 121.09 L460.74 121.96 L464.83 122.77 L467.07 123.28 L468.88 123.74 L472.88 124.91 L476.82 126.01 L480.05 126.69 L480.71 126.79 L484.53 127.28 L488.28 127.61 L491.96 127.88 L495.56 128.1 L499.08 128.32 L499.74 128.36 L502.51 128.52 L505.85 128.71 L509.09 128.88 L512.23 129.03 L515.27 129.18 L517.2 129.27 L518.2 129.32 L521.03 129.46 L523.73 129.58 L526.33 129.7 L528.8 129.81 L531.15 129.92 L533.38 130.01 L535.48 130.1 L537.46 130.18 L539.31 130.26 L541.03 130.33 L542.62 130.39 L544.07 130.45 L545.4 130.5" stroke="#333333" stroke-width="0.8" fill="none"/>
<g fill="#fff" stroke="#2a2a2a" stroke-width="0.7"><circle cx="321.6" cy="124.38" r="1.35"/><circle cx="322.93" cy="125.33" r="1.35"/><circle cx="324.38" cy="126.27" r="1.35"/><circle cx="325.97" cy="127.06" r="1.35"/><circle cx="326.08" cy="127.1" r="1.35"/><circle cx="327.69" cy="127.6" r="1.35"/><circle cx="329.54" cy="127.89" r="1.35"/><circle cx="331.52" cy="128.01" r="1.35"/><circle cx="333.62" cy="128.04" r="1.35"/><circle cx="335.85" cy="128.05" r="1.35"/><circle cx="338.2" cy="128.04" r="1.35"/><circle cx="339.5" cy="128.03" r="1.35"/><circle cx="340.67" cy="128.02" r="1.35"/><circle cx="343.27" cy="127.97" r="1.35"/><circle cx="345.97" cy="127.88" r="1.35"/><circle cx="348.8" cy="127.75" r="1.35"/><circle cx="351.73" cy="127.58" r="1.35"/><circle cx="354.77" cy="127.38" r="1.35"/><circle cx="357.91" cy="127.15" r="1.35"/><circle cx="361.15" cy="126.91" r="1.35"/><circle cx="364.49" cy="126.66" r="1.35"/><circle cx="366.36" cy="126.52" r="1.35"/><circle cx="367.92" cy="126.4" r="1.35"/><circle cx="371.44" cy="126.13" r="1.35"/><circle cx="375.04" cy="125.84" r="1.35"/><circle cx="378.72" cy="125.52" r="1.35"/><circle cx="382.47" cy="125.2" r="1.35"/><circle cx="384.94" cy="125" r="1.35"/><circle cx="386.29" cy="124.89" r="1.35"/><circle cx="390.18" cy="124.58" r="1.35"/><circle cx="394.12" cy="124.24" r="1.35"/><circle cx="396.13" cy="124.06" r="1.35"/><circle cx="398.12" cy="123.87" r="1.35"/><circle cx="402.17" cy="123.43" r="1.35"/><circle cx="406.26" cy="122.92" r="1.35"/><circle cx="410.39" cy="122.23" r="1.35"/><circle cx="410.9" cy="122.13" r="1.35"/><circle cx="414.55" cy="121.25" r="1.35"/><circle cx="418.51" cy="119.95" r="1.35"/><circle cx="418.73" cy="119.86" r="1.35"/><circle cx="422.94" cy="117.98" r="1.35"/><circle cx="426.56" cy="115.81" r="1.35"/><circle cx="427.16" cy="115.37" r="1.35"/><circle cx="431.04" cy="111.61" r="1.35"/><circle cx="431.38" cy="111.19" r="1.35"/><circle cx="434.62" cy="106.63" r="1.35"/><circle cx="435.62" cy="108.15" r="1.35"/><circle cx="436.86" cy="109.96" r="1.35"/><circle cx="439.1" cy="112.71" r="1.35"/><circle cx="439.84" cy="113.46" r="1.35"/><circle cx="444.06" cy="116.5" r="1.35"/><circle cx="446.7" cy="117.8" r="1.35"/><circle cx="448.27" cy="118.46" r="1.35"/><circle cx="452.45" cy="119.95" r="1.35"/><circle cx="455.88" cy="120.91" r="1.35"/><circle cx="456.61" cy="121.09" r="1.35"/><circle cx="460.74" cy="121.96" r="1.35"/><circle cx="464.83" cy="122.77" r="1.35"/><circle cx="467.07" cy="123.28" r="1.35"/><circle cx="468.88" cy="123.74" r="1.35"/><circle cx="472.88" cy="124.91" r="1.35"/><circle cx="476.82" cy="126.01" r="1.35"/><circle cx="480.05" cy="126.69" r="1.35"/><circle cx="480.71" cy="126.79" r="1.35"/><circle cx="484.53" cy="127.28" r="1.35"/><circle cx="488.28" cy="127.61" r="1.35"/><circle cx="491.96" cy="127.88" r="1.35"/><circle cx="495.56" cy="128.1" r="1.35"/><circle cx="499.08" cy="128.32" r="1.35"/><circle cx="499.74" cy="128.36" r="1.35"/><circle cx="502.51" cy="128.52" r="1.35"/><circle cx="505.85" cy="128.71" r="1.35"/><circle cx="509.09" cy="128.88" r="1.35"/><circle cx="512.23" cy="129.03" r="1.35"/><circle cx="515.27" cy="129.18" r="1.35"/><circle cx="517.2" cy="129.27" r="1.35"/><circle cx="518.2" cy="129.32" r="1.35"/><circle cx="521.03" cy="129.46" r="1.35"/><circle cx="523.73" cy="129.58" r="1.35"/><circle cx="526.33" cy="129.7" r="1.35"/><circle cx="528.8" cy="129.81" r="1.35"/><circle cx="531.15" cy="129.92" r="1.35"/><circle cx="533.38" cy="130.01" r="1.35"/><circle cx="535.48" cy="130.1" r="1.35"/><circle cx="537.46" cy="130.18" r="1.35"/><circle cx="539.31" cy="130.26" r="1.35"/><circle cx="541.03" cy="130.33" r="1.35"/><circle cx="542.62" cy="130.39" r="1.35"/><circle cx="544.07" cy="130.45" r="1.35"/><circle cx="545.4" cy="130.5" r="1.35"/></g>
</g>
<path d="M87.4 232.6V340M132.3 232.6V340M177.2 232.6V340M222.1 232.6V340M42.5 247.94H267M42.5 263.29H267M42.5 278.63H267M42.5 293.97H267M42.5 309.31H267M42.5 324.66H267" stroke="#7a7a7a" stroke-width="0.8" stroke-dasharray="0.9 1.3" fill="none"/>
<path d="M42.5 340v-3M42.5 232.6v3M53.73 340v-1.8M53.73 232.6v1.8M64.95 340v-1.8M64.95 232.6v1.8M76.18 340v-1.8M76.18 232.6v1.8M87.4 340v-3M87.4 232.6v3M98.62 340v-1.8M98.62 232.6v1.8M109.85 340v-1.8M109.85 232.6v1.8M121.08 340v-1.8M121.08 232.6v1.8M132.3 340v-3M132.3 232.6v3M143.53 340v-1.8M143.53 232.6v1.8M154.75 340v-1.8M154.75 232.6v1.8M165.98 340v-1.8M165.98 232.6v1.8M177.2 340v-3M177.2 232.6v3M188.43 340v-1.8M188.43 232.6v1.8M199.65 340v-1.8M199.65 232.6v1.8M210.88 340v-1.8M210.88 232.6v1.8M222.1 340v-3M222.1 232.6v3M233.33 340v-1.8M233.33 232.6v1.8M244.55 340v-1.8M244.55 232.6v1.8M255.78 340v-1.8M255.78 232.6v1.8M267 340v-3M267 232.6v3M42.5 232.6h3M267 232.6h-3M42.5 235.67h1.8M267 235.67h-1.8M42.5 238.74h1.8M267 238.74h-1.8M42.5 241.81h1.8M267 241.81h-1.8M42.5 244.87h1.8M267 244.87h-1.8M42.5 247.94h3M267 247.94h-3M42.5 251.01h1.8M267 251.01h-1.8M42.5 254.08h1.8M267 254.08h-1.8M42.5 257.15h1.8M267 257.15h-1.8M42.5 260.22h1.8M267 260.22h-1.8M42.5 263.29h3M267 263.29h-3M42.5 266.35h1.8M267 266.35h-1.8M42.5 269.42h1.8M267 269.42h-1.8M42.5 272.49h1.8M267 272.49h-1.8M42.5 275.56h1.8M267 275.56h-1.8M42.5 278.63h3M267 278.63h-3M42.5 281.7h1.8M267 281.7h-1.8M42.5 284.77h1.8M267 284.77h-1.8M42.5 287.83h1.8M267 287.83h-1.8M42.5 290.9h1.8M267 290.9h-1.8M42.5 293.97h3M267 293.97h-3M42.5 297.04h1.8M267 297.04h-1.8M42.5 300.11h1.8M267 300.11h-1.8M42.5 303.18h1.8M267 303.18h-1.8M42.5 306.25h1.8M267 306.25h-1.8M42.5 309.31h3M267 309.31h-3M42.5 312.38h1.8M267 312.38h-1.8M42.5 315.45h1.8M267 315.45h-1.8M42.5 318.52h1.8M267 318.52h-1.8M42.5 321.59h1.8M267 321.59h-1.8M42.5 324.66h3M267 324.66h-3M42.5 327.73h1.8M267 327.73h-1.8M42.5 330.79h1.8M267 330.79h-1.8M42.5 333.86h1.8M267 333.86h-1.8M42.5 336.93h1.8M267 336.93h-1.8M42.5 340h3M267 340h-3" stroke="#444" stroke-width="0.8" fill="none"/>
<rect x="42.5" y="232.6" width="224.5" height="107.4" fill="none" stroke="#4a4a4a" stroke-width="1.1"/>
<text x="36.5" y="235.1" class="tl" text-anchor="end">-2</text>
<text x="36.5" y="250.44" class="tl" text-anchor="end">-1.5</text>
<text x="36.5" y="265.79" class="tl" text-anchor="end">-1</text>
<text x="36.5" y="281.13" class="tl" text-anchor="end">-0.5</text>
<text x="36.5" y="296.47" class="tl" text-anchor="end">0</text>
<text x="36.5" y="311.81" class="tl" text-anchor="end">0.5</text>
<text x="36.5" y="327.16" class="tl" text-anchor="end">1</text>
<text x="36.5" y="342.5" class="tl" text-anchor="end">1.5</text>
<text x="42.5" y="348.8" class="tl" text-anchor="middle">0</text>
<text x="87.4" y="348.8" class="tl" text-anchor="middle">0.2</text>
<text x="132.3" y="348.8" class="tl" text-anchor="middle">0.4</text>
<text x="177.2" y="348.8" class="tl" text-anchor="middle">0.6</text>
<text x="222.1" y="348.8" class="tl" text-anchor="middle">0.8</text>
<text x="267" y="348.8" class="tl" text-anchor="middle">1</text>
<g>
<path d="M42.5 323.74 L43.17 300.61 L43.83 282.21 L44.3 271.26 L45.29 271.06 L46.89 270.78 L46.99 270.76 L48.61 270.56 L50.47 270.42 L52.45 270.37 L54.56 270.35 L56.79 270.34 L59.15 270.34 L61.63 270.34 L64.23 270.34 L66.95 270.34 L69.78 270.34 L72.72 270.34 L75.77 270.34 L78.92 270.34 L82.17 270.34 L85.52 270.34 L88.96 270.34 L92.49 270.34 L96.1 270.34 L99.79 270.34 L103.56 270.34 L107.39 270.34 L111.29 270.34 L115.25 270.34 L119.26 270.34 L123.32 270.34 L127.42 270.34 L131.56 270.34 L135.74 270.34 L139.93 270.34 L144.15 270.34 L148.39 270.34 L152.63 270.34 L154.75 270.34 L156.87 270.35 L161.11 270.35 L165.35 270.36 L169.57 270.37 L173.76 270.38 L177.94 270.4 L182.08 270.42 L186.18 270.44 L190.24 270.46 L194.25 270.48 L198.21 270.51 L202.11 270.53 L205.94 270.55 L209.71 270.58 L213.4 270.6 L217.01 270.62 L220.54 270.64 L222.1 270.65 L223.98 270.66 L227.33 270.68 L230.58 270.7 L233.73 270.72 L236.78 270.74 L239.72 270.76 L242.55 270.78 L245.27 270.8 L247.87 270.81 L250.35 270.83 L252.71 270.85 L254.94 270.87 L257.05 270.88 L259.03 270.9 L260.89 270.91 L262.61 270.92 L264.21 270.94 L265.67 270.95 L267 270.96" stroke="#ff1a1a" stroke-width="1.3" fill="none"/>
<g fill="#ff1a1a"><circle cx="42.5" cy="323.74" r="1.4"/><circle cx="43.17" cy="300.61" r="1.4"/><circle cx="43.83" cy="282.21" r="1.4"/><circle cx="44.3" cy="271.26" r="1.4"/><circle cx="45.29" cy="271.06" r="1.4"/><circle cx="46.89" cy="270.78" r="1.4"/><circle cx="46.99" cy="270.76" r="1.4"/><circle cx="48.61" cy="270.56" r="1.4"/><circle cx="50.47" cy="270.42" r="1.4"/><circle cx="52.45" cy="270.37" r="1.4"/><circle cx="54.56" cy="270.35" r="1.4"/><circle cx="56.79" cy="270.34" r="1.4"/><circle cx="59.15" cy="270.34" r="1.4"/><circle cx="61.63" cy="270.34" r="1.4"/><circle cx="64.23" cy="270.34" r="1.4"/><circle cx="66.95" cy="270.34" r="1.4"/><circle cx="69.78" cy="270.34" r="1.4"/><circle cx="72.72" cy="270.34" r="1.4"/><circle cx="75.77" cy="270.34" r="1.4"/><circle cx="78.92" cy="270.34" r="1.4"/><circle cx="82.17" cy="270.34" r="1.4"/><circle cx="85.52" cy="270.34" r="1.4"/><circle cx="88.96" cy="270.34" r="1.4"/><circle cx="92.49" cy="270.34" r="1.4"/><circle cx="96.1" cy="270.34" r="1.4"/><circle cx="99.79" cy="270.34" r="1.4"/><circle cx="103.56" cy="270.34" r="1.4"/><circle cx="107.39" cy="270.34" r="1.4"/><circle cx="111.29" cy="270.34" r="1.4"/><circle cx="115.25" cy="270.34" r="1.4"/><circle cx="119.26" cy="270.34" r="1.4"/><circle cx="123.32" cy="270.34" r="1.4"/><circle cx="127.42" cy="270.34" r="1.4"/><circle cx="131.56" cy="270.34" r="1.4"/><circle cx="135.74" cy="270.34" r="1.4"/><circle cx="139.93" cy="270.34" r="1.4"/><circle cx="144.15" cy="270.34" r="1.4"/><circle cx="148.39" cy="270.34" r="1.4"/><circle cx="152.63" cy="270.34" r="1.4"/><circle cx="154.75" cy="270.34" r="1.4"/><circle cx="156.87" cy="270.35" r="1.4"/><circle cx="161.11" cy="270.35" r="1.4"/><circle cx="165.35" cy="270.36" r="1.4"/><circle cx="169.57" cy="270.37" r="1.4"/><circle cx="173.76" cy="270.38" r="1.4"/><circle cx="177.94" cy="270.4" r="1.4"/><circle cx="182.08" cy="270.42" r="1.4"/><circle cx="186.18" cy="270.44" r="1.4"/><circle cx="190.24" cy="270.46" r="1.4"/><circle cx="194.25" cy="270.48" r="1.4"/><circle cx="198.21" cy="270.51" r="1.4"/><circle cx="202.11" cy="270.53" r="1.4"/><circle cx="205.94" cy="270.55" r="1.4"/><circle cx="209.71" cy="270.58" r="1.4"/><circle cx="213.4" cy="270.6" r="1.4"/><circle cx="217.01" cy="270.62" r="1.4"/><circle cx="220.54" cy="270.64" r="1.4"/><circle cx="222.1" cy="270.65" r="1.4"/><circle cx="223.98" cy="270.66" r="1.4"/><circle cx="227.33" cy="270.68" r="1.4"/><circle cx="230.58" cy="270.7" r="1.4"/><circle cx="233.73" cy="270.72" r="1.4"/><circle cx="236.78" cy="270.74" r="1.4"/><circle cx="239.72" cy="270.76" r="1.4"/><circle cx="242.55" cy="270.78" r="1.4"/><circle cx="245.27" cy="270.8" r="1.4"/><circle cx="247.87" cy="270.81" r="1.4"/><circle cx="250.35" cy="270.83" r="1.4"/><circle cx="252.71" cy="270.85" r="1.4"/><circle cx="254.94" cy="270.87" r="1.4"/><circle cx="257.05" cy="270.88" r="1.4"/><circle cx="259.03" cy="270.9" r="1.4"/><circle cx="260.89" cy="270.91" r="1.4"/><circle cx="262.61" cy="270.92" r="1.4"/><circle cx="264.21" cy="270.94" r="1.4"/><circle cx="265.67" cy="270.95" r="1.4"/><circle cx="267" cy="270.96" r="1.4"/></g>
<path d="M42.5 323.74 L43.83 325.19 L44.74 326.19 L45.29 325.27 L46.89 322.68 L48 321 L48.61 320.15 L50.47 317.86 L52.45 315.82 L52.6 315.67 L54.56 313.93 L56.79 312.02 L57.99 310.98 L59.15 309.96 L61.58 307.78 L61.63 307.74 L64.23 305.39 L66.95 303.04 L66.97 303.02 L69.78 300.76 L72.58 298.7 L72.72 298.6 L75.77 296.56 L78.92 294.59 L82.17 292.64 L85.52 290.68 L86.73 289.98 L88.96 288.68 L92.49 286.64 L96.1 284.59 L97.95 283.55 L99.79 282.53 L103.56 280.48 L107.39 278.44 L110.52 276.82 L111.29 276.43 L115.25 274.47 L119.26 272.52 L123.1 270.63 L123.32 270.52 L127.42 268.43 L131.56 266.27 L135.44 264.17 L135.74 264.01 L139.93 261.51 L141.28 260.61 L144.15 258.34 L147.57 254.35 L148.39 253 L152.06 243.85 L152.63 241.94 L154.75 234.13 L156.87 239.17 L157.44 240.47 L160.14 246.01 L161.11 247.72 L164.85 252.88 L165.35 253.43 L169.57 257.13 L170.02 257.45 L173.76 259.7 L177.2 261.29 L177.94 261.58 L182.08 263.01 L186.18 264.2 L188.43 264.8 L190.24 265.28 L194.25 266.29 L198.21 267.24 L199.65 267.58 L202.11 268.15 L205.94 268.98 L207.96 269.36 L209.71 269.67 L213.4 270.23 L217.01 270.7 L220.54 271.09 L222.1 271.24 L223.98 271.41 L227.33 271.67 L230.58 271.91 L233.73 272.11 L236.78 272.28 L239.72 272.44 L240.73 272.49 L242.55 272.58 L245.27 272.72 L247.87 272.84 L250.35 272.94 L252.71 273 L254.94 273.01 L256.9 272.96 L257.05 272.95 L259.03 272.8 L260.89 272.56 L262.61 272.25 L264.21 271.92 L265.67 271.58 L267 271.26" stroke="#ff1a1a" stroke-width="1.3" fill="none"/>
<g fill="#ff1a1a"><circle cx="42.5" cy="323.74" r="1.4"/><circle cx="43.83" cy="325.19" r="1.4"/><circle cx="44.74" cy="326.19" r="1.4"/><circle cx="45.29" cy="325.27" r="1.4"/><circle cx="46.89" cy="322.68" r="1.4"/><circle cx="48" cy="321" r="1.4"/><circle cx="48.61" cy="320.15" r="1.4"/><circle cx="50.47" cy="317.86" r="1.4"/><circle cx="52.45" cy="315.82" r="1.4"/><circle cx="52.6" cy="315.67" r="1.4"/><circle cx="54.56" cy="313.93" r="1.4"/><circle cx="56.79" cy="312.02" r="1.4"/><circle cx="57.99" cy="310.98" r="1.4"/><circle cx="59.15" cy="309.96" r="1.4"/><circle cx="61.58" cy="307.78" r="1.4"/><circle cx="61.63" cy="307.74" r="1.4"/><circle cx="64.23" cy="305.39" r="1.4"/><circle cx="66.95" cy="303.04" r="1.4"/><circle cx="66.97" cy="303.02" r="1.4"/><circle cx="69.78" cy="300.76" r="1.4"/><circle cx="72.58" cy="298.7" r="1.4"/><circle cx="72.72" cy="298.6" r="1.4"/><circle cx="75.77" cy="296.56" r="1.4"/><circle cx="78.92" cy="294.59" r="1.4"/><circle cx="82.17" cy="292.64" r="1.4"/><circle cx="85.52" cy="290.68" r="1.4"/><circle cx="86.73" cy="289.98" r="1.4"/><circle cx="88.96" cy="288.68" r="1.4"/><circle cx="92.49" cy="286.64" r="1.4"/><circle cx="96.1" cy="284.59" r="1.4"/><circle cx="97.95" cy="283.55" r="1.4"/><circle cx="99.79" cy="282.53" r="1.4"/><circle cx="103.56" cy="280.48" r="1.4"/><circle cx="107.39" cy="278.44" r="1.4"/><circle cx="110.52" cy="276.82" r="1.4"/><circle cx="111.29" cy="276.43" r="1.4"/><circle cx="115.25" cy="274.47" r="1.4"/><circle cx="119.26" cy="272.52" r="1.4"/><circle cx="123.1" cy="270.63" r="1.4"/><circle cx="123.32" cy="270.52" r="1.4"/><circle cx="127.42" cy="268.43" r="1.4"/><circle cx="131.56" cy="266.27" r="1.4"/><circle cx="135.44" cy="264.17" r="1.4"/><circle cx="135.74" cy="264.01" r="1.4"/><circle cx="139.93" cy="261.51" r="1.4"/><circle cx="141.28" cy="260.61" r="1.4"/><circle cx="144.15" cy="258.34" r="1.4"/><circle cx="147.57" cy="254.35" r="1.4"/><circle cx="148.39" cy="253" r="1.4"/><circle cx="152.06" cy="243.85" r="1.4"/><circle cx="152.63" cy="241.94" r="1.4"/><circle cx="154.75" cy="234.13" r="1.4"/><circle cx="156.87" cy="239.17" r="1.4"/><circle cx="157.44" cy="240.47" r="1.4"/><circle cx="160.14" cy="246.01" r="1.4"/><circle cx="161.11" cy="247.72" r="1.4"/><circle cx="164.85" cy="252.88" r="1.4"/><circle cx="165.35" cy="253.43" r="1.4"/><circle cx="169.57" cy="257.13" r="1.4"/><circle cx="170.02" cy="257.45" r="1.4"/><circle cx="173.76" cy="259.7" r="1.4"/><circle cx="177.2" cy="261.29" r="1.4"/><circle cx="177.94" cy="261.58" r="1.4"/><circle cx="182.08" cy="263.01" r="1.4"/><circle cx="186.18" cy="264.2" r="1.4"/><circle cx="188.43" cy="264.8" r="1.4"/><circle cx="190.24" cy="265.28" r="1.4"/><circle cx="194.25" cy="266.29" r="1.4"/><circle cx="198.21" cy="267.24" r="1.4"/><circle cx="199.65" cy="267.58" r="1.4"/><circle cx="202.11" cy="268.15" r="1.4"/><circle cx="205.94" cy="268.98" r="1.4"/><circle cx="207.96" cy="269.36" r="1.4"/><circle cx="209.71" cy="269.67" r="1.4"/><circle cx="213.4" cy="270.23" r="1.4"/><circle cx="217.01" cy="270.7" r="1.4"/><circle cx="220.54" cy="271.09" r="1.4"/><circle cx="222.1" cy="271.24" r="1.4"/><circle cx="223.98" cy="271.41" r="1.4"/><circle cx="227.33" cy="271.67" r="1.4"/><circle cx="230.58" cy="271.91" r="1.4"/><circle cx="233.73" cy="272.11" r="1.4"/><circle cx="236.78" cy="272.28" r="1.4"/><circle cx="239.72" cy="272.44" r="1.4"/><circle cx="240.73" cy="272.49" r="1.4"/><circle cx="242.55" cy="272.58" r="1.4"/><circle cx="245.27" cy="272.72" r="1.4"/><circle cx="247.87" cy="272.84" r="1.4"/><circle cx="250.35" cy="272.94" r="1.4"/><circle cx="252.71" cy="273" r="1.4"/><circle cx="254.94" cy="273.01" r="1.4"/><circle cx="256.9" cy="272.96" r="1.4"/><circle cx="257.05" cy="272.95" r="1.4"/><circle cx="259.03" cy="272.8" r="1.4"/><circle cx="260.89" cy="272.56" r="1.4"/><circle cx="262.61" cy="272.25" r="1.4"/><circle cx="264.21" cy="271.92" r="1.4"/><circle cx="265.67" cy="271.58" r="1.4"/><circle cx="267" cy="271.26" r="1.4"/></g>
<path d="M42.5 323.74 L43.17 300.43 L43.83 280.39 L44.3 267.58 L45.29 267.45 L46.89 267.25 L46.99 267.24 L48.61 267.09 L50.47 266.99 L52.45 266.94 L54.56 266.92 L56.79 266.9 L59.15 266.89 L61.63 266.87 L64.23 266.86 L66.95 266.85 L69.78 266.83 L72.72 266.82 L75.77 266.81 L78.92 266.8 L82.17 266.79 L85.52 266.78 L88.96 266.78 L92.49 266.77 L96.1 266.77 L99.79 266.76 L103.56 266.76 L107.39 266.75 L111.29 266.75 L115.25 266.74 L119.26 266.74 L123.32 266.73 L127.42 266.73 L131.56 266.72 L135.74 266.71 L139.93 266.71 L144.15 266.7 L148.39 266.68 L152.63 266.67 L154.75 266.66 L156.87 266.65 L161.11 266.63 L165.35 266.6 L169.57 266.57 L173.76 266.54 L177.94 266.51 L182.08 266.48 L186.18 266.45 L190.24 266.42 L194.25 266.4 L198.21 266.38 L202.11 266.36 L205.94 266.36 L207.96 266.36 L209.71 266.36 L213.4 266.38 L217.01 266.41 L220.54 266.46 L223.98 266.51 L227.33 266.57 L230.58 266.64 L233.73 266.71 L236.78 266.78 L239.72 266.85 L242.55 266.92 L244.55 266.97 L245.27 266.99 L247.87 267.07 L250.35 267.15 L252.71 267.24 L254.94 267.33 L257.05 267.42 L259.03 267.51 L260.89 267.59 L262.61 267.67 L264.21 267.75 L265.67 267.82 L267 267.89" stroke="#2323ff" stroke-width="1.1" fill="none"/>
<g fill="#2323ff"><path d="M42.5 322.14l1.55 2.6h-3.1z"/><path d="M43.17 298.83l1.55 2.6h-3.1z"/><path d="M43.83 278.79l1.55 2.6h-3.1z"/><path d="M44.3 265.98l1.55 2.6h-3.1z"/><path d="M45.29 265.85l1.55 2.6h-3.1z"/><path d="M46.89 265.65l1.55 2.6h-3.1z"/><path d="M46.99 265.64l1.55 2.6h-3.1z"/><path d="M48.61 265.49l1.55 2.6h-3.1z"/><path d="M50.47 265.39l1.55 2.6h-3.1z"/><path d="M52.45 265.34l1.55 2.6h-3.1z"/><path d="M54.56 265.32l1.55 2.6h-3.1z"/><path d="M56.79 265.3l1.55 2.6h-3.1z"/><path d="M59.15 265.29l1.55 2.6h-3.1z"/><path d="M61.63 265.27l1.55 2.6h-3.1z"/><path d="M64.23 265.26l1.55 2.6h-3.1z"/><path d="M66.95 265.25l1.55 2.6h-3.1z"/><path d="M69.78 265.23l1.55 2.6h-3.1z"/><path d="M72.72 265.22l1.55 2.6h-3.1z"/><path d="M75.77 265.21l1.55 2.6h-3.1z"/><path d="M78.92 265.2l1.55 2.6h-3.1z"/><path d="M82.17 265.19l1.55 2.6h-3.1z"/><path d="M85.52 265.18l1.55 2.6h-3.1z"/><path d="M88.96 265.18l1.55 2.6h-3.1z"/><path d="M92.49 265.17l1.55 2.6h-3.1z"/><path d="M96.1 265.17l1.55 2.6h-3.1z"/><path d="M99.79 265.16l1.55 2.6h-3.1z"/><path d="M103.56 265.16l1.55 2.6h-3.1z"/><path d="M107.39 265.15l1.55 2.6h-3.1z"/><path d="M111.29 265.15l1.55 2.6h-3.1z"/><path d="M115.25 265.14l1.55 2.6h-3.1z"/><path d="M119.26 265.14l1.55 2.6h-3.1z"/><path d="M123.32 265.13l1.55 2.6h-3.1z"/><path d="M127.42 265.13l1.55 2.6h-3.1z"/><path d="M131.56 265.12l1.55 2.6h-3.1z"/><path d="M135.74 265.11l1.55 2.6h-3.1z"/><path d="M139.93 265.11l1.55 2.6h-3.1z"/><path d="M144.15 265.1l1.55 2.6h-3.1z"/><path d="M148.39 265.08l1.55 2.6h-3.1z"/><path d="M152.63 265.07l1.55 2.6h-3.1z"/><path d="M154.75 265.06l1.55 2.6h-3.1z"/><path d="M156.87 265.05l1.55 2.6h-3.1z"/><path d="M161.11 265.03l1.55 2.6h-3.1z"/><path d="M165.35 265l1.55 2.6h-3.1z"/><path d="M169.57 264.97l1.55 2.6h-3.1z"/><path d="M173.76 264.94l1.55 2.6h-3.1z"/><path d="M177.94 264.91l1.55 2.6h-3.1z"/><path d="M182.08 264.88l1.55 2.6h-3.1z"/><path d="M186.18 264.85l1.55 2.6h-3.1z"/><path d="M190.24 264.82l1.55 2.6h-3.1z"/><path d="M194.25 264.8l1.55 2.6h-3.1z"/><path d="M198.21 264.78l1.55 2.6h-3.1z"/><path d="M202.11 264.76l1.55 2.6h-3.1z"/><path d="M205.94 264.76l1.55 2.6h-3.1z"/><path d="M207.96 264.76l1.55 2.6h-3.1z"/><path d="M209.71 264.76l1.55 2.6h-3.1z"/><path d="M213.4 264.78l1.55 2.6h-3.1z"/><path d="M217.01 264.81l1.55 2.6h-3.1z"/><path d="M220.54 264.86l1.55 2.6h-3.1z"/><path d="M223.98 264.91l1.55 2.6h-3.1z"/><path d="M227.33 264.97l1.55 2.6h-3.1z"/><path d="M230.58 265.04l1.55 2.6h-3.1z"/><path d="M233.73 265.11l1.55 2.6h-3.1z"/><path d="M236.78 265.18l1.55 2.6h-3.1z"/><path d="M239.72 265.25l1.55 2.6h-3.1z"/><path d="M242.55 265.32l1.55 2.6h-3.1z"/><path d="M244.55 265.37l1.55 2.6h-3.1z"/><path d="M245.27 265.39l1.55 2.6h-3.1z"/><path d="M247.87 265.47l1.55 2.6h-3.1z"/><path d="M250.35 265.55l1.55 2.6h-3.1z"/><path d="M252.71 265.64l1.55 2.6h-3.1z"/><path d="M254.94 265.73l1.55 2.6h-3.1z"/><path d="M257.05 265.82l1.55 2.6h-3.1z"/><path d="M259.03 265.91l1.55 2.6h-3.1z"/><path d="M260.89 265.99l1.55 2.6h-3.1z"/><path d="M262.61 266.07l1.55 2.6h-3.1z"/><path d="M264.21 266.15l1.55 2.6h-3.1z"/><path d="M265.67 266.22l1.55 2.6h-3.1z"/><path d="M267 266.29l1.55 2.6h-3.1z"/></g>
<path d="M42.5 323.74 L43.83 325.19 L44.74 326.19 L45.29 325.77 L46.89 324.57 L48 323.77 L48.61 323.35 L50.47 322.17 L52.45 321.03 L54.56 319.92 L56.79 318.77 L57.99 318.14 L59.15 317.53 L61.63 316.2 L64.23 314.8 L66.95 313.37 L66.97 313.36 L69.78 311.92 L72.58 310.49 L72.72 310.42 L75.77 308.83 L78.92 307.13 L82.17 305.35 L85.52 303.53 L86.73 302.89 L88.96 301.69 L92.49 299.84 L96.1 298 L97.95 297.09 L99.79 296.22 L103.56 294.48 L107.39 292.69 L110.52 291.11 L111.29 290.71 L115.25 288.47 L119.26 286.01 L123.1 283.5 L123.32 283.35 L127.42 280.51 L131.56 277.41 L135.44 274.12 L135.74 273.85 L139.93 269.66 L143.53 265.5 L144.15 264.7 L148.39 258.26 L149.14 256.85 L152.63 249.08 L154.75 243.65 L156.87 246.48 L160.14 251.11 L161.11 252.56 L164.85 257.86 L165.35 258.49 L169.57 262.71 L170.46 263.35 L173.76 265.09 L177.2 266.08 L177.94 266.21 L182.08 266.65 L186.18 266.87 L190.24 267.01 L194.25 267.12 L198.21 267.23 L199.65 267.28 L202.11 267.35 L205.94 267.45 L209.71 267.55 L213.4 267.64 L217.01 267.74 L220.54 267.85 L222.1 267.9 L223.98 267.98 L227.33 268.13 L230.58 268.29 L233.73 268.46 L236.78 268.61 L239.72 268.76 L240.73 268.81 L242.55 268.9 L245.27 269.03 L247.87 269.15 L250.35 269.25 L252.71 269.32 L254.94 269.35 L256.9 269.34 L257.05 269.34 L259.03 269.27 L260.89 269.15 L262.61 269 L264.21 268.83 L265.67 268.66 L267 268.5" stroke="#2323ff" stroke-width="1.1" fill="none"/>
<g fill="#2323ff"><path d="M42.5 322.14l1.55 2.6h-3.1z"/><path d="M43.83 323.59l1.55 2.6h-3.1z"/><path d="M44.74 324.59l1.55 2.6h-3.1z"/><path d="M45.29 324.17l1.55 2.6h-3.1z"/><path d="M46.89 322.97l1.55 2.6h-3.1z"/><path d="M48 322.17l1.55 2.6h-3.1z"/><path d="M48.61 321.75l1.55 2.6h-3.1z"/><path d="M50.47 320.57l1.55 2.6h-3.1z"/><path d="M52.45 319.43l1.55 2.6h-3.1z"/><path d="M54.56 318.32l1.55 2.6h-3.1z"/><path d="M56.79 317.17l1.55 2.6h-3.1z"/><path d="M57.99 316.54l1.55 2.6h-3.1z"/><path d="M59.15 315.93l1.55 2.6h-3.1z"/><path d="M61.63 314.6l1.55 2.6h-3.1z"/><path d="M64.23 313.2l1.55 2.6h-3.1z"/><path d="M66.95 311.77l1.55 2.6h-3.1z"/><path d="M66.97 311.76l1.55 2.6h-3.1z"/><path d="M69.78 310.32l1.55 2.6h-3.1z"/><path d="M72.58 308.89l1.55 2.6h-3.1z"/><path d="M72.72 308.82l1.55 2.6h-3.1z"/><path d="M75.77 307.23l1.55 2.6h-3.1z"/><path d="M78.92 305.53l1.55 2.6h-3.1z"/><path d="M82.17 303.75l1.55 2.6h-3.1z"/><path d="M85.52 301.93l1.55 2.6h-3.1z"/><path d="M86.73 301.29l1.55 2.6h-3.1z"/><path d="M88.96 300.09l1.55 2.6h-3.1z"/><path d="M92.49 298.24l1.55 2.6h-3.1z"/><path d="M96.1 296.4l1.55 2.6h-3.1z"/><path d="M97.95 295.49l1.55 2.6h-3.1z"/><path d="M99.79 294.62l1.55 2.6h-3.1z"/><path d="M103.56 292.88l1.55 2.6h-3.1z"/><path d="M107.39 291.09l1.55 2.6h-3.1z"/><path d="M110.52 289.51l1.55 2.6h-3.1z"/><path d="M111.29 289.11l1.55 2.6h-3.1z"/><path d="M115.25 286.87l1.55 2.6h-3.1z"/><path d="M119.26 284.41l1.55 2.6h-3.1z"/><path d="M123.1 281.9l1.55 2.6h-3.1z"/><path d="M123.32 281.75l1.55 2.6h-3.1z"/><path d="M127.42 278.91l1.55 2.6h-3.1z"/><path d="M131.56 275.81l1.55 2.6h-3.1z"/><path d="M135.44 272.52l1.55 2.6h-3.1z"/><path d="M135.74 272.25l1.55 2.6h-3.1z"/><path d="M139.93 268.06l1.55 2.6h-3.1z"/><path d="M143.53 263.9l1.55 2.6h-3.1z"/><path d="M144.15 263.1l1.55 2.6h-3.1z"/><path d="M148.39 256.66l1.55 2.6h-3.1z"/><path d="M149.14 255.25l1.55 2.6h-3.1z"/><path d="M152.63 247.48l1.55 2.6h-3.1z"/><path d="M154.75 242.05l1.55 2.6h-3.1z"/><path d="M156.87 244.88l1.55 2.6h-3.1z"/><path d="M160.14 249.51l1.55 2.6h-3.1z"/><path d="M161.11 250.96l1.55 2.6h-3.1z"/><path d="M164.85 256.26l1.55 2.6h-3.1z"/><path d="M165.35 256.89l1.55 2.6h-3.1z"/><path d="M169.57 261.11l1.55 2.6h-3.1z"/><path d="M170.46 261.75l1.55 2.6h-3.1z"/><path d="M173.76 263.49l1.55 2.6h-3.1z"/><path d="M177.2 264.48l1.55 2.6h-3.1z"/><path d="M177.94 264.61l1.55 2.6h-3.1z"/><path d="M182.08 265.05l1.55 2.6h-3.1z"/><path d="M186.18 265.27l1.55 2.6h-3.1z"/><path d="M190.24 265.41l1.55 2.6h-3.1z"/><path d="M194.25 265.52l1.55 2.6h-3.1z"/><path d="M198.21 265.63l1.55 2.6h-3.1z"/><path d="M199.65 265.68l1.55 2.6h-3.1z"/><path d="M202.11 265.75l1.55 2.6h-3.1z"/><path d="M205.94 265.85l1.55 2.6h-3.1z"/><path d="M209.71 265.95l1.55 2.6h-3.1z"/><path d="M213.4 266.04l1.55 2.6h-3.1z"/><path d="M217.01 266.14l1.55 2.6h-3.1z"/><path d="M220.54 266.25l1.55 2.6h-3.1z"/><path d="M222.1 266.3l1.55 2.6h-3.1z"/><path d="M223.98 266.38l1.55 2.6h-3.1z"/><path d="M227.33 266.53l1.55 2.6h-3.1z"/><path d="M230.58 266.69l1.55 2.6h-3.1z"/><path d="M233.73 266.86l1.55 2.6h-3.1z"/><path d="M236.78 267.01l1.55 2.6h-3.1z"/><path d="M239.72 267.16l1.55 2.6h-3.1z"/><path d="M240.73 267.21l1.55 2.6h-3.1z"/><path d="M242.55 267.3l1.55 2.6h-3.1z"/><path d="M245.27 267.43l1.55 2.6h-3.1z"/><path d="M247.87 267.55l1.55 2.6h-3.1z"/><path d="M250.35 267.65l1.55 2.6h-3.1z"/><path d="M252.71 267.72l1.55 2.6h-3.1z"/><path d="M254.94 267.75l1.55 2.6h-3.1z"/><path d="M256.9 267.74l1.55 2.6h-3.1z"/><path d="M257.05 267.74l1.55 2.6h-3.1z"/><path d="M259.03 267.67l1.55 2.6h-3.1z"/><path d="M260.89 267.55l1.55 2.6h-3.1z"/><path d="M262.61 267.4l1.55 2.6h-3.1z"/><path d="M264.21 267.23l1.55 2.6h-3.1z"/><path d="M265.67 267.06l1.55 2.6h-3.1z"/><path d="M267 266.9l1.55 2.6h-3.1z"/></g>
<path d="M42.5 323.74 L43.17 300.34 L43.83 279.49 L44.3 265.74 L45.29 265.61 L46.89 265.42 L46.99 265.41 L48.61 265.27 L50.47 265.18 L52.45 265.14 L54.56 265.13 L56.79 265.13 L59.15 265.13 L61.63 265.13 L64.23 265.13 L66.95 265.13 L69.78 265.13 L72.72 265.13 L75.77 265.13 L78.92 265.13 L82.17 265.13 L85.52 265.13 L88.96 265.13 L92.49 265.13 L96.1 265.13 L99.79 265.13 L103.56 265.13 L107.39 265.13 L111.29 265.13 L115.25 265.13 L119.26 265.13 L123.32 265.13 L127.42 265.13 L131.56 265.13 L135.74 265.13 L139.93 265.13 L144.15 265.13 L148.39 265.13 L152.63 265.13 L154.75 265.13 L156.87 265.13 L161.11 265.14 L165.35 265.16 L169.57 265.2 L173.76 265.23 L177.94 265.28 L182.08 265.33 L186.18 265.39 L190.24 265.45 L194.25 265.51 L198.21 265.58 L202.11 265.64 L205.94 265.71 L207.96 265.75 L209.71 265.79 L213.4 265.88 L217.01 266 L220.54 266.13 L223.98 266.25 L227.33 266.37 L230.58 266.48 L233.73 266.56 L236.78 266.61 L239.72 266.64 L240.73 266.64 L242.55 266.64 L245.27 266.61 L247.87 266.57 L250.35 266.51 L252.71 266.44 L254.94 266.35 L257.05 266.27 L259.03 266.18 L260.89 266.08 L262.61 265.99 L264.21 265.9 L265.67 265.82 L267 265.74" stroke="#109010" stroke-width="1.0" fill="none"/>
<g fill="#109010"><circle cx="42.5" cy="323.74" r="1.1"/><circle cx="43.17" cy="300.34" r="1.1"/><circle cx="43.83" cy="279.49" r="1.1"/><circle cx="44.3" cy="265.74" r="1.1"/><circle cx="45.29" cy="265.61" r="1.1"/><circle cx="46.89" cy="265.42" r="1.1"/><circle cx="46.99" cy="265.41" r="1.1"/><circle cx="48.61" cy="265.27" r="1.1"/><circle cx="50.47" cy="265.18" r="1.1"/><circle cx="52.45" cy="265.14" r="1.1"/><circle cx="54.56" cy="265.13" r="1.1"/><circle cx="56.79" cy="265.13" r="1.1"/><circle cx="59.15" cy="265.13" r="1.1"/><circle cx="61.63" cy="265.13" r="1.1"/><circle cx="64.23" cy="265.13" r="1.1"/><circle cx="66.95" cy="265.13" r="1.1"/><circle cx="69.78" cy="265.13" r="1.1"/><circle cx="72.72" cy="265.13" r="1.1"/><circle cx="75.77" cy="265.13" r="1.1"/><circle cx="78.92" cy="265.13" r="1.1"/><circle cx="82.17" cy="265.13" r="1.1"/><circle cx="85.52" cy="265.13" r="1.1"/><circle cx="88.96" cy="265.13" r="1.1"/><circle cx="92.49" cy="265.13" r="1.1"/><circle cx="96.1" cy="265.13" r="1.1"/><circle cx="99.79" cy="265.13" r="1.1"/><circle cx="103.56" cy="265.13" r="1.1"/><circle cx="107.39" cy="265.13" r="1.1"/><circle cx="111.29" cy="265.13" r="1.1"/><circle cx="115.25" cy="265.13" r="1.1"/><circle cx="119.26" cy="265.13" r="1.1"/><circle cx="123.32" cy="265.13" r="1.1"/><circle cx="127.42" cy="265.13" r="1.1"/><circle cx="131.56" cy="265.13" r="1.1"/><circle cx="135.74" cy="265.13" r="1.1"/><circle cx="139.93" cy="265.13" r="1.1"/><circle cx="144.15" cy="265.13" r="1.1"/><circle cx="148.39" cy="265.13" r="1.1"/><circle cx="152.63" cy="265.13" r="1.1"/><circle cx="154.75" cy="265.13" r="1.1"/><circle cx="156.87" cy="265.13" r="1.1"/><circle cx="161.11" cy="265.14" r="1.1"/><circle cx="165.35" cy="265.16" r="1.1"/><circle cx="169.57" cy="265.2" r="1.1"/><circle cx="173.76" cy="265.23" r="1.1"/><circle cx="177.94" cy="265.28" r="1.1"/><circle cx="182.08" cy="265.33" r="1.1"/><circle cx="186.18" cy="265.39" r="1.1"/><circle cx="190.24" cy="265.45" r="1.1"/><circle cx="194.25" cy="265.51" r="1.1"/><circle cx="198.21" cy="265.58" r="1.1"/><circle cx="202.11" cy="265.64" r="1.1"/><circle cx="205.94" cy="265.71" r="1.1"/><circle cx="207.96" cy="265.75" r="1.1"/><circle cx="209.71" cy="265.79" r="1.1"/><circle cx="213.4" cy="265.88" r="1.1"/><circle cx="217.01" cy="266" r="1.1"/><circle cx="220.54" cy="266.13" r="1.1"/><circle cx="223.98" cy="266.25" r="1.1"/><circle cx="227.33" cy="266.37" r="1.1"/><circle cx="230.58" cy="266.48" r="1.1"/><circle cx="233.73" cy="266.56" r="1.1"/><circle cx="236.78" cy="266.61" r="1.1"/><circle cx="239.72" cy="266.64" r="1.1"/><circle cx="240.73" cy="266.64" r="1.1"/><circle cx="242.55" cy="266.64" r="1.1"/><circle cx="245.27" cy="266.61" r="1.1"/><circle cx="247.87" cy="266.57" r="1.1"/><circle cx="250.35" cy="266.51" r="1.1"/><circle cx="252.71" cy="266.44" r="1.1"/><circle cx="254.94" cy="266.35" r="1.1"/><circle cx="257.05" cy="266.27" r="1.1"/><circle cx="259.03" cy="266.18" r="1.1"/><circle cx="260.89" cy="266.08" r="1.1"/><circle cx="262.61" cy="265.99" r="1.1"/><circle cx="264.21" cy="265.9" r="1.1"/><circle cx="265.67" cy="265.82" r="1.1"/><circle cx="267" cy="265.74" r="1.1"/></g>
<path d="M42.5 323.74 L43.83 325.19 L44.74 326.19 L45.29 325.93 L46.89 325.19 L48 324.71 L48.61 324.46 L50.47 323.81 L52.45 323.23 L54.56 322.68 L56.79 322.1 L57.99 321.75 L59.15 321.39 L61.63 320.55 L64.23 319.59 L66.95 318.54 L66.97 318.53 L69.78 317.45 L72.58 316.4 L72.72 316.35 L75.77 315.25 L78.92 314.14 L82.17 313.02 L85.52 311.87 L86.73 311.46 L88.96 310.69 L92.49 309.48 L96.1 308.22 L99.79 306.91 L99.97 306.84 L103.56 305.53 L107.39 304.08 L110.52 302.84 L111.29 302.52 L115.25 300.86 L119.26 299.09 L123.1 297.35 L123.32 297.24 L127.42 295.34 L131.56 293.27 L135.44 291 L135.74 290.81 L139.93 287.72 L143.53 284.47 L144.15 283.83 L148.39 278.84 L150.04 276.51 L152.63 272.42 L154.75 268.81 L156.87 269.77 L160.14 271.1 L161.11 271.45 L165.35 272.69 L169.57 273.55 L170.02 273.62 L173.76 274.05 L177.2 274.22 L177.94 274.23 L182.08 274.14 L186.18 273.87 L190.24 273.54 L194.25 273.18 L195.16 273.1 L198.21 272.83 L202.11 272.45 L205.94 272.07 L209.71 271.69 L210.88 271.58 L213.4 271.33 L217.01 270.98 L220.54 270.65 L223.98 270.32 L227.33 270 L230.58 269.69 L233.32 269.42 L233.73 269.38 L236.78 269.08 L239.72 268.79 L242.55 268.51 L245.27 268.24 L247.87 267.99 L250.35 267.74 L252.71 267.5 L254.94 267.28 L257.05 267.06 L259.03 266.86 L260.89 266.67 L262.61 266.5 L264.21 266.33 L265.67 266.18 L267 266.05" stroke="#109010" stroke-width="1.0" fill="none"/>
<g fill="#109010"><circle cx="42.5" cy="323.74" r="1.1"/><circle cx="43.83" cy="325.19" r="1.1"/><circle cx="44.74" cy="326.19" r="1.1"/><circle cx="45.29" cy="325.93" r="1.1"/><circle cx="46.89" cy="325.19" r="1.1"/><circle cx="48" cy="324.71" r="1.1"/><circle cx="48.61" cy="324.46" r="1.1"/><circle cx="50.47" cy="323.81" r="1.1"/><circle cx="52.45" cy="323.23" r="1.1"/><circle cx="54.56" cy="322.68" r="1.1"/><circle cx="56.79" cy="322.1" r="1.1"/><circle cx="57.99" cy="321.75" r="1.1"/><circle cx="59.15" cy="321.39" r="1.1"/><circle cx="61.63" cy="320.55" r="1.1"/><circle cx="64.23" cy="319.59" r="1.1"/><circle cx="66.95" cy="318.54" r="1.1"/><circle cx="66.97" cy="318.53" r="1.1"/><circle cx="69.78" cy="317.45" r="1.1"/><circle cx="72.58" cy="316.4" r="1.1"/><circle cx="72.72" cy="316.35" r="1.1"/><circle cx="75.77" cy="315.25" r="1.1"/><circle cx="78.92" cy="314.14" r="1.1"/><circle cx="82.17" cy="313.02" r="1.1"/><circle cx="85.52" cy="311.87" r="1.1"/><circle cx="86.73" cy="311.46" r="1.1"/><circle cx="88.96" cy="310.69" r="1.1"/><circle cx="92.49" cy="309.48" r="1.1"/><circle cx="96.1" cy="308.22" r="1.1"/><circle cx="99.79" cy="306.91" r="1.1"/><circle cx="99.97" cy="306.84" r="1.1"/><circle cx="103.56" cy="305.53" r="1.1"/><circle cx="107.39" cy="304.08" r="1.1"/><circle cx="110.52" cy="302.84" r="1.1"/><circle cx="111.29" cy="302.52" r="1.1"/><circle cx="115.25" cy="300.86" r="1.1"/><circle cx="119.26" cy="299.09" r="1.1"/><circle cx="123.1" cy="297.35" r="1.1"/><circle cx="123.32" cy="297.24" r="1.1"/><circle cx="127.42" cy="295.34" r="1.1"/><circle cx="131.56" cy="293.27" r="1.1"/><circle cx="135.44" cy="291" r="1.1"/><circle cx="135.74" cy="290.81" r="1.1"/><circle cx="139.93" cy="287.72" r="1.1"/><circle cx="143.53" cy="284.47" r="1.1"/><circle cx="144.15" cy="283.83" r="1.1"/><circle cx="148.39" cy="278.84" r="1.1"/><circle cx="150.04" cy="276.51" r="1.1"/><circle cx="152.63" cy="272.42" r="1.1"/><circle cx="154.75" cy="268.81" r="1.1"/><circle cx="156.87" cy="269.77" r="1.1"/><circle cx="160.14" cy="271.1" r="1.1"/><circle cx="161.11" cy="271.45" r="1.1"/><circle cx="165.35" cy="272.69" r="1.1"/><circle cx="169.57" cy="273.55" r="1.1"/><circle cx="170.02" cy="273.62" r="1.1"/><circle cx="173.76" cy="274.05" r="1.1"/><circle cx="177.2" cy="274.22" r="1.1"/><circle cx="177.94" cy="274.23" r="1.1"/><circle cx="182.08" cy="274.14" r="1.1"/><circle cx="186.18" cy="273.87" r="1.1"/><circle cx="190.24" cy="273.54" r="1.1"/><circle cx="194.25" cy="273.18" r="1.1"/><circle cx="195.16" cy="273.1" r="1.1"/><circle cx="198.21" cy="272.83" r="1.1"/><circle cx="202.11" cy="272.45" r="1.1"/><circle cx="205.94" cy="272.07" r="1.1"/><circle cx="209.71" cy="271.69" r="1.1"/><circle cx="210.88" cy="271.58" r="1.1"/><circle cx="213.4" cy="271.33" r="1.1"/><circle cx="217.01" cy="270.98" r="1.1"/><circle cx="220.54" cy="270.65" r="1.1"/><circle cx="223.98" cy="270.32" r="1.1"/><circle cx="227.33" cy="270" r="1.1"/><circle cx="230.58" cy="269.69" r="1.1"/><circle cx="233.32" cy="269.42" r="1.1"/><circle cx="233.73" cy="269.38" r="1.1"/><circle cx="236.78" cy="269.08" r="1.1"/><circle cx="239.72" cy="268.79" r="1.1"/><circle cx="242.55" cy="268.51" r="1.1"/><circle cx="245.27" cy="268.24" r="1.1"/><circle cx="247.87" cy="267.99" r="1.1"/><circle cx="250.35" cy="267.74" r="1.1"/><circle cx="252.71" cy="267.5" r="1.1"/><circle cx="254.94" cy="267.28" r="1.1"/><circle cx="257.05" cy="267.06" r="1.1"/><circle cx="259.03" cy="266.86" r="1.1"/><circle cx="260.89" cy="266.67" r="1.1"/><circle cx="262.61" cy="266.5" r="1.1"/><circle cx="264.21" cy="266.33" r="1.1"/><circle cx="265.67" cy="266.18" r="1.1"/><circle cx="267" cy="266.05" r="1.1"/></g>
<path d="M42.5 323.74 L43.17 300.17 L43.83 277.7 L44.3 262.06 L45.29 261.92 L46.89 261.73 L46.99 261.71 L48.61 261.57 L50.47 261.47 L52.45 261.42 L54.56 261.39 L56.79 261.37 L59.15 261.36 L61.63 261.34 L64.23 261.33 L66.95 261.31 L69.78 261.29 L72.72 261.28 L75.77 261.27 L78.92 261.25 L82.17 261.24 L85.52 261.23 L88.96 261.21 L92.49 261.2 L96.1 261.19 L99.79 261.18 L103.56 261.18 L107.39 261.17 L111.29 261.16 L115.25 261.16 L119.26 261.15 L123.32 261.15 L127.42 261.15 L131.56 261.14 L135.74 261.14 L139.93 261.14 L144.15 261.14 L148.39 261.14 L152.63 261.14 L154.75 261.14 L156.87 261.15 L161.11 261.16 L165.35 261.2 L169.57 261.25 L173.76 261.31 L177.94 261.39 L182.08 261.47 L186.18 261.56 L190.24 261.65 L194.25 261.74 L198.21 261.83 L202.11 261.93 L205.94 262.01 L207.96 262.06 L209.71 262.1 L213.4 262.19 L217.01 262.28 L220.54 262.37 L223.98 262.47 L227.33 262.57 L230.58 262.67 L233.73 262.76 L236.78 262.86 L239.72 262.95 L240.73 262.98 L242.55 263.04 L245.27 263.13 L247.87 263.21 L250.35 263.3 L252.71 263.38 L254.94 263.46 L257.05 263.53 L259.03 263.6 L260.89 263.67 L262.61 263.74 L264.21 263.79 L265.67 263.85 L267 263.9" stroke="#333333" stroke-width="0.8" fill="none"/>
<g fill="#fff" stroke="#2a2a2a" stroke-width="0.7"><circle cx="42.5" cy="323.74" r="1.35"/><circle cx="43.17" cy="300.17" r="1.35"/><circle cx="43.83" cy="277.7" r="1.35"/><circle cx="44.3" cy="262.06" r="1.35"/><circle cx="45.29" cy="261.92" r="1.35"/><circle cx="46.89" cy="261.73" r="1.35"/><circle cx="46.99" cy="261.71" r="1.35"/><circle cx="48.61" cy="261.57" r="1.35"/><circle cx="50.47" cy="261.47" r="1.35"/><circle cx="52.45" cy="261.42" r="1.35"/><circle cx="54.56" cy="261.39" r="1.35"/><circle cx="56.79" cy="261.37" r="1.35"/><circle cx="59.15" cy="261.36" r="1.35"/><circle cx="61.63" cy="261.34" r="1.35"/><circle cx="64.23" cy="261.33" r="1.35"/><circle cx="66.95" cy="261.31" r="1.35"/><circle cx="69.78" cy="261.29" r="1.35"/><circle cx="72.72" cy="261.28" r="1.35"/><circle cx="75.77" cy="261.27" r="1.35"/><circle cx="78.92" cy="261.25" r="1.35"/><circle cx="82.17" cy="261.24" r="1.35"/><circle cx="85.52" cy="261.23" r="1.35"/><circle cx="88.96" cy="261.21" r="1.35"/><circle cx="92.49" cy="261.2" r="1.35"/><circle cx="96.1" cy="261.19" r="1.35"/><circle cx="99.79" cy="261.18" r="1.35"/><circle cx="103.56" cy="261.18" r="1.35"/><circle cx="107.39" cy="261.17" r="1.35"/><circle cx="111.29" cy="261.16" r="1.35"/><circle cx="115.25" cy="261.16" r="1.35"/><circle cx="119.26" cy="261.15" r="1.35"/><circle cx="123.32" cy="261.15" r="1.35"/><circle cx="127.42" cy="261.15" r="1.35"/><circle cx="131.56" cy="261.14" r="1.35"/><circle cx="135.74" cy="261.14" r="1.35"/><circle cx="139.93" cy="261.14" r="1.35"/><circle cx="144.15" cy="261.14" r="1.35"/><circle cx="148.39" cy="261.14" r="1.35"/><circle cx="152.63" cy="261.14" r="1.35"/><circle cx="154.75" cy="261.14" r="1.35"/><circle cx="156.87" cy="261.15" r="1.35"/><circle cx="161.11" cy="261.16" r="1.35"/><circle cx="165.35" cy="261.2" r="1.35"/><circle cx="169.57" cy="261.25" r="1.35"/><circle cx="173.76" cy="261.31" r="1.35"/><circle cx="177.94" cy="261.39" r="1.35"/><circle cx="182.08" cy="261.47" r="1.35"/><circle cx="186.18" cy="261.56" r="1.35"/><circle cx="190.24" cy="261.65" r="1.35"/><circle cx="194.25" cy="261.74" r="1.35"/><circle cx="198.21" cy="261.83" r="1.35"/><circle cx="202.11" cy="261.93" r="1.35"/><circle cx="205.94" cy="262.01" r="1.35"/><circle cx="207.96" cy="262.06" r="1.35"/><circle cx="209.71" cy="262.1" r="1.35"/><circle cx="213.4" cy="262.19" r="1.35"/><circle cx="217.01" cy="262.28" r="1.35"/><circle cx="220.54" cy="262.37" r="1.35"/><circle cx="223.98" cy="262.47" r="1.35"/><circle cx="227.33" cy="262.57" r="1.35"/><circle cx="230.58" cy="262.67" r="1.35"/><circle cx="233.73" cy="262.76" r="1.35"/><circle cx="236.78" cy="262.86" r="1.35"/><circle cx="239.72" cy="262.95" r="1.35"/><circle cx="240.73" cy="262.98" r="1.35"/><circle cx="242.55" cy="263.04" r="1.35"/><circle cx="245.27" cy="263.13" r="1.35"/><circle cx="247.87" cy="263.21" r="1.35"/><circle cx="250.35" cy="263.3" r="1.35"/><circle cx="252.71" cy="263.38" r="1.35"/><circle cx="254.94" cy="263.46" r="1.35"/><circle cx="257.05" cy="263.53" r="1.35"/><circle cx="259.03" cy="263.6" r="1.35"/><circle cx="260.89" cy="263.67" r="1.35"/><circle cx="262.61" cy="263.74" r="1.35"/><circle cx="264.21" cy="263.79" r="1.35"/><circle cx="265.67" cy="263.85" r="1.35"/><circle cx="267" cy="263.9" r="1.35"/></g>
<path d="M42.5 323.74 L43.83 325.74 L44.74 327.11 L45.29 327.02 L46.89 326.74 L48 326.55 L48.61 326.45 L50.47 326.15 L52.45 325.84 L54.56 325.49 L56.79 325.08 L57.99 324.82 L59.15 324.55 L61.63 323.88 L64.23 323.09 L66.95 322.25 L66.97 322.25 L69.78 321.41 L72.72 320.56 L75.77 319.71 L78.92 318.83 L82.17 317.94 L85.52 317.01 L86.73 316.67 L88.96 316.05 L92.49 315.06 L96.1 314.06 L99.79 313.07 L99.97 313.02 L103.56 312.11 L107.39 311.18 L111.29 310.24 L115.25 309.28 L119.26 308.25 L119.95 308.07 L123.32 307.15 L127.42 305.96 L131.56 304.56 L132.3 304.28 L135.74 302.85 L139.03 301.29 L139.93 300.83 L144.15 298.36 L145.77 297.16 L148.39 294.66 L150.26 292.31 L152.63 288.49 L153.63 286.6 L155.87 282 L156.87 282.74 L159.24 284.4 L161.11 285.55 L164.85 287.32 L165.35 287.51 L169.57 288.71 L172.71 289.17 L173.76 289.24 L177.94 289.35 L181.69 289.26 L182.08 289.24 L186.18 288.84 L190.24 288.08 L194.25 287.09 L198.21 286.07 L199.65 285.7 L202.11 285.09 L205.94 284.12 L209.71 283.12 L213.4 282.09 L217.01 281.06 L220.54 280.01 L222.1 279.53 L223.98 278.94 L227.33 277.86 L230.58 276.77 L233.73 275.69 L236.78 274.62 L239.72 273.58 L242.55 272.58 L244.55 271.88 L245.27 271.63 L247.87 270.72 L250.35 269.84 L252.71 269.01 L254.94 268.22 L257.05 267.47 L259.03 266.76 L260.89 266.1 L262.61 265.48 L264.21 264.91 L265.67 264.38 L267 263.9" stroke="#333333" stroke-width="0.8" fill="none"/>
<g fill="#fff" stroke="#2a2a2a" stroke-width="0.7"><circle cx="42.5" cy="323.74" r="1.35"/><circle cx="43.83" cy="325.74" r="1.35"/><circle cx="44.74" cy="327.11" r="1.35"/><circle cx="45.29" cy="327.02" r="1.35"/><circle cx="46.89" cy="326.74" r="1.35"/><circle cx="48" cy="326.55" r="1.35"/><circle cx="48.61" cy="326.45" r="1.35"/><circle cx="50.47" cy="326.15" r="1.35"/><circle cx="52.45" cy="325.84" r="1.35"/><circle cx="54.56" cy="325.49" r="1.35"/><circle cx="56.79" cy="325.08" r="1.35"/><circle cx="57.99" cy="324.82" r="1.35"/><circle cx="59.15" cy="324.55" r="1.35"/><circle cx="61.63" cy="323.88" r="1.35"/><circle cx="64.23" cy="323.09" r="1.35"/><circle cx="66.95" cy="322.25" r="1.35"/><circle cx="66.97" cy="322.25" r="1.35"/><circle cx="69.78" cy="321.41" r="1.35"/><circle cx="72.72" cy="320.56" r="1.35"/><circle cx="75.77" cy="319.71" r="1.35"/><circle cx="78.92" cy="318.83" r="1.35"/><circle cx="82.17" cy="317.94" r="1.35"/><circle cx="85.52" cy="317.01" r="1.35"/><circle cx="86.73" cy="316.67" r="1.35"/><circle cx="88.96" cy="316.05" r="1.35"/><circle cx="92.49" cy="315.06" r="1.35"/><circle cx="96.1" cy="314.06" r="1.35"/><circle cx="99.79" cy="313.07" r="1.35"/><circle cx="99.97" cy="313.02" r="1.35"/><circle cx="103.56" cy="312.11" r="1.35"/><circle cx="107.39" cy="311.18" r="1.35"/><circle cx="111.29" cy="310.24" r="1.35"/><circle cx="115.25" cy="309.28" r="1.35"/><circle cx="119.26" cy="308.25" r="1.35"/><circle cx="119.95" cy="308.07" r="1.35"/><circle cx="123.32" cy="307.15" r="1.35"/><circle cx="127.42" cy="305.96" r="1.35"/><circle cx="131.56" cy="304.56" r="1.35"/><circle cx="132.3" cy="304.28" r="1.35"/><circle cx="135.74" cy="302.85" r="1.35"/><circle cx="139.03" cy="301.29" r="1.35"/><circle cx="139.93" cy="300.83" r="1.35"/><circle cx="144.15" cy="298.36" r="1.35"/><circle cx="145.77" cy="297.16" r="1.35"/><circle cx="148.39" cy="294.66" r="1.35"/><circle cx="150.26" cy="292.31" r="1.35"/><circle cx="152.63" cy="288.49" r="1.35"/><circle cx="153.63" cy="286.6" r="1.35"/><circle cx="155.87" cy="282" r="1.35"/><circle cx="156.87" cy="282.74" r="1.35"/><circle cx="159.24" cy="284.4" r="1.35"/><circle cx="161.11" cy="285.55" r="1.35"/><circle cx="164.85" cy="287.32" r="1.35"/><circle cx="165.35" cy="287.51" r="1.35"/><circle cx="169.57" cy="288.71" r="1.35"/><circle cx="172.71" cy="289.17" r="1.35"/><circle cx="173.76" cy="289.24" r="1.35"/><circle cx="177.94" cy="289.35" r="1.35"/><circle cx="181.69" cy="289.26" r="1.35"/><circle cx="182.08" cy="289.24" r="1.35"/><circle cx="186.18" cy="288.84" r="1.35"/><circle cx="190.24" cy="288.08" r="1.35"/><circle cx="194.25" cy="287.09" r="1.35"/><circle cx="198.21" cy="286.07" r="1.35"/><circle cx="199.65" cy="285.7" r="1.35"/><circle cx="202.11" cy="285.09" r="1.35"/><circle cx="205.94" cy="284.12" r="1.35"/><circle cx="209.71" cy="283.12" r="1.35"/><circle cx="213.4" cy="282.09" r="1.35"/><circle cx="217.01" cy="281.06" r="1.35"/><circle cx="220.54" cy="280.01" r="1.35"/><circle cx="222.1" cy="279.53" r="1.35"/><circle cx="223.98" cy="278.94" r="1.35"/><circle cx="227.33" cy="277.86" r="1.35"/><circle cx="230.58" cy="276.77" r="1.35"/><circle cx="233.73" cy="275.69" r="1.35"/><circle cx="236.78" cy="274.62" r="1.35"/><circle cx="239.72" cy="273.58" r="1.35"/><circle cx="242.55" cy="272.58" r="1.35"/><circle cx="244.55" cy="271.88" r="1.35"/><circle cx="245.27" cy="271.63" r="1.35"/><circle cx="247.87" cy="270.72" r="1.35"/><circle cx="250.35" cy="269.84" r="1.35"/><circle cx="252.71" cy="269.01" r="1.35"/><circle cx="254.94" cy="268.22" r="1.35"/><circle cx="257.05" cy="267.47" r="1.35"/><circle cx="259.03" cy="266.76" r="1.35"/><circle cx="260.89" cy="266.1" r="1.35"/><circle cx="262.61" cy="265.48" r="1.35"/><circle cx="264.21" cy="264.91" r="1.35"/><circle cx="265.67" cy="264.38" r="1.35"/><circle cx="267" cy="263.9" r="1.35"/></g>
</g>
<path d="M364.88 232.4V338.1M409.16 232.4V338.1M453.44 232.4V338.1M497.72 232.4V338.1M320.6 247.5H542M320.6 262.6H542M320.6 277.7H542M320.6 292.8H542M320.6 307.9H542M320.6 323H542" stroke="#7a7a7a" stroke-width="0.8" stroke-dasharray="0.9 1.3" fill="none"/>
<path d="M320.6 338.1v-3M320.6 232.4v3M331.67 338.1v-1.8M331.67 232.4v1.8M342.74 338.1v-1.8M342.74 232.4v1.8M353.81 338.1v-1.8M353.81 232.4v1.8M364.88 338.1v-3M364.88 232.4v3M375.95 338.1v-1.8M375.95 232.4v1.8M387.02 338.1v-1.8M387.02 232.4v1.8M398.09 338.1v-1.8M398.09 232.4v1.8M409.16 338.1v-3M409.16 232.4v3M420.23 338.1v-1.8M420.23 232.4v1.8M431.3 338.1v-1.8M431.3 232.4v1.8M442.37 338.1v-1.8M442.37 232.4v1.8M453.44 338.1v-3M453.44 232.4v3M464.51 338.1v-1.8M464.51 232.4v1.8M475.58 338.1v-1.8M475.58 232.4v1.8M486.65 338.1v-1.8M486.65 232.4v1.8M497.72 338.1v-3M497.72 232.4v3M508.79 338.1v-1.8M508.79 232.4v1.8M519.86 338.1v-1.8M519.86 232.4v1.8M530.93 338.1v-1.8M530.93 232.4v1.8M542 338.1v-3M542 232.4v3M320.6 232.4h3M542 232.4h-3M320.6 235.42h1.8M542 235.42h-1.8M320.6 238.44h1.8M542 238.44h-1.8M320.6 241.46h1.8M542 241.46h-1.8M320.6 244.48h1.8M542 244.48h-1.8M320.6 247.5h3M542 247.5h-3M320.6 250.52h1.8M542 250.52h-1.8M320.6 253.54h1.8M542 253.54h-1.8M320.6 256.56h1.8M542 256.56h-1.8M320.6 259.58h1.8M542 259.58h-1.8M320.6 262.6h3M542 262.6h-3M320.6 265.62h1.8M542 265.62h-1.8M320.6 268.64h1.8M542 268.64h-1.8M320.6 271.66h1.8M542 271.66h-1.8M320.6 274.68h1.8M542 274.68h-1.8M320.6 277.7h3M542 277.7h-3M320.6 280.72h1.8M542 280.72h-1.8M320.6 283.74h1.8M542 283.74h-1.8M320.6 286.76h1.8M542 286.76h-1.8M320.6 289.78h1.8M542 289.78h-1.8M320.6 292.8h3M542 292.8h-3M320.6 295.82h1.8M542 295.82h-1.8M320.6 298.84h1.8M542 298.84h-1.8M320.6 301.86h1.8M542 301.86h-1.8M320.6 304.88h1.8M542 304.88h-1.8M320.6 307.9h3M542 307.9h-3M320.6 310.92h1.8M542 310.92h-1.8M320.6 313.94h1.8M542 313.94h-1.8M320.6 316.96h1.8M542 316.96h-1.8M320.6 319.98h1.8M542 319.98h-1.8M320.6 323h3M542 323h-3M320.6 326.02h1.8M542 326.02h-1.8M320.6 329.04h1.8M542 329.04h-1.8M320.6 332.06h1.8M542 332.06h-1.8M320.6 335.08h1.8M542 335.08h-1.8M320.6 338.1h3M542 338.1h-3" stroke="#444" stroke-width="0.8" fill="none"/>
<rect x="320.6" y="232.4" width="221.4" height="105.7" fill="none" stroke="#4a4a4a" stroke-width="1.1"/>
<text x="314.6" y="234.9" class="tl" text-anchor="end">-2</text>
<text x="314.6" y="250" class="tl" text-anchor="end">-1.5</text>
<text x="314.6" y="265.1" class="tl" text-anchor="end">-1</text>
<text x="314.6" y="280.2" class="tl" text-anchor="end">-0.5</text>
<text x="314.6" y="295.3" class="tl" text-anchor="end">0</text>
<text x="314.6" y="310.4" class="tl" text-anchor="end">0.5</text>
<text x="314.6" y="325.5" class="tl" text-anchor="end">1</text>
<text x="314.6" y="340.6" class="tl" text-anchor="end">1.5</text>
<text x="320.6" y="346.9" class="tl" text-anchor="middle">0</text>
<text x="364.88" y="346.9" class="tl" text-anchor="middle">0.2</text>
<text x="409.16" y="346.9" class="tl" text-anchor="middle">0.4</text>
<text x="453.44" y="346.9" class="tl" text-anchor="middle">0.6</text>
<text x="497.72" y="346.9" class="tl" text-anchor="middle">0.8</text>
<text x="542" y="346.9" class="tl" text-anchor="middle">1</text>
<g>
<path d="M320.6 323 L321.91 322.96 L322.81 322.91 L323.35 322.85 L324.93 322.57 L326.63 322.08 L328.46 321.41 L328.9 321.23 L330.41 320.62 L332.49 319.76 L334.7 318.88 L337.02 318 L339.47 317.14 L339.8 317.03 L342.03 316.31 L344.71 315.52 L347.5 314.76 L350.4 314.06 L350.71 313.99 L353.41 313.41 L356.52 312.81 L359.73 312.23 L363.03 311.65 L363.77 311.52 L366.42 311.05 L369.9 310.45 L373.46 309.84 L377.1 309.25 L377.94 309.12 L380.82 308.68 L384.6 308.11 L388.44 307.55 L392.35 307.01 L396.3 306.47 L400.31 305.97 L404.35 305.48 L406.95 305.2 L408.43 305.04 L412.55 304.63 L416.69 304.24 L420.85 303.88 L425.02 303.53 L429.21 303.17 L433.39 302.8 L437.06 302.45 L437.58 302.4 L441.75 301.97 L445.91 301.51 L450.05 301.08 L454.17 300.69 L454.33 300.67 L458.25 300.36 L462.29 300.07 L466.3 299.78 L470.25 299.47 L470.71 299.43 L474.16 299.13 L478 298.76 L481.78 298.33 L485.5 297.8 L487.09 297.52 L489.14 297.11 L492.7 296.3 L493.29 296.17 L496.18 295.52 L499.57 294.8 L501.93 294.31 L502.87 294.11 L506.08 293.44 L509.19 292.78 L511.89 292.19 L512.2 292.12 L515.1 291.48 L517.89 290.82 L520.57 290.13 L522.07 289.7 L523.13 289.38 L525.58 288.56 L527.9 287.63 L530.11 286.55 L532.04 285.4 L532.19 285.3 L534.14 283.89 L535.97 282.37 L536.91 281.52 L537.67 280.79 L539.25 279.2 L540.69 277.65 L540.89 277.42 L542 276.19" stroke="#ff1a1a" stroke-width="1.3" fill="none"/>
<g fill="#ff1a1a"><circle cx="320.6" cy="323" r="1.4"/><circle cx="321.91" cy="322.96" r="1.4"/><circle cx="322.81" cy="322.91" r="1.4"/><circle cx="323.35" cy="322.85" r="1.4"/><circle cx="324.93" cy="322.57" r="1.4"/><circle cx="326.63" cy="322.08" r="1.4"/><circle cx="328.46" cy="321.41" r="1.4"/><circle cx="328.9" cy="321.23" r="1.4"/><circle cx="330.41" cy="320.62" r="1.4"/><circle cx="332.49" cy="319.76" r="1.4"/><circle cx="334.7" cy="318.88" r="1.4"/><circle cx="337.02" cy="318" r="1.4"/><circle cx="339.47" cy="317.14" r="1.4"/><circle cx="339.8" cy="317.03" r="1.4"/><circle cx="342.03" cy="316.31" r="1.4"/><circle cx="344.71" cy="315.52" r="1.4"/><circle cx="347.5" cy="314.76" r="1.4"/><circle cx="350.4" cy="314.06" r="1.4"/><circle cx="350.71" cy="313.99" r="1.4"/><circle cx="353.41" cy="313.41" r="1.4"/><circle cx="356.52" cy="312.81" r="1.4"/><circle cx="359.73" cy="312.23" r="1.4"/><circle cx="363.03" cy="311.65" r="1.4"/><circle cx="363.77" cy="311.52" r="1.4"/><circle cx="366.42" cy="311.05" r="1.4"/><circle cx="369.9" cy="310.45" r="1.4"/><circle cx="373.46" cy="309.84" r="1.4"/><circle cx="377.1" cy="309.25" r="1.4"/><circle cx="377.94" cy="309.12" r="1.4"/><circle cx="380.82" cy="308.68" r="1.4"/><circle cx="384.6" cy="308.11" r="1.4"/><circle cx="388.44" cy="307.55" r="1.4"/><circle cx="392.35" cy="307.01" r="1.4"/><circle cx="396.3" cy="306.47" r="1.4"/><circle cx="400.31" cy="305.97" r="1.4"/><circle cx="404.35" cy="305.48" r="1.4"/><circle cx="406.95" cy="305.2" r="1.4"/><circle cx="408.43" cy="305.04" r="1.4"/><circle cx="412.55" cy="304.63" r="1.4"/><circle cx="416.69" cy="304.24" r="1.4"/><circle cx="420.85" cy="303.88" r="1.4"/><circle cx="425.02" cy="303.53" r="1.4"/><circle cx="429.21" cy="303.17" r="1.4"/><circle cx="433.39" cy="302.8" r="1.4"/><circle cx="437.06" cy="302.45" r="1.4"/><circle cx="437.58" cy="302.4" r="1.4"/><circle cx="441.75" cy="301.97" r="1.4"/><circle cx="445.91" cy="301.51" r="1.4"/><circle cx="450.05" cy="301.08" r="1.4"/><circle cx="454.17" cy="300.69" r="1.4"/><circle cx="454.33" cy="300.67" r="1.4"/><circle cx="458.25" cy="300.36" r="1.4"/><circle cx="462.29" cy="300.07" r="1.4"/><circle cx="466.3" cy="299.78" r="1.4"/><circle cx="470.25" cy="299.47" r="1.4"/><circle cx="470.71" cy="299.43" r="1.4"/><circle cx="474.16" cy="299.13" r="1.4"/><circle cx="478" cy="298.76" r="1.4"/><circle cx="481.78" cy="298.33" r="1.4"/><circle cx="485.5" cy="297.8" r="1.4"/><circle cx="487.09" cy="297.52" r="1.4"/><circle cx="489.14" cy="297.11" r="1.4"/><circle cx="492.7" cy="296.3" r="1.4"/><circle cx="493.29" cy="296.17" r="1.4"/><circle cx="496.18" cy="295.52" r="1.4"/><circle cx="499.57" cy="294.8" r="1.4"/><circle cx="501.93" cy="294.31" r="1.4"/><circle cx="502.87" cy="294.11" r="1.4"/><circle cx="506.08" cy="293.44" r="1.4"/><circle cx="509.19" cy="292.78" r="1.4"/><circle cx="511.89" cy="292.19" r="1.4"/><circle cx="512.2" cy="292.12" r="1.4"/><circle cx="515.1" cy="291.48" r="1.4"/><circle cx="517.89" cy="290.82" r="1.4"/><circle cx="520.57" cy="290.13" r="1.4"/><circle cx="522.07" cy="289.7" r="1.4"/><circle cx="523.13" cy="289.38" r="1.4"/><circle cx="525.58" cy="288.56" r="1.4"/><circle cx="527.9" cy="287.63" r="1.4"/><circle cx="530.11" cy="286.55" r="1.4"/><circle cx="532.04" cy="285.4" r="1.4"/><circle cx="532.19" cy="285.3" r="1.4"/><circle cx="534.14" cy="283.89" r="1.4"/><circle cx="535.97" cy="282.37" r="1.4"/><circle cx="536.91" cy="281.52" r="1.4"/><circle cx="537.67" cy="280.79" r="1.4"/><circle cx="539.25" cy="279.2" r="1.4"/><circle cx="540.69" cy="277.65" r="1.4"/><circle cx="540.89" cy="277.42" r="1.4"/><circle cx="542" cy="276.19" r="1.4"/></g>
<path d="M320.6 323 L321.49 270.41 L321.91 261.37 L323.26 255.65 L323.35 255.65 L324.93 255.63 L326.63 255.6 L328.46 255.56 L330.41 255.51 L332.49 255.44 L334.7 255.36 L337.02 255.26 L339.47 255.14 L341.63 255.03 L342.03 255.01 L344.71 254.83 L347.5 254.62 L350.4 254.35 L352.7 254.1 L353.41 254.02 L356.52 253.62 L359.73 253.17 L363.03 252.72 L363.55 252.65 L366.42 252.28 L369.9 251.85 L373.46 251.49 L377.1 251.25 L379.05 251.19 L380.82 251.18 L384.6 251.24 L388.44 251.39 L389.9 251.47 L392.35 251.64 L396.3 252.05 L400.31 252.71 L400.75 252.8 L404.35 253.73 L408.43 254.99 L408.5 255.01 L412.55 256.23 L416.69 257.27 L417.13 257.37 L420.85 258.06 L425.02 258.64 L428.2 258.98 L429.21 258.56 L430.41 258.07 L433.39 260.4 L433.51 260.49 L437.58 262.71 L439.05 263.22 L441.75 263.9 L445.91 264.56 L450.05 265.08 L452.11 265.34 L454.17 265.61 L458.25 266.18 L462.29 266.74 L466.3 267.3 L470.25 267.83 L471.82 268.03 L474.16 268.33 L478 268.81 L481.78 269.27 L485.5 269.71 L489.14 270.13 L491.96 270.45 L492.7 270.53 L496.18 270.91 L499.57 271.28 L502.87 271.62 L506.08 271.96 L509.19 272.28 L511.89 272.57 L512.2 272.6 L515.1 272.9 L517.89 273.19 L520.57 273.46 L523.13 273.73 L525.58 273.98 L527.9 274.23 L530.11 274.47 L532.04 274.69 L532.19 274.71 L534.14 274.93 L535.97 275.15 L537.67 275.35 L539.25 275.55 L540.69 275.73 L542 275.89" stroke="#ff1a1a" stroke-width="1.3" fill="none"/>
<g fill="#ff1a1a"><circle cx="320.6" cy="323" r="1.4"/><circle cx="321.49" cy="270.41" r="1.4"/><circle cx="321.91" cy="261.37" r="1.4"/><circle cx="323.26" cy="255.65" r="1.4"/><circle cx="323.35" cy="255.65" r="1.4"/><circle cx="324.93" cy="255.63" r="1.4"/><circle cx="326.63" cy="255.6" r="1.4"/><circle cx="328.46" cy="255.56" r="1.4"/><circle cx="330.41" cy="255.51" r="1.4"/><circle cx="332.49" cy="255.44" r="1.4"/><circle cx="334.7" cy="255.36" r="1.4"/><circle cx="337.02" cy="255.26" r="1.4"/><circle cx="339.47" cy="255.14" r="1.4"/><circle cx="341.63" cy="255.03" r="1.4"/><circle cx="342.03" cy="255.01" r="1.4"/><circle cx="344.71" cy="254.83" r="1.4"/><circle cx="347.5" cy="254.62" r="1.4"/><circle cx="350.4" cy="254.35" r="1.4"/><circle cx="352.7" cy="254.1" r="1.4"/><circle cx="353.41" cy="254.02" r="1.4"/><circle cx="356.52" cy="253.62" r="1.4"/><circle cx="359.73" cy="253.17" r="1.4"/><circle cx="363.03" cy="252.72" r="1.4"/><circle cx="363.55" cy="252.65" r="1.4"/><circle cx="366.42" cy="252.28" r="1.4"/><circle cx="369.9" cy="251.85" r="1.4"/><circle cx="373.46" cy="251.49" r="1.4"/><circle cx="377.1" cy="251.25" r="1.4"/><circle cx="379.05" cy="251.19" r="1.4"/><circle cx="380.82" cy="251.18" r="1.4"/><circle cx="384.6" cy="251.24" r="1.4"/><circle cx="388.44" cy="251.39" r="1.4"/><circle cx="389.9" cy="251.47" r="1.4"/><circle cx="392.35" cy="251.64" r="1.4"/><circle cx="396.3" cy="252.05" r="1.4"/><circle cx="400.31" cy="252.71" r="1.4"/><circle cx="400.75" cy="252.8" r="1.4"/><circle cx="404.35" cy="253.73" r="1.4"/><circle cx="408.43" cy="254.99" r="1.4"/><circle cx="408.5" cy="255.01" r="1.4"/><circle cx="412.55" cy="256.23" r="1.4"/><circle cx="416.69" cy="257.27" r="1.4"/><circle cx="417.13" cy="257.37" r="1.4"/><circle cx="420.85" cy="258.06" r="1.4"/><circle cx="425.02" cy="258.64" r="1.4"/><circle cx="428.2" cy="258.98" r="1.4"/><circle cx="429.21" cy="258.56" r="1.4"/><circle cx="430.41" cy="258.07" r="1.4"/><circle cx="433.39" cy="260.4" r="1.4"/><circle cx="433.51" cy="260.49" r="1.4"/><circle cx="437.58" cy="262.71" r="1.4"/><circle cx="439.05" cy="263.22" r="1.4"/><circle cx="441.75" cy="263.9" r="1.4"/><circle cx="445.91" cy="264.56" r="1.4"/><circle cx="450.05" cy="265.08" r="1.4"/><circle cx="452.11" cy="265.34" r="1.4"/><circle cx="454.17" cy="265.61" r="1.4"/><circle cx="458.25" cy="266.18" r="1.4"/><circle cx="462.29" cy="266.74" r="1.4"/><circle cx="466.3" cy="267.3" r="1.4"/><circle cx="470.25" cy="267.83" r="1.4"/><circle cx="471.82" cy="268.03" r="1.4"/><circle cx="474.16" cy="268.33" r="1.4"/><circle cx="478" cy="268.81" r="1.4"/><circle cx="481.78" cy="269.27" r="1.4"/><circle cx="485.5" cy="269.71" r="1.4"/><circle cx="489.14" cy="270.13" r="1.4"/><circle cx="491.96" cy="270.45" r="1.4"/><circle cx="492.7" cy="270.53" r="1.4"/><circle cx="496.18" cy="270.91" r="1.4"/><circle cx="499.57" cy="271.28" r="1.4"/><circle cx="502.87" cy="271.62" r="1.4"/><circle cx="506.08" cy="271.96" r="1.4"/><circle cx="509.19" cy="272.28" r="1.4"/><circle cx="511.89" cy="272.57" r="1.4"/><circle cx="512.2" cy="272.6" r="1.4"/><circle cx="515.1" cy="272.9" r="1.4"/><circle cx="517.89" cy="273.19" r="1.4"/><circle cx="520.57" cy="273.46" r="1.4"/><circle cx="523.13" cy="273.73" r="1.4"/><circle cx="525.58" cy="273.98" r="1.4"/><circle cx="527.9" cy="274.23" r="1.4"/><circle cx="530.11" cy="274.47" r="1.4"/><circle cx="532.04" cy="274.69" r="1.4"/><circle cx="532.19" cy="274.71" r="1.4"/><circle cx="534.14" cy="274.93" r="1.4"/><circle cx="535.97" cy="275.15" r="1.4"/><circle cx="537.67" cy="275.35" r="1.4"/><circle cx="539.25" cy="275.55" r="1.4"/><circle cx="540.69" cy="275.73" r="1.4"/><circle cx="542" cy="275.89" r="1.4"/></g>
<path d="M320.6 323 L321.91 322.92 L322.81 322.83 L323.35 322.75 L324.93 322.4 L326.63 321.82 L328.46 321.06 L328.9 320.86 L330.41 320.19 L332.49 319.29 L334.7 318.4 L337.02 317.53 L339.47 316.68 L339.8 316.57 L342.03 315.85 L344.71 315.06 L347.5 314.31 L350.4 313.61 L350.71 313.54 L353.41 312.96 L356.52 312.36 L359.73 311.78 L363.03 311.2 L363.77 311.07 L366.42 310.6 L369.9 309.99 L373.46 309.39 L377.1 308.8 L377.94 308.67 L380.82 308.22 L384.6 307.66 L388.44 307.1 L392.35 306.55 L396.3 306.02 L400.31 305.51 L404.35 305.03 L406.95 304.74 L408.43 304.58 L412.55 304.17 L416.69 303.79 L420.85 303.43 L425.02 303.08 L429.21 302.72 L433.39 302.35 L437.06 302 L437.58 301.95 L441.75 301.51 L445.91 301.06 L450.05 300.62 L454.17 300.24 L454.33 300.22 L458.25 299.9 L462.29 299.61 L466.3 299.33 L470.25 299.02 L470.71 298.98 L474.16 298.68 L478 298.3 L481.78 297.88 L485.5 297.35 L487.09 297.07 L489.14 296.66 L492.7 295.85 L493.29 295.72 L496.18 295.07 L499.57 294.35 L501.93 293.85 L502.87 293.66 L506.08 292.98 L509.19 292.32 L511.89 291.74 L512.2 291.67 L515.1 291.03 L517.89 290.37 L520.57 289.67 L522.07 289.24 L523.13 288.92 L525.58 288.09 L527.9 287.17 L530.11 286.13 L532.04 285.04 L532.19 284.95 L534.14 283.63 L535.97 282.21 L536.91 281.41 L537.67 280.71 L539.25 279.17 L540.69 277.64 L540.89 277.41 L542 276.19" stroke="#2323ff" stroke-width="1.1" fill="none"/>
<g fill="#2323ff"><path d="M320.6 321.4l1.55 2.6h-3.1z"/><path d="M321.91 321.32l1.55 2.6h-3.1z"/><path d="M322.81 321.23l1.55 2.6h-3.1z"/><path d="M323.35 321.15l1.55 2.6h-3.1z"/><path d="M324.93 320.8l1.55 2.6h-3.1z"/><path d="M326.63 320.22l1.55 2.6h-3.1z"/><path d="M328.46 319.46l1.55 2.6h-3.1z"/><path d="M328.9 319.26l1.55 2.6h-3.1z"/><path d="M330.41 318.59l1.55 2.6h-3.1z"/><path d="M332.49 317.69l1.55 2.6h-3.1z"/><path d="M334.7 316.8l1.55 2.6h-3.1z"/><path d="M337.02 315.93l1.55 2.6h-3.1z"/><path d="M339.47 315.08l1.55 2.6h-3.1z"/><path d="M339.8 314.97l1.55 2.6h-3.1z"/><path d="M342.03 314.25l1.55 2.6h-3.1z"/><path d="M344.71 313.46l1.55 2.6h-3.1z"/><path d="M347.5 312.71l1.55 2.6h-3.1z"/><path d="M350.4 312.01l1.55 2.6h-3.1z"/><path d="M350.71 311.94l1.55 2.6h-3.1z"/><path d="M353.41 311.36l1.55 2.6h-3.1z"/><path d="M356.52 310.76l1.55 2.6h-3.1z"/><path d="M359.73 310.18l1.55 2.6h-3.1z"/><path d="M363.03 309.6l1.55 2.6h-3.1z"/><path d="M363.77 309.47l1.55 2.6h-3.1z"/><path d="M366.42 309l1.55 2.6h-3.1z"/><path d="M369.9 308.39l1.55 2.6h-3.1z"/><path d="M373.46 307.79l1.55 2.6h-3.1z"/><path d="M377.1 307.2l1.55 2.6h-3.1z"/><path d="M377.94 307.07l1.55 2.6h-3.1z"/><path d="M380.82 306.62l1.55 2.6h-3.1z"/><path d="M384.6 306.06l1.55 2.6h-3.1z"/><path d="M388.44 305.5l1.55 2.6h-3.1z"/><path d="M392.35 304.95l1.55 2.6h-3.1z"/><path d="M396.3 304.42l1.55 2.6h-3.1z"/><path d="M400.31 303.91l1.55 2.6h-3.1z"/><path d="M404.35 303.43l1.55 2.6h-3.1z"/><path d="M406.95 303.14l1.55 2.6h-3.1z"/><path d="M408.43 302.98l1.55 2.6h-3.1z"/><path d="M412.55 302.57l1.55 2.6h-3.1z"/><path d="M416.69 302.19l1.55 2.6h-3.1z"/><path d="M420.85 301.83l1.55 2.6h-3.1z"/><path d="M425.02 301.48l1.55 2.6h-3.1z"/><path d="M429.21 301.12l1.55 2.6h-3.1z"/><path d="M433.39 300.75l1.55 2.6h-3.1z"/><path d="M437.06 300.4l1.55 2.6h-3.1z"/><path d="M437.58 300.35l1.55 2.6h-3.1z"/><path d="M441.75 299.91l1.55 2.6h-3.1z"/><path d="M445.91 299.46l1.55 2.6h-3.1z"/><path d="M450.05 299.02l1.55 2.6h-3.1z"/><path d="M454.17 298.64l1.55 2.6h-3.1z"/><path d="M454.33 298.62l1.55 2.6h-3.1z"/><path d="M458.25 298.3l1.55 2.6h-3.1z"/><path d="M462.29 298.01l1.55 2.6h-3.1z"/><path d="M466.3 297.73l1.55 2.6h-3.1z"/><path d="M470.25 297.42l1.55 2.6h-3.1z"/><path d="M470.71 297.38l1.55 2.6h-3.1z"/><path d="M474.16 297.08l1.55 2.6h-3.1z"/><path d="M478 296.7l1.55 2.6h-3.1z"/><path d="M481.78 296.28l1.55 2.6h-3.1z"/><path d="M485.5 295.75l1.55 2.6h-3.1z"/><path d="M487.09 295.47l1.55 2.6h-3.1z"/><path d="M489.14 295.06l1.55 2.6h-3.1z"/><path d="M492.7 294.25l1.55 2.6h-3.1z"/><path d="M493.29 294.12l1.55 2.6h-3.1z"/><path d="M496.18 293.47l1.55 2.6h-3.1z"/><path d="M499.57 292.75l1.55 2.6h-3.1z"/><path d="M501.93 292.25l1.55 2.6h-3.1z"/><path d="M502.87 292.06l1.55 2.6h-3.1z"/><path d="M506.08 291.38l1.55 2.6h-3.1z"/><path d="M509.19 290.72l1.55 2.6h-3.1z"/><path d="M511.89 290.14l1.55 2.6h-3.1z"/><path d="M512.2 290.07l1.55 2.6h-3.1z"/><path d="M515.1 289.43l1.55 2.6h-3.1z"/><path d="M517.89 288.77l1.55 2.6h-3.1z"/><path d="M520.57 288.07l1.55 2.6h-3.1z"/><path d="M522.07 287.64l1.55 2.6h-3.1z"/><path d="M523.13 287.32l1.55 2.6h-3.1z"/><path d="M525.58 286.49l1.55 2.6h-3.1z"/><path d="M527.9 285.57l1.55 2.6h-3.1z"/><path d="M530.11 284.53l1.55 2.6h-3.1z"/><path d="M532.04 283.44l1.55 2.6h-3.1z"/><path d="M532.19 283.35l1.55 2.6h-3.1z"/><path d="M534.14 282.03l1.55 2.6h-3.1z"/><path d="M535.97 280.61l1.55 2.6h-3.1z"/><path d="M536.91 279.81l1.55 2.6h-3.1z"/><path d="M537.67 279.11l1.55 2.6h-3.1z"/><path d="M539.25 277.57l1.55 2.6h-3.1z"/><path d="M540.69 276.04l1.55 2.6h-3.1z"/><path d="M540.89 275.81l1.55 2.6h-3.1z"/><path d="M542 274.59l1.55 2.6h-3.1z"/></g>
<path d="M320.6 323 L321.49 269.83 L321.91 259.4 L323.26 250.52 L323.35 250.52 L324.93 250.51 L326.63 250.5 L328.46 250.48 L330.41 250.46 L332.49 250.43 L334.7 250.38 L337.02 250.33 L339.47 250.26 L341.63 250.18 L342.03 250.16 L344.71 250 L347.5 249.78 L350.4 249.53 L352.7 249.31 L353.41 249.25 L356.52 248.96 L359.73 248.69 L363.03 248.47 L363.55 248.45 L366.42 248.33 L369.9 248.23 L373.46 248.17 L377.1 248.17 L379.05 248.23 L380.82 248.35 L384.6 248.85 L388.44 249.63 L389.9 249.98 L392.35 250.63 L396.3 251.82 L400.31 253.04 L400.75 253.17 L404.35 254.21 L408.43 255.47 L408.5 255.49 L412.55 257.02 L416.69 258.78 L417.13 258.97 L420.85 260.56 L425.02 262.26 L428.2 263.43 L429.21 263.77 L433.39 265.06 L437.58 266.14 L439.05 266.47 L441.75 267.02 L445.91 267.76 L450.05 268.35 L452.11 268.6 L454.17 268.82 L458.25 269.18 L462.29 269.49 L466.3 269.76 L470.25 270.04 L471.82 270.16 L474.16 270.33 L478 270.62 L481.78 270.9 L485.5 271.18 L489.14 271.45 L491.96 271.66 L492.7 271.71 L496.18 271.97 L499.57 272.22 L502.87 272.47 L506.08 272.71 L509.19 272.96 L511.89 273.18 L512.2 273.2 L515.1 273.45 L517.89 273.69 L520.57 273.93 L523.13 274.16 L525.58 274.39 L527.9 274.6 L530.11 274.8 L532.04 274.98 L532.19 274.99 L534.14 275.17 L535.97 275.34 L537.67 275.49 L539.25 275.64 L540.69 275.77 L542 275.89" stroke="#2323ff" stroke-width="1.1" fill="none"/>
<g fill="#2323ff"><path d="M320.6 321.4l1.55 2.6h-3.1z"/><path d="M321.49 268.23l1.55 2.6h-3.1z"/><path d="M321.91 257.8l1.55 2.6h-3.1z"/><path d="M323.26 248.92l1.55 2.6h-3.1z"/><path d="M323.35 248.92l1.55 2.6h-3.1z"/><path d="M324.93 248.91l1.55 2.6h-3.1z"/><path d="M326.63 248.9l1.55 2.6h-3.1z"/><path d="M328.46 248.88l1.55 2.6h-3.1z"/><path d="M330.41 248.86l1.55 2.6h-3.1z"/><path d="M332.49 248.83l1.55 2.6h-3.1z"/><path d="M334.7 248.78l1.55 2.6h-3.1z"/><path d="M337.02 248.73l1.55 2.6h-3.1z"/><path d="M339.47 248.66l1.55 2.6h-3.1z"/><path d="M341.63 248.58l1.55 2.6h-3.1z"/><path d="M342.03 248.56l1.55 2.6h-3.1z"/><path d="M344.71 248.4l1.55 2.6h-3.1z"/><path d="M347.5 248.18l1.55 2.6h-3.1z"/><path d="M350.4 247.93l1.55 2.6h-3.1z"/><path d="M352.7 247.71l1.55 2.6h-3.1z"/><path d="M353.41 247.65l1.55 2.6h-3.1z"/><path d="M356.52 247.36l1.55 2.6h-3.1z"/><path d="M359.73 247.09l1.55 2.6h-3.1z"/><path d="M363.03 246.87l1.55 2.6h-3.1z"/><path d="M363.55 246.85l1.55 2.6h-3.1z"/><path d="M366.42 246.73l1.55 2.6h-3.1z"/><path d="M369.9 246.63l1.55 2.6h-3.1z"/><path d="M373.46 246.57l1.55 2.6h-3.1z"/><path d="M377.1 246.57l1.55 2.6h-3.1z"/><path d="M379.05 246.63l1.55 2.6h-3.1z"/><path d="M380.82 246.75l1.55 2.6h-3.1z"/><path d="M384.6 247.25l1.55 2.6h-3.1z"/><path d="M388.44 248.03l1.55 2.6h-3.1z"/><path d="M389.9 248.38l1.55 2.6h-3.1z"/><path d="M392.35 249.03l1.55 2.6h-3.1z"/><path d="M396.3 250.22l1.55 2.6h-3.1z"/><path d="M400.31 251.44l1.55 2.6h-3.1z"/><path d="M400.75 251.57l1.55 2.6h-3.1z"/><path d="M404.35 252.61l1.55 2.6h-3.1z"/><path d="M408.43 253.87l1.55 2.6h-3.1z"/><path d="M408.5 253.89l1.55 2.6h-3.1z"/><path d="M412.55 255.42l1.55 2.6h-3.1z"/><path d="M416.69 257.18l1.55 2.6h-3.1z"/><path d="M417.13 257.37l1.55 2.6h-3.1z"/><path d="M420.85 258.96l1.55 2.6h-3.1z"/><path d="M425.02 260.66l1.55 2.6h-3.1z"/><path d="M428.2 261.83l1.55 2.6h-3.1z"/><path d="M429.21 262.17l1.55 2.6h-3.1z"/><path d="M433.39 263.46l1.55 2.6h-3.1z"/><path d="M437.58 264.54l1.55 2.6h-3.1z"/><path d="M439.05 264.87l1.55 2.6h-3.1z"/><path d="M441.75 265.42l1.55 2.6h-3.1z"/><path d="M445.91 266.16l1.55 2.6h-3.1z"/><path d="M450.05 266.75l1.55 2.6h-3.1z"/><path d="M452.11 267l1.55 2.6h-3.1z"/><path d="M454.17 267.22l1.55 2.6h-3.1z"/><path d="M458.25 267.58l1.55 2.6h-3.1z"/><path d="M462.29 267.89l1.55 2.6h-3.1z"/><path d="M466.3 268.16l1.55 2.6h-3.1z"/><path d="M470.25 268.44l1.55 2.6h-3.1z"/><path d="M471.82 268.56l1.55 2.6h-3.1z"/><path d="M474.16 268.73l1.55 2.6h-3.1z"/><path d="M478 269.02l1.55 2.6h-3.1z"/><path d="M481.78 269.3l1.55 2.6h-3.1z"/><path d="M485.5 269.58l1.55 2.6h-3.1z"/><path d="M489.14 269.85l1.55 2.6h-3.1z"/><path d="M491.96 270.06l1.55 2.6h-3.1z"/><path d="M492.7 270.11l1.55 2.6h-3.1z"/><path d="M496.18 270.37l1.55 2.6h-3.1z"/><path d="M499.57 270.62l1.55 2.6h-3.1z"/><path d="M502.87 270.87l1.55 2.6h-3.1z"/><path d="M506.08 271.11l1.55 2.6h-3.1z"/><path d="M509.19 271.36l1.55 2.6h-3.1z"/><path d="M511.89 271.58l1.55 2.6h-3.1z"/><path d="M512.2 271.6l1.55 2.6h-3.1z"/><path d="M515.1 271.85l1.55 2.6h-3.1z"/><path d="M517.89 272.09l1.55 2.6h-3.1z"/><path d="M520.57 272.33l1.55 2.6h-3.1z"/><path d="M523.13 272.56l1.55 2.6h-3.1z"/><path d="M525.58 272.79l1.55 2.6h-3.1z"/><path d="M527.9 273l1.55 2.6h-3.1z"/><path d="M530.11 273.2l1.55 2.6h-3.1z"/><path d="M532.04 273.38l1.55 2.6h-3.1z"/><path d="M532.19 273.39l1.55 2.6h-3.1z"/><path d="M534.14 273.57l1.55 2.6h-3.1z"/><path d="M535.97 273.74l1.55 2.6h-3.1z"/><path d="M537.67 273.89l1.55 2.6h-3.1z"/><path d="M539.25 274.04l1.55 2.6h-3.1z"/><path d="M540.69 274.17l1.55 2.6h-3.1z"/><path d="M542 274.29l1.55 2.6h-3.1z"/></g>
<path d="M320.6 323 L321.91 322.89 L322.81 322.78 L323.35 322.69 L324.93 322.29 L326.63 321.65 L328.46 320.82 L328.9 320.61 L330.41 319.9 L332.49 318.98 L334.7 318.08 L337.02 317.21 L339.47 316.37 L339.8 316.26 L342.03 315.55 L344.71 314.76 L347.5 314.01 L350.4 313.31 L350.71 313.24 L353.41 312.66 L356.52 312.06 L359.73 311.48 L363.03 310.9 L363.77 310.76 L366.42 310.3 L369.9 309.69 L373.46 309.09 L377.1 308.5 L377.94 308.36 L380.82 307.92 L384.6 307.36 L388.44 306.8 L392.35 306.25 L396.3 305.72 L400.31 305.21 L404.35 304.73 L406.95 304.44 L408.43 304.28 L412.55 303.87 L416.69 303.49 L420.85 303.13 L425.02 302.77 L429.21 302.42 L433.39 302.04 L437.06 301.7 L437.58 301.64 L441.75 301.21 L445.91 300.76 L450.05 300.32 L454.17 299.93 L454.33 299.92 L458.25 299.6 L462.29 299.31 L466.3 299.03 L470.25 298.71 L470.71 298.68 L474.16 298.37 L478 298 L481.78 297.58 L485.5 297.05 L487.09 296.77 L489.14 296.35 L492.7 295.55 L493.29 295.41 L496.18 294.77 L499.57 294.04 L501.93 293.55 L502.87 293.35 L506.08 292.68 L509.19 292.02 L511.89 291.44 L512.2 291.37 L515.1 290.72 L517.89 290.07 L520.57 289.37 L522.07 288.94 L523.13 288.61 L525.58 287.78 L527.9 286.86 L530.11 285.85 L532.04 284.8 L532.19 284.72 L534.14 283.47 L535.97 282.11 L536.91 281.33 L537.67 280.66 L539.25 279.14 L540.69 277.63 L540.89 277.41 L542 276.19" stroke="#109010" stroke-width="1.0" fill="none"/>
<g fill="#109010"><circle cx="320.6" cy="323" r="1.1"/><circle cx="321.91" cy="322.89" r="1.1"/><circle cx="322.81" cy="322.78" r="1.1"/><circle cx="323.35" cy="322.69" r="1.1"/><circle cx="324.93" cy="322.29" r="1.1"/><circle cx="326.63" cy="321.65" r="1.1"/><circle cx="328.46" cy="320.82" r="1.1"/><circle cx="328.9" cy="320.61" r="1.1"/><circle cx="330.41" cy="319.9" r="1.1"/><circle cx="332.49" cy="318.98" r="1.1"/><circle cx="334.7" cy="318.08" r="1.1"/><circle cx="337.02" cy="317.21" r="1.1"/><circle cx="339.47" cy="316.37" r="1.1"/><circle cx="339.8" cy="316.26" r="1.1"/><circle cx="342.03" cy="315.55" r="1.1"/><circle cx="344.71" cy="314.76" r="1.1"/><circle cx="347.5" cy="314.01" r="1.1"/><circle cx="350.4" cy="313.31" r="1.1"/><circle cx="350.71" cy="313.24" r="1.1"/><circle cx="353.41" cy="312.66" r="1.1"/><circle cx="356.52" cy="312.06" r="1.1"/><circle cx="359.73" cy="311.48" r="1.1"/><circle cx="363.03" cy="310.9" r="1.1"/><circle cx="363.77" cy="310.76" r="1.1"/><circle cx="366.42" cy="310.3" r="1.1"/><circle cx="369.9" cy="309.69" r="1.1"/><circle cx="373.46" cy="309.09" r="1.1"/><circle cx="377.1" cy="308.5" r="1.1"/><circle cx="377.94" cy="308.36" r="1.1"/><circle cx="380.82" cy="307.92" r="1.1"/><circle cx="384.6" cy="307.36" r="1.1"/><circle cx="388.44" cy="306.8" r="1.1"/><circle cx="392.35" cy="306.25" r="1.1"/><circle cx="396.3" cy="305.72" r="1.1"/><circle cx="400.31" cy="305.21" r="1.1"/><circle cx="404.35" cy="304.73" r="1.1"/><circle cx="406.95" cy="304.44" r="1.1"/><circle cx="408.43" cy="304.28" r="1.1"/><circle cx="412.55" cy="303.87" r="1.1"/><circle cx="416.69" cy="303.49" r="1.1"/><circle cx="420.85" cy="303.13" r="1.1"/><circle cx="425.02" cy="302.77" r="1.1"/><circle cx="429.21" cy="302.42" r="1.1"/><circle cx="433.39" cy="302.04" r="1.1"/><circle cx="437.06" cy="301.7" r="1.1"/><circle cx="437.58" cy="301.64" r="1.1"/><circle cx="441.75" cy="301.21" r="1.1"/><circle cx="445.91" cy="300.76" r="1.1"/><circle cx="450.05" cy="300.32" r="1.1"/><circle cx="454.17" cy="299.93" r="1.1"/><circle cx="454.33" cy="299.92" r="1.1"/><circle cx="458.25" cy="299.6" r="1.1"/><circle cx="462.29" cy="299.31" r="1.1"/><circle cx="466.3" cy="299.03" r="1.1"/><circle cx="470.25" cy="298.71" r="1.1"/><circle cx="470.71" cy="298.68" r="1.1"/><circle cx="474.16" cy="298.37" r="1.1"/><circle cx="478" cy="298" r="1.1"/><circle cx="481.78" cy="297.58" r="1.1"/><circle cx="485.5" cy="297.05" r="1.1"/><circle cx="487.09" cy="296.77" r="1.1"/><circle cx="489.14" cy="296.35" r="1.1"/><circle cx="492.7" cy="295.55" r="1.1"/><circle cx="493.29" cy="295.41" r="1.1"/><circle cx="496.18" cy="294.77" r="1.1"/><circle cx="499.57" cy="294.04" r="1.1"/><circle cx="501.93" cy="293.55" r="1.1"/><circle cx="502.87" cy="293.35" r="1.1"/><circle cx="506.08" cy="292.68" r="1.1"/><circle cx="509.19" cy="292.02" r="1.1"/><circle cx="511.89" cy="291.44" r="1.1"/><circle cx="512.2" cy="291.37" r="1.1"/><circle cx="515.1" cy="290.72" r="1.1"/><circle cx="517.89" cy="290.07" r="1.1"/><circle cx="520.57" cy="289.37" r="1.1"/><circle cx="522.07" cy="288.94" r="1.1"/><circle cx="523.13" cy="288.61" r="1.1"/><circle cx="525.58" cy="287.78" r="1.1"/><circle cx="527.9" cy="286.86" r="1.1"/><circle cx="530.11" cy="285.85" r="1.1"/><circle cx="532.04" cy="284.8" r="1.1"/><circle cx="532.19" cy="284.72" r="1.1"/><circle cx="534.14" cy="283.47" r="1.1"/><circle cx="535.97" cy="282.11" r="1.1"/><circle cx="536.91" cy="281.33" r="1.1"/><circle cx="537.67" cy="280.66" r="1.1"/><circle cx="539.25" cy="279.14" r="1.1"/><circle cx="540.69" cy="277.63" r="1.1"/><circle cx="540.89" cy="277.41" r="1.1"/><circle cx="542" cy="276.19" r="1.1"/></g>
<path d="M320.6 323 L321.49 270 L321.91 259.97 L323.26 252.03 L323.35 252.03 L324.93 252.01 L326.63 251.98 L328.46 251.94 L330.41 251.89 L332.49 251.82 L334.7 251.74 L337.02 251.64 L339.47 251.52 L341.63 251.4 L342.03 251.38 L344.71 251.2 L347.5 250.98 L350.4 250.72 L352.7 250.51 L353.41 250.45 L356.52 250.17 L359.73 249.9 L363.03 249.68 L363.55 249.66 L366.42 249.54 L369.9 249.44 L373.46 249.37 L377.1 249.36 L379.05 249.39 L380.82 249.47 L384.6 249.79 L388.44 250.36 L389.9 250.64 L392.35 251.21 L396.3 252.36 L400.31 253.66 L400.75 253.8 L404.35 254.95 L408.43 256.31 L408.5 256.33 L412.55 257.81 L416.69 259.39 L417.13 259.56 L420.85 260.94 L425.02 262.42 L428.2 263.47 L429.21 263.79 L433.39 265.04 L437.58 266.13 L439.05 266.46 L441.75 267.02 L445.91 267.76 L450.05 268.35 L452.11 268.6 L454.17 268.82 L458.25 269.18 L462.29 269.49 L466.3 269.76 L470.25 270.04 L471.82 270.16 L474.16 270.33 L478 270.62 L481.78 270.9 L485.5 271.18 L489.14 271.45 L491.96 271.66 L492.7 271.71 L496.18 271.97 L499.57 272.22 L502.87 272.47 L506.08 272.71 L509.19 272.96 L511.89 273.18 L512.2 273.2 L515.1 273.45 L517.89 273.69 L520.57 273.93 L523.13 274.16 L525.58 274.39 L527.9 274.6 L530.11 274.8 L532.04 274.98 L532.19 274.99 L534.14 275.17 L535.97 275.34 L537.67 275.49 L539.25 275.64 L540.69 275.77 L542 275.89" stroke="#109010" stroke-width="1.0" fill="none"/>
<g fill="#109010"><circle cx="320.6" cy="323" r="1.1"/><circle cx="321.49" cy="270" r="1.1"/><circle cx="321.91" cy="259.97" r="1.1"/><circle cx="323.26" cy="252.03" r="1.1"/><circle cx="323.35" cy="252.03" r="1.1"/><circle cx="324.93" cy="252.01" r="1.1"/><circle cx="326.63" cy="251.98" r="1.1"/><circle cx="328.46" cy="251.94" r="1.1"/><circle cx="330.41" cy="251.89" r="1.1"/><circle cx="332.49" cy="251.82" r="1.1"/><circle cx="334.7" cy="251.74" r="1.1"/><circle cx="337.02" cy="251.64" r="1.1"/><circle cx="339.47" cy="251.52" r="1.1"/><circle cx="341.63" cy="251.4" r="1.1"/><circle cx="342.03" cy="251.38" r="1.1"/><circle cx="344.71" cy="251.2" r="1.1"/><circle cx="347.5" cy="250.98" r="1.1"/><circle cx="350.4" cy="250.72" r="1.1"/><circle cx="352.7" cy="250.51" r="1.1"/><circle cx="353.41" cy="250.45" r="1.1"/><circle cx="356.52" cy="250.17" r="1.1"/><circle cx="359.73" cy="249.9" r="1.1"/><circle cx="363.03" cy="249.68" r="1.1"/><circle cx="363.55" cy="249.66" r="1.1"/><circle cx="366.42" cy="249.54" r="1.1"/><circle cx="369.9" cy="249.44" r="1.1"/><circle cx="373.46" cy="249.37" r="1.1"/><circle cx="377.1" cy="249.36" r="1.1"/><circle cx="379.05" cy="249.39" r="1.1"/><circle cx="380.82" cy="249.47" r="1.1"/><circle cx="384.6" cy="249.79" r="1.1"/><circle cx="388.44" cy="250.36" r="1.1"/><circle cx="389.9" cy="250.64" r="1.1"/><circle cx="392.35" cy="251.21" r="1.1"/><circle cx="396.3" cy="252.36" r="1.1"/><circle cx="400.31" cy="253.66" r="1.1"/><circle cx="400.75" cy="253.8" r="1.1"/><circle cx="404.35" cy="254.95" r="1.1"/><circle cx="408.43" cy="256.31" r="1.1"/><circle cx="408.5" cy="256.33" r="1.1"/><circle cx="412.55" cy="257.81" r="1.1"/><circle cx="416.69" cy="259.39" r="1.1"/><circle cx="417.13" cy="259.56" r="1.1"/><circle cx="420.85" cy="260.94" r="1.1"/><circle cx="425.02" cy="262.42" r="1.1"/><circle cx="428.2" cy="263.47" r="1.1"/><circle cx="429.21" cy="263.79" r="1.1"/><circle cx="433.39" cy="265.04" r="1.1"/><circle cx="437.58" cy="266.13" r="1.1"/><circle cx="439.05" cy="266.46" r="1.1"/><circle cx="441.75" cy="267.02" r="1.1"/><circle cx="445.91" cy="267.76" r="1.1"/><circle cx="450.05" cy="268.35" r="1.1"/><circle cx="452.11" cy="268.6" r="1.1"/><circle cx="454.17" cy="268.82" r="1.1"/><circle cx="458.25" cy="269.18" r="1.1"/><circle cx="462.29" cy="269.49" r="1.1"/><circle cx="466.3" cy="269.76" r="1.1"/><circle cx="470.25" cy="270.04" r="1.1"/><circle cx="471.82" cy="270.16" r="1.1"/><circle cx="474.16" cy="270.33" r="1.1"/><circle cx="478" cy="270.62" r="1.1"/><circle cx="481.78" cy="270.9" r="1.1"/><circle cx="485.5" cy="271.18" r="1.1"/><circle cx="489.14" cy="271.45" r="1.1"/><circle cx="491.96" cy="271.66" r="1.1"/><circle cx="492.7" cy="271.71" r="1.1"/><circle cx="496.18" cy="271.97" r="1.1"/><circle cx="499.57" cy="272.22" r="1.1"/><circle cx="502.87" cy="272.47" r="1.1"/><circle cx="506.08" cy="272.71" r="1.1"/><circle cx="509.19" cy="272.96" r="1.1"/><circle cx="511.89" cy="273.18" r="1.1"/><circle cx="512.2" cy="273.2" r="1.1"/><circle cx="515.1" cy="273.45" r="1.1"/><circle cx="517.89" cy="273.69" r="1.1"/><circle cx="520.57" cy="273.93" r="1.1"/><circle cx="523.13" cy="274.16" r="1.1"/><circle cx="525.58" cy="274.39" r="1.1"/><circle cx="527.9" cy="274.6" r="1.1"/><circle cx="530.11" cy="274.8" r="1.1"/><circle cx="532.04" cy="274.98" r="1.1"/><circle cx="532.19" cy="274.99" r="1.1"/><circle cx="534.14" cy="275.17" r="1.1"/><circle cx="535.97" cy="275.34" r="1.1"/><circle cx="537.67" cy="275.49" r="1.1"/><circle cx="539.25" cy="275.64" r="1.1"/><circle cx="540.69" cy="275.77" r="1.1"/><circle cx="542" cy="275.89" r="1.1"/></g>
<path d="M320.6 323 L321.91 322.79 L322.81 322.6 L323.35 322.45 L324.93 321.88 L326.63 321.04 L328.46 320 L328.9 319.75 L330.41 318.92 L332.49 317.9 L334.7 316.98 L337.02 316.12 L339.47 315.29 L339.8 315.19 L342.03 314.49 L344.71 313.7 L347.5 312.95 L350.4 312.25 L350.71 312.18 L353.41 311.6 L356.52 311 L359.73 310.42 L363.03 309.84 L363.77 309.71 L366.42 309.24 L369.9 308.63 L373.46 308.03 L377.1 307.44 L377.94 307.31 L380.82 306.86 L384.6 306.3 L388.44 305.74 L392.35 305.19 L396.3 304.66 L400.31 304.15 L404.35 303.67 L406.95 303.38 L408.43 303.23 L412.55 302.81 L416.69 302.43 L420.85 302.07 L425.02 301.72 L429.21 301.36 L433.39 300.99 L437.06 300.64 L437.58 300.59 L441.75 300.15 L445.91 299.7 L450.05 299.27 L454.17 298.88 L454.33 298.86 L458.25 298.55 L462.29 298.26 L466.3 297.97 L470.25 297.66 L470.71 297.62 L474.16 297.32 L478 296.94 L481.78 296.52 L485.5 295.99 L487.09 295.71 L489.14 295.3 L492.7 294.49 L493.29 294.36 L496.18 293.71 L499.57 292.99 L501.93 292.5 L502.87 292.3 L506.08 291.63 L509.19 290.96 L511.89 290.38 L512.2 290.31 L515.1 289.67 L517.89 289.01 L520.57 288.3 L522.07 287.86 L523.13 287.52 L525.58 286.67 L527.9 285.77 L530.11 284.84 L532.04 283.96 L532.19 283.89 L534.14 282.87 L535.97 281.75 L536.91 281.08 L537.67 280.47 L539.25 279.06 L540.69 277.6 L540.89 277.38 L542 276.19" stroke="#333333" stroke-width="0.8" fill="none"/>
<g fill="#fff" stroke="#2a2a2a" stroke-width="0.7"><circle cx="320.6" cy="323" r="1.35"/><circle cx="321.91" cy="322.79" r="1.35"/><circle cx="322.81" cy="322.6" r="1.35"/><circle cx="323.35" cy="322.45" r="1.35"/><circle cx="324.93" cy="321.88" r="1.35"/><circle cx="326.63" cy="321.04" r="1.35"/><circle cx="328.46" cy="320" r="1.35"/><circle cx="328.9" cy="319.75" r="1.35"/><circle cx="330.41" cy="318.92" r="1.35"/><circle cx="332.49" cy="317.9" r="1.35"/><circle cx="334.7" cy="316.98" r="1.35"/><circle cx="337.02" cy="316.12" r="1.35"/><circle cx="339.47" cy="315.29" r="1.35"/><circle cx="339.8" cy="315.19" r="1.35"/><circle cx="342.03" cy="314.49" r="1.35"/><circle cx="344.71" cy="313.7" r="1.35"/><circle cx="347.5" cy="312.95" r="1.35"/><circle cx="350.4" cy="312.25" r="1.35"/><circle cx="350.71" cy="312.18" r="1.35"/><circle cx="353.41" cy="311.6" r="1.35"/><circle cx="356.52" cy="311" r="1.35"/><circle cx="359.73" cy="310.42" r="1.35"/><circle cx="363.03" cy="309.84" r="1.35"/><circle cx="363.77" cy="309.71" r="1.35"/><circle cx="366.42" cy="309.24" r="1.35"/><circle cx="369.9" cy="308.63" r="1.35"/><circle cx="373.46" cy="308.03" r="1.35"/><circle cx="377.1" cy="307.44" r="1.35"/><circle cx="377.94" cy="307.31" r="1.35"/><circle cx="380.82" cy="306.86" r="1.35"/><circle cx="384.6" cy="306.3" r="1.35"/><circle cx="388.44" cy="305.74" r="1.35"/><circle cx="392.35" cy="305.19" r="1.35"/><circle cx="396.3" cy="304.66" r="1.35"/><circle cx="400.31" cy="304.15" r="1.35"/><circle cx="404.35" cy="303.67" r="1.35"/><circle cx="406.95" cy="303.38" r="1.35"/><circle cx="408.43" cy="303.23" r="1.35"/><circle cx="412.55" cy="302.81" r="1.35"/><circle cx="416.69" cy="302.43" r="1.35"/><circle cx="420.85" cy="302.07" r="1.35"/><circle cx="425.02" cy="301.72" r="1.35"/><circle cx="429.21" cy="301.36" r="1.35"/><circle cx="433.39" cy="300.99" r="1.35"/><circle cx="437.06" cy="300.64" r="1.35"/><circle cx="437.58" cy="300.59" r="1.35"/><circle cx="441.75" cy="300.15" r="1.35"/><circle cx="445.91" cy="299.7" r="1.35"/><circle cx="450.05" cy="299.27" r="1.35"/><circle cx="454.17" cy="298.88" r="1.35"/><circle cx="454.33" cy="298.86" r="1.35"/><circle cx="458.25" cy="298.55" r="1.35"/><circle cx="462.29" cy="298.26" r="1.35"/><circle cx="466.3" cy="297.97" r="1.35"/><circle cx="470.25" cy="297.66" r="1.35"/><circle cx="470.71" cy="297.62" r="1.35"/><circle cx="474.16" cy="297.32" r="1.35"/><circle cx="478" cy="296.94" r="1.35"/><circle cx="481.78" cy="296.52" r="1.35"/><circle cx="485.5" cy="295.99" r="1.35"/><circle cx="487.09" cy="295.71" r="1.35"/><circle cx="489.14" cy="295.3" r="1.35"/><circle cx="492.7" cy="294.49" r="1.35"/><circle cx="493.29" cy="294.36" r="1.35"/><circle cx="496.18" cy="293.71" r="1.35"/><circle cx="499.57" cy="292.99" r="1.35"/><circle cx="501.93" cy="292.5" r="1.35"/><circle cx="502.87" cy="292.3" r="1.35"/><circle cx="506.08" cy="291.63" r="1.35"/><circle cx="509.19" cy="290.96" r="1.35"/><circle cx="511.89" cy="290.38" r="1.35"/><circle cx="512.2" cy="290.31" r="1.35"/><circle cx="515.1" cy="289.67" r="1.35"/><circle cx="517.89" cy="289.01" r="1.35"/><circle cx="520.57" cy="288.3" r="1.35"/><circle cx="522.07" cy="287.86" r="1.35"/><circle cx="523.13" cy="287.52" r="1.35"/><circle cx="525.58" cy="286.67" r="1.35"/><circle cx="527.9" cy="285.77" r="1.35"/><circle cx="530.11" cy="284.84" r="1.35"/><circle cx="532.04" cy="283.96" r="1.35"/><circle cx="532.19" cy="283.89" r="1.35"/><circle cx="534.14" cy="282.87" r="1.35"/><circle cx="535.97" cy="281.75" r="1.35"/><circle cx="536.91" cy="281.08" r="1.35"/><circle cx="537.67" cy="280.47" r="1.35"/><circle cx="539.25" cy="279.06" r="1.35"/><circle cx="540.69" cy="277.6" r="1.35"/><circle cx="540.89" cy="277.38" r="1.35"/><circle cx="542" cy="276.19" r="1.35"/></g>
<path d="M320.6 323 L321.04 235.42 L321.91 248.07 L322.37 254.75 L323.35 254.75 L324.93 254.75 L326.63 254.75 L328.46 254.75 L330.41 254.75 L332.49 254.75 L334.7 254.75 L337.02 254.75 L339.47 254.75 L341.63 254.75 L342.03 254.75 L344.71 254.75 L347.5 254.75 L350.4 254.78 L352.7 254.85 L353.41 254.88 L356.52 255.15 L359.73 255.6 L363.03 256.18 L363.55 256.27 L366.42 256.83 L369.9 257.55 L373.46 258.34 L377.1 259.14 L379.05 259.55 L380.82 259.91 L384.6 260.65 L388.44 261.43 L389.9 261.74 L392.35 262.3 L396.3 263.28 L400.31 264.29 L400.75 264.4 L404.35 265.27 L408.43 266.16 L408.5 266.18 L412.55 266.95 L416.69 267.63 L417.13 267.7 L420.85 268.24 L425.02 268.82 L428.2 269.32 L429.21 269.51 L433.39 270.33 L437.58 271.05 L439.05 271.24 L441.75 271.48 L445.91 271.71 L450.05 271.88 L452.11 271.97 L454.17 272.06 L458.25 272.26 L462.29 272.45 L466.3 272.64 L470.25 272.8 L471.82 272.86 L474.16 272.94 L478 273.07 L481.78 273.18 L485.5 273.29 L489.14 273.39 L491.96 273.47 L492.7 273.49 L496.18 273.59 L499.57 273.68 L502.87 273.77 L506.08 273.87 L509.19 273.98 L511.89 274.1 L512.2 274.11 L515.1 274.27 L517.89 274.46 L520.57 274.67 L523.13 274.88 L525.58 275.08 L527.9 275.27 L530.11 275.43 L532.04 275.57 L532.19 275.58 L534.14 275.71 L535.97 275.83 L537.67 275.93 L539.25 276.03 L540.69 276.11 L542 276.19" stroke="#333333" stroke-width="0.8" fill="none"/>
<g fill="#fff" stroke="#2a2a2a" stroke-width="0.7"><circle cx="320.6" cy="323" r="1.35"/><circle cx="321.04" cy="235.42" r="1.35"/><circle cx="321.91" cy="248.07" r="1.35"/><circle cx="322.37" cy="254.75" r="1.35"/><circle cx="323.35" cy="254.75" r="1.35"/><circle cx="324.93" cy="254.75" r="1.35"/><circle cx="326.63" cy="254.75" r="1.35"/><circle cx="328.46" cy="254.75" r="1.35"/><circle cx="330.41" cy="254.75" r="1.35"/><circle cx="332.49" cy="254.75" r="1.35"/><circle cx="334.7" cy="254.75" r="1.35"/><circle cx="337.02" cy="254.75" r="1.35"/><circle cx="339.47" cy="254.75" r="1.35"/><circle cx="341.63" cy="254.75" r="1.35"/><circle cx="342.03" cy="254.75" r="1.35"/><circle cx="344.71" cy="254.75" r="1.35"/><circle cx="347.5" cy="254.75" r="1.35"/><circle cx="350.4" cy="254.78" r="1.35"/><circle cx="352.7" cy="254.85" r="1.35"/><circle cx="353.41" cy="254.88" r="1.35"/><circle cx="356.52" cy="255.15" r="1.35"/><circle cx="359.73" cy="255.6" r="1.35"/><circle cx="363.03" cy="256.18" r="1.35"/><circle cx="363.55" cy="256.27" r="1.35"/><circle cx="366.42" cy="256.83" r="1.35"/><circle cx="369.9" cy="257.55" r="1.35"/><circle cx="373.46" cy="258.34" r="1.35"/><circle cx="377.1" cy="259.14" r="1.35"/><circle cx="379.05" cy="259.55" r="1.35"/><circle cx="380.82" cy="259.91" r="1.35"/><circle cx="384.6" cy="260.65" r="1.35"/><circle cx="388.44" cy="261.43" r="1.35"/><circle cx="389.9" cy="261.74" r="1.35"/><circle cx="392.35" cy="262.3" r="1.35"/><circle cx="396.3" cy="263.28" r="1.35"/><circle cx="400.31" cy="264.29" r="1.35"/><circle cx="400.75" cy="264.4" r="1.35"/><circle cx="404.35" cy="265.27" r="1.35"/><circle cx="408.43" cy="266.16" r="1.35"/><circle cx="408.5" cy="266.18" r="1.35"/><circle cx="412.55" cy="266.95" r="1.35"/><circle cx="416.69" cy="267.63" r="1.35"/><circle cx="417.13" cy="267.7" r="1.35"/><circle cx="420.85" cy="268.24" r="1.35"/><circle cx="425.02" cy="268.82" r="1.35"/><circle cx="428.2" cy="269.32" r="1.35"/><circle cx="429.21" cy="269.51" r="1.35"/><circle cx="433.39" cy="270.33" r="1.35"/><circle cx="437.58" cy="271.05" r="1.35"/><circle cx="439.05" cy="271.24" r="1.35"/><circle cx="441.75" cy="271.48" r="1.35"/><circle cx="445.91" cy="271.71" r="1.35"/><circle cx="450.05" cy="271.88" r="1.35"/><circle cx="452.11" cy="271.97" r="1.35"/><circle cx="454.17" cy="272.06" r="1.35"/><circle cx="458.25" cy="272.26" r="1.35"/><circle cx="462.29" cy="272.45" r="1.35"/><circle cx="466.3" cy="272.64" r="1.35"/><circle cx="470.25" cy="272.8" r="1.35"/><circle cx="471.82" cy="272.86" r="1.35"/><circle cx="474.16" cy="272.94" r="1.35"/><circle cx="478" cy="273.07" r="1.35"/><circle cx="481.78" cy="273.18" r="1.35"/><circle cx="485.5" cy="273.29" r="1.35"/><circle cx="489.14" cy="273.39" r="1.35"/><circle cx="491.96" cy="273.47" r="1.35"/><circle cx="492.7" cy="273.49" r="1.35"/><circle cx="496.18" cy="273.59" r="1.35"/><circle cx="499.57" cy="273.68" r="1.35"/><circle cx="502.87" cy="273.77" r="1.35"/><circle cx="506.08" cy="273.87" r="1.35"/><circle cx="509.19" cy="273.98" r="1.35"/><circle cx="511.89" cy="274.1" r="1.35"/><circle cx="512.2" cy="274.11" r="1.35"/><circle cx="515.1" cy="274.27" r="1.35"/><circle cx="517.89" cy="274.46" r="1.35"/><circle cx="520.57" cy="274.67" r="1.35"/><circle cx="523.13" cy="274.88" r="1.35"/><circle cx="525.58" cy="275.08" r="1.35"/><circle cx="527.9" cy="275.27" r="1.35"/><circle cx="530.11" cy="275.43" r="1.35"/><circle cx="532.04" cy="275.57" r="1.35"/><circle cx="532.19" cy="275.58" r="1.35"/><circle cx="534.14" cy="275.71" r="1.35"/><circle cx="535.97" cy="275.83" r="1.35"/><circle cx="537.67" cy="275.93" r="1.35"/><circle cx="539.25" cy="276.03" r="1.35"/><circle cx="540.69" cy="276.11" r="1.35"/><circle cx="542" cy="276.19" r="1.35"/></g>
</g>
<g fill="#fff"><rect x="50" y="236" width="78" height="17"/><rect x="86" y="319" width="74" height="13"/><rect x="385" y="233" width="75" height="15.5"/><rect x="448" y="320" width="79" height="17"/></g>
<text x="54.1" y="247.4" class="an" textLength="68.7" lengthAdjust="spacingAndGlyphs">Upper surface</text>
<text x="89.8" y="327.6" class="an" textLength="67.1" lengthAdjust="spacingAndGlyphs">Lower surface</text>
<text x="389" y="245.6" class="an" textLength="68.7" lengthAdjust="spacingAndGlyphs">Upper surface</text>
<text x="454.7" y="330.6" class="an" textLength="68" lengthAdjust="spacingAndGlyphs">Lower surface</text>
<path d="M101.7 251L112.63 256.56" stroke="#111" stroke-width="1.4"/><path d="M118.6 259.6L110.64 259.36L113.73 253.3z" fill="#111"/>
<path d="M129.9 320.3L135.03 310.35" stroke="#111" stroke-width="1.4"/><path d="M138.1 304.4L137.82 312.36L131.78 309.24z" fill="#111"/>
<path d="M436.5 248.5L438 254.22" stroke="#111" stroke-width="1.4"/><path d="M439.7 260.7L434.58 254.6L441.16 252.87z" fill="#111"/>
<path d="M479.3 320.3L464.9 310.87" stroke="#111" stroke-width="1.4"/><path d="M459.3 307.2L467.19 308.3L463.46 313.99z" fill="#111"/>
<rect x="184.5" y="75" width="74.7" height="40" fill="#fff" stroke="#3a3a3a" stroke-width="1.5"/>
<path d="M189.5 82.4H209" stroke="#ff7070" stroke-width="0.9"/>
<circle cx="199.4" cy="82.4" r="1.5" fill="#ff1a1a"/>
<text x="212" y="84.9" class="lg" fill="#ee3333" stroke="#ee3333">Baseline</text>
<path d="M189.5 91.2H209" stroke="#6b6bff" stroke-width="0.9"/>
<path d="M199.4 89.4l1.7 2.9h-3.4z" fill="#2323ff"/>
<text x="212" y="93.7" class="lg" fill="#3333ee" stroke="#3333ee">0.25c Stagger</text>
<path d="M189.5 99.9H209" stroke="#55b055" stroke-width="0.9"/>
<circle cx="199.4" cy="99.9" r="1.2" fill="#109010"/>
<text x="212" y="102.4" class="lg" fill="#229922" stroke="#229922">0.5c Stagger</text>
<path d="M189.5 108.6H209" stroke="#555555" stroke-width="0.9"/>
<circle cx="199.4" cy="108.6" r="1.4" fill="#fff" stroke="#333" stroke-width="0.7"/>
<text x="212" y="111.1" class="lg" fill="#333333" stroke="#333333">0.75c Stagger</text>
<rect x="322.4" y="66.5" width="73.6" height="43.2" fill="#fff" stroke="#3a3a3a" stroke-width="1.5"/>
<path d="M326.9 73.8H346.4" stroke="#ff7070" stroke-width="0.9"/>
<circle cx="337.1" cy="73.8" r="1.5" fill="#ff1a1a"/>
<text x="349.3" y="76.3" class="lg" fill="#ee3333" stroke="#ee3333">Baseline</text>
<path d="M326.9 83.7H346.4" stroke="#6b6bff" stroke-width="0.9"/>
<path d="M337.1 81.9l1.7 2.9h-3.4z" fill="#2323ff"/>
<text x="349.3" y="86.2" class="lg" fill="#3333ee" stroke="#3333ee">0.25<tspan font-style="italic">c</tspan> Stagger</text>
<path d="M326.9 93.6H346.4" stroke="#55b055" stroke-width="0.9"/>
<circle cx="337.1" cy="93.6" r="1.2" fill="#109010"/>
<text x="349.3" y="96.1" class="lg" fill="#229922" stroke="#229922">0.5<tspan font-style="italic">c</tspan> Stagger</text>
<path d="M326.9 103.8H346.4" stroke="#555555" stroke-width="0.9"/>
<circle cx="337.1" cy="103.8" r="1.4" fill="#fff" stroke="#333" stroke-width="0.7"/>
<text x="349.3" y="106.3" class="lg" fill="#333333" stroke="#333333">0.75<tspan font-style="italic">c</tspan> Stagger</text>
<rect x="190.4" y="294.9" width="74.6" height="41.5" fill="#fff" stroke="#3a3a3a" stroke-width="1.5"/>
<path d="M194.6 302.4H214.4" stroke="#ff7070" stroke-width="0.9"/>
<circle cx="205.1" cy="302.4" r="1.5" fill="#ff1a1a"/>
<text x="217.8" y="304.9" class="lg" fill="#ee3333" stroke="#ee3333">Baseline</text>
<path d="M194.6 311.8H214.4" stroke="#6b6bff" stroke-width="0.9"/>
<path d="M205.1 310l1.7 2.9h-3.4z" fill="#2323ff"/>
<text x="217.8" y="314.3" class="lg" fill="#3333ee" stroke="#3333ee">0.25c Stagger</text>
<path d="M194.6 321.3H214.4" stroke="#55b055" stroke-width="0.9"/>
<circle cx="205.1" cy="321.3" r="1.2" fill="#109010"/>
<text x="217.8" y="323.8" class="lg" fill="#229922" stroke="#229922">0.5c Stagger</text>
<path d="M194.6 330.8H214.4" stroke="#555555" stroke-width="0.9"/>
<circle cx="205.1" cy="330.8" r="1.4" fill="#fff" stroke="#333" stroke-width="0.7"/>
<text x="217.8" y="333.3" class="lg" fill="#333333" stroke="#333333">0.75c Stagger</text>
<rect x="466.7" y="224.9" width="73" height="37.2" fill="#fff" stroke="#3a3a3a" stroke-width="1.5"/>
<path d="M471.5 231.9H490.4" stroke="#ff7070" stroke-width="0.9"/>
<circle cx="481.6" cy="231.9" r="1.5" fill="#ff1a1a"/>
<text x="493.6" y="234.4" class="lg" fill="#ee3333" stroke="#ee3333">Baseline</text>
<path d="M471.5 240H490.4" stroke="#6b6bff" stroke-width="0.9"/>
<path d="M481.6 238.2l1.7 2.9h-3.4z" fill="#2323ff"/>
<text x="493.6" y="242.5" class="lg" fill="#3333ee" stroke="#3333ee">0.25<tspan font-style="italic">c</tspan> Stagger</text>
<path d="M471.5 248.1H490.4" stroke="#55b055" stroke-width="0.9"/>
<circle cx="481.6" cy="248.1" r="1.2" fill="#109010"/>
<text x="493.6" y="250.6" class="lg" fill="#229922" stroke="#229922">0.5<tspan font-style="italic">c</tspan> Stagger</text>
<path d="M471.5 256.2H490.4" stroke="#555555" stroke-width="0.9"/>
<circle cx="481.6" cy="256.2" r="1.4" fill="#fff" stroke="#333" stroke-width="0.7"/>
<text x="493.6" y="258.7" class="lg" fill="#333333" stroke="#333333">0.75<tspan font-style="italic">c</tspan> Stagger</text>
<text x="115.2" y="396" class="cap" textLength="13.8" lengthAdjust="spacingAndGlyphs">(<tspan font-weight="bold">a</tspan>)</text>
<text x="411.6" y="396" class="cap" textLength="16.2" lengthAdjust="spacingAndGlyphs">(<tspan font-weight="bold">b</tspan>)</text></svg></body></html>
